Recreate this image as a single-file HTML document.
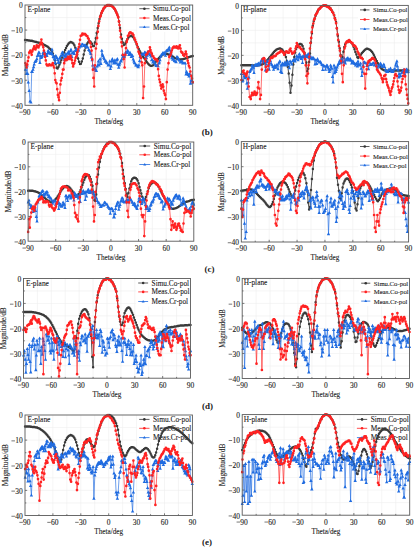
<!DOCTYPE html><html><head><meta charset="utf-8"><style>html,body{margin:0;padding:0;background:#fff;width:417px;height:550px;overflow:hidden}svg{display:block}</style></head><body>
<svg width="417" height="550" viewBox="0 0 417 550" font-family='"Liberation Serif", serif'>
<g><path d="M38.97 5V105.3M52.95 5V105.3M66.92 5V105.3M80.9 5V105.3M94.88 5V105.3M108.85 5V105.3M122.83 5V105.3M136.8 5V105.3M150.77 5V105.3M164.75 5V105.3M178.72 5V105.3M25 92.76H192.7M25 80.22H192.7M25 67.69H192.7M25 55.15H192.7M25 42.61H192.7M25 30.07H192.7M25 17.54H192.7" stroke="#eeeeee" stroke-width="0.6" fill="none"/><rect x="137.3" y="5.5" width="54.9" height="26.6" fill="#fff"/><path d="M139.3 8.7h10.2" stroke="#333" stroke-width="0.8"/><circle cx="144.4" cy="8.7" r="1.3" fill="#333"/><text x="153" y="11.2" font-size="7.3" textLength="37.52" lengthAdjust="spacingAndGlyphs" fill="#1c1c1c" stroke="#1c1c1c" stroke-width="0.1">Simu.Co-pol</text><path d="M139.3 18h10.2" stroke="#f22" stroke-width="0.8"/><circle cx="144.4" cy="18" r="1.3" fill="#f22"/><text x="153" y="20.5" font-size="7.3" textLength="37.91" lengthAdjust="spacingAndGlyphs" fill="#1c1c1c" stroke="#1c1c1c" stroke-width="0.1">Meas.Co-pol</text><path d="M139.3 27.1h10.2" stroke="#1f6be0" stroke-width="0.8"/><path d="M144.4 25.6l1.5 2.5h-3z" fill="#1f6be0"/><text x="153" y="29.6" font-size="7.3" textLength="36.55" lengthAdjust="spacingAndGlyphs" fill="#1c1c1c" stroke="#1c1c1c" stroke-width="0.1">Meas.Cr-pol</text><clipPath id="cbE"><rect x="23.5" y="3.5" width="170.7" height="103.3"/></clipPath><g clip-path="url(#cbE)"><path d="M25 40 25.9 40.1 26.9 40.2 27.8 40.3 28.7 40.4 29.7 40.5 30.6 40.7 31.5 40.8 32.5 41 33.4 41.3 34.3 41.5 35.2 41.7 36.2 42 37.1 42.2 38 42.5 39 42.8 39.9 43 40.8 43.3 41.8 43.7 42.7 44.1 43.6 44.5 44.6 44.9 45.5 45.4 46.4 46 47.4 46.6 48.3 47.3 49.2 48.2 50.2 49.1 51.1 50.2 52 51.6 52.9 53.5 53.9 56.4 54.8 60.1 55.7 63.8 56.7 67.9 57.6 68.4 58.5 66.7 59.5 64.6 60.4 62.4 61.3 59.9 62.3 57.5 63.2 54.9 64.1 52.4 65.1 50 66 47.9 66.9 46 67.9 44.4 68.8 43.2 69.7 42.4 70.7 42.1 71.6 42.2 72.5 42.7 73.4 43.6 74.4 45.2 75.3 47.8 76.2 50.9 77.2 54.4 78.1 58.4 79 61.8 80 64.1 80.9 63.7 81.8 61.6 82.8 58.6 83.7 54.5 84.6 50.5 85.6 47.5 86.5 45.1 87.4 43.2 88.4 41.7 89.3 41.1 90.2 41.5 91.1 42.6 92.1 43.8 93 46 93.9 45.9 94.9 42.6 95.8 38.2 96.7 33.1 97.7 27.9 98.6 23.2 99.5 19 100.5 15.7 101.4 13.2 102.3 11 103.3 9.3 104.2 7.9 105.1 6.8 106.1 6 107 5.5 107.9 5.1 108.9 5 109.8 5.1 110.7 5.4 111.6 5.9 112.6 6.6 113.5 7.6 114.4 8.8 115.4 10.4 116.3 12.2 117.2 14.4 118.2 17.1 119.1 21.6 120 28 121 34.6 121.9 38.8 122.8 42.4 123.8 45.1 124.7 44.6 125.6 42.8 126.6 40.9 127.5 39 128.4 37.6 129.3 36.6 130.3 36 131.2 35.8 132.1 36.2 133.1 37 134 38.4 134.9 40.3 135.9 42.3 136.8 44.5 137.7 46.7 138.7 48.8 139.6 50.7 140.5 52.4 141.5 54.1 142.4 55.6 143.3 57 144.3 58.3 145.2 59.6 146.1 61 147 62.2 148 63.4 148.9 64.4 149.8 65.2 150.8 65.7 151.7 65.8 152.6 65.5 153.6 64.8 154.5 63.7 155.4 62.4 156.4 61.1 157.3 59.9 158.2 58.8 159.2 57.8 160.1 56.8 161 56 162 55.2 162.9 54.6 163.8 54.2 164.8 53.9 165.7 53.7 166.6 53.8 167.5 54.1 168.5 54.4 169.4 54.8 170.3 55.3 171.3 55.8 172.2 56.3 173.1 56.8 174.1 57.4 175 57.9 175.9 58.3 176.9 58.7 177.8 59.1 178.7 59.4 179.7 59.6 180.6 59.6 181.5 59.5 182.5 59.3 183.4 59.1 184.3 58.8 185.2 58.5 186.2 58.2 187.1 57.8 188 57.4 189 57 189.9 56.7 190.8 56.5 191.8 56.3 192.7 56.1" fill="none" stroke="#3a3a3a" stroke-width="0.9"/><path d="M25 40h0M25.9 40.1h0M26.9 40.2h0M27.8 40.3h0M28.7 40.4h0M29.7 40.5h0M30.6 40.7h0M31.5 40.8h0M32.5 41h0M33.4 41.3h0M34.3 41.5h0M35.2 41.7h0M36.2 42h0M37.1 42.2h0M38 42.5h0M39 42.8h0M39.9 43h0M40.8 43.3h0M41.8 43.7h0M42.7 44.1h0M43.6 44.5h0M44.6 44.9h0M45.5 45.4h0M46.4 46h0M47.4 46.6h0M48.3 47.3h0M49.2 48.2h0M50.2 49.1h0M51.1 50.2h0M52 51.6h0M52.9 53.5h0M53.9 56.4h0M54.8 60.1h0M55.7 63.8h0M56.7 67.9h0M57.6 68.4h0M58.5 66.7h0M59.5 64.6h0M60.4 62.4h0M61.3 59.9h0M62.3 57.5h0M63.2 54.9h0M64.1 52.4h0M65.1 50h0M66 47.9h0M66.9 46h0M67.9 44.4h0M68.8 43.2h0M69.7 42.4h0M70.7 42.1h0M71.6 42.2h0M72.5 42.7h0M73.4 43.6h0M74.4 45.2h0M75.3 47.8h0M76.2 50.9h0M77.2 54.4h0M78.1 58.4h0M79 61.8h0M80 64.1h0M80.9 63.7h0M81.8 61.6h0M82.8 58.6h0M83.7 54.5h0M84.6 50.5h0M85.6 47.5h0M86.5 45.1h0M87.4 43.2h0M88.4 41.7h0M89.3 41.1h0M90.2 41.5h0M91.1 42.6h0M92.1 43.8h0M93 46h0M93.9 45.9h0M94.9 42.6h0M95.8 38.2h0M96.7 33.1h0M97.7 27.9h0M98.6 23.2h0M99.5 19h0M100.5 15.7h0M101.4 13.2h0M102.3 11h0M103.3 9.3h0M104.2 7.9h0M105.1 6.8h0M106.1 6h0M107 5.5h0M107.9 5.1h0M108.9 5h0M109.8 5.1h0M110.7 5.4h0M111.6 5.9h0M112.6 6.6h0M113.5 7.6h0M114.4 8.8h0M115.4 10.4h0M116.3 12.2h0M117.2 14.4h0M118.2 17.1h0M119.1 21.6h0M120 28h0M121 34.6h0M121.9 38.8h0M122.8 42.4h0M123.8 45.1h0M124.7 44.6h0M125.6 42.8h0M126.6 40.9h0M127.5 39h0M128.4 37.6h0M129.3 36.6h0M130.3 36h0M131.2 35.8h0M132.1 36.2h0M133.1 37h0M134 38.4h0M134.9 40.3h0M135.9 42.3h0M136.8 44.5h0M137.7 46.7h0M138.7 48.8h0M139.6 50.7h0M140.5 52.4h0M141.5 54.1h0M142.4 55.6h0M143.3 57h0M144.3 58.3h0M145.2 59.6h0M146.1 61h0M147 62.2h0M148 63.4h0M148.9 64.4h0M149.8 65.2h0M150.8 65.7h0M151.7 65.8h0M152.6 65.5h0M153.6 64.8h0M154.5 63.7h0M155.4 62.4h0M156.4 61.1h0M157.3 59.9h0M158.2 58.8h0M159.2 57.8h0M160.1 56.8h0M161 56h0M162 55.2h0M162.9 54.6h0M163.8 54.2h0M164.8 53.9h0M165.7 53.7h0M166.6 53.8h0M167.5 54.1h0M168.5 54.4h0M169.4 54.8h0M170.3 55.3h0M171.3 55.8h0M172.2 56.3h0M173.1 56.8h0M174.1 57.4h0M175 57.9h0M175.9 58.3h0M176.9 58.7h0M177.8 59.1h0M178.7 59.4h0M179.7 59.6h0M180.6 59.6h0M181.5 59.5h0M182.5 59.3h0M183.4 59.1h0M184.3 58.8h0M185.2 58.5h0M186.2 58.2h0M187.1 57.8h0M188 57.4h0M189 57h0M189.9 56.7h0M190.8 56.5h0M191.8 56.3h0M192.7 56.1h0" fill="none" stroke="#3a3a3a" stroke-width="2.5" stroke-linecap="round"/><path d="M25.4 69.6 26.2 73.8 27.1 65.3 27.7 73.6 28.3 82.2 29.2 90.7 30 101.2 30.9 102.3 31.7 71.7 32.3 71.9 33 69.6 33.6 67 34.2 64.3 34.9 61.8 35.5 61.1 36.1 60.5 36.8 59 37.4 55.7 38 54.8 38.7 52.5 39.3 52.7 39.9 62.7 40.6 55.8 41.2 57.8 41.8 56.9 42.5 55.3 43.1 52.7 43.7 53.8 44.4 51.6 45 55.6 45.6 53.7 46.3 54.6 46.9 55.8 47.5 53.3 48.2 50.6 48.8 51.6 49.4 52.7 50.1 53.1 50.7 53.7 51.3 53.1 52 49.5 52.6 54.2 53.2 56.9 53.9 57.4 54.5 59 55.1 62.9 55.8 55.8 56.4 56.6 57 58 57.7 59.7 58.3 62.2 58.9 62.8 59.6 58 60.2 58.1 60.8 55.8 61.5 55.7 62.1 52.7 62.7 52.5 63.4 54.8 64 58.3 64.6 60.1 65.3 55.7 65.9 53.7 66.5 56.7 67.2 56.9 67.8 53.1 68.4 51.6 69.1 57.9 69.7 53.7 70.3 50.7 71 49.5 71.8 56.8 72.6 52.7 73.5 52.1 74.3 53.7 75.2 50.5 76 49.5 76.9 49.2 77.7 50.6 78.6 50.4 79.4 47.4 80.2 46.3 81.1 46.3 81.9 44.4 82.8 44.2 83.6 45.8 84.5 45.3 85.3 45.1 86.2 47.4 87 46.5 87.8 47.4 88.7 49.8 89.5 50.6 90.2 52.3 90.8 53.7 91.4 57.1 92.1 60.1 92.7 65.1 93.3 69.6 94 68.4 94.6 67.5 95.2 69 95.9 70.6 96.5 70.8 97.1 66.4 97.8 65 98.4 61.1 99.2 65.2 100.1 59 100.9 63.7 101.8 50.6 102.4 54.4 103 55.8 103.7 57.5 104.3 59 105.1 61.5 106 61.1 106.6 62.8 107.3 63.2 108.1 65.3 109 65.3 109.8 61.1 110.4 68.9 111.1 66.4 111.7 61.4 112.3 59 113 61.3 113.6 63.2 114.2 62 114.9 60.1 115.5 62.9 116.1 63.2 116.8 59.7 117.4 59 118 64.5 118.7 67.5 119.3 65 119.9 63.2 120.6 61.1 121.2 61.1 121.8 59.1 122.5 54.8 123.1 56.3 123.7 56.9 124.4 56.4 125 54.8 125.6 52.3 126.3 52.7 126.9 52.2 127.5 50.6 128.2 51.2 128.8 54.8 129.4 53.7 130.1 52.7 130.7 54.2 131.3 56.9 132 55.1 132.6 55.8 133.2 59.2 133.9 61.1 134.5 62.9 135.1 63.2 135.8 65.2 136.4 65.3 137 65.4 137.7 66.4 138.3 67.1 138.9 65.3 139.6 60.9 140.2 56.9 140.8 56.9 141.5 54.8 142.1 54.6 142.7 53.7 143.4 54.5 144 54.8 144.6 52.5 145.3 52.7 145.9 56.8 146.5 58 147.2 55.5 147.8 51.6 148.4 53.4 149.1 53.7 149.7 54.1 150.3 54.8 150.9 56.2 151.6 60.1 152.2 59.7 152.8 62.2 153.5 61.6 154.1 61.1 155 63.8 155.8 65.3 156.6 65.7 157.5 65.3 158.1 66 158.8 63.2 159.4 62.2 160 60.1 160.7 56.4 161.3 54.8 162.1 54.2 163 52.7 163.8 53.9 164.7 52.7 165.5 55.6 166.4 50.6 167.2 51 168 49.5 168.7 49.6 169.3 47.4 169.9 50.3 170.6 52.7 171.2 54.2 171.8 58 172.7 59.5 173.5 59 174.4 60.7 175.2 61.1 176.1 61.9 176.9 56.9 177.8 57.3 178.6 59 179.4 60.3 180.3 62.2 181.1 61.6 182 61.1 182.8 63.2 183.7 63.2 184.5 63.3 185.3 63.2 186 74.2 186.6 71.7 187.5 73.5 188.3 74.8 188.9 76.3 189.6 73.8 190.4 83.5 191.3 80.1 192 80.8 192.7 82.2" fill="none" stroke="#1f6be0" stroke-width="0.65"/><path d="M25.4 67.7l1.7 3.1h-3.4zM26.2 71.9l1.7 3.1h-3.4zM27.1 63.5l1.7 3.1h-3.4zM27.7 71.8l1.7 3.1h-3.4zM28.3 80.4l1.7 3.1h-3.4zM29.2 88.8l1.7 3.1h-3.4zM30 99.4l1.7 3.1h-3.4zM30.9 100.4l1.7 3.1h-3.4zM31.7 69.8l1.7 3.1h-3.4zM32.3 70l1.7 3.1h-3.4zM33 67.7l1.7 3.1h-3.4zM33.6 65.1l1.7 3.1h-3.4zM34.2 62.4l1.7 3.1h-3.4zM34.9 59.9l1.7 3.1h-3.4zM35.5 59.3l1.7 3.1h-3.4zM36.1 58.6l1.7 3.1h-3.4zM36.8 57.1l1.7 3.1h-3.4zM37.4 53.8l1.7 3.1h-3.4zM38 52.9l1.7 3.1h-3.4zM38.7 50.6l1.7 3.1h-3.4zM39.3 50.8l1.7 3.1h-3.4zM39.9 60.8l1.7 3.1h-3.4zM40.6 54l1.7 3.1h-3.4zM41.2 55.9l1.7 3.1h-3.4zM41.8 55l1.7 3.1h-3.4zM42.5 53.4l1.7 3.1h-3.4zM43.1 50.8l1.7 3.1h-3.4zM43.7 51.9l1.7 3.1h-3.4zM44.4 49.8l1.7 3.1h-3.4zM45 53.7l1.7 3.1h-3.4zM45.6 51.9l1.7 3.1h-3.4zM46.3 52.7l1.7 3.1h-3.4zM46.9 54l1.7 3.1h-3.4zM47.5 51.4l1.7 3.1h-3.4zM48.2 48.7l1.7 3.1h-3.4zM48.8 49.8l1.7 3.1h-3.4zM49.4 50.8l1.7 3.1h-3.4zM50.1 51.2l1.7 3.1h-3.4zM50.7 51.9l1.7 3.1h-3.4zM51.3 51.2l1.7 3.1h-3.4zM52 47.6l1.7 3.1h-3.4zM52.6 52.4l1.7 3.1h-3.4zM53.2 55l1.7 3.1h-3.4zM53.9 55.5l1.7 3.1h-3.4zM54.5 57.1l1.7 3.1h-3.4zM55.1 61.1l1.7 3.1h-3.4zM55.8 54l1.7 3.1h-3.4zM56.4 54.7l1.7 3.1h-3.4zM57 56.1l1.7 3.1h-3.4zM57.7 57.9l1.7 3.1h-3.4zM58.3 60.3l1.7 3.1h-3.4zM58.9 60.9l1.7 3.1h-3.4zM59.6 56.1l1.7 3.1h-3.4zM60.2 56.3l1.7 3.1h-3.4zM60.8 54l1.7 3.1h-3.4zM61.5 53.8l1.7 3.1h-3.4zM62.1 50.8l1.7 3.1h-3.4zM62.7 50.6l1.7 3.1h-3.4zM63.4 52.9l1.7 3.1h-3.4zM64 56.4l1.7 3.1h-3.4zM64.6 58.2l1.7 3.1h-3.4zM65.3 53.8l1.7 3.1h-3.4zM65.9 51.9l1.7 3.1h-3.4zM66.5 54.8l1.7 3.1h-3.4zM67.2 55l1.7 3.1h-3.4zM67.8 51.2l1.7 3.1h-3.4zM68.4 49.8l1.7 3.1h-3.4zM69.1 56l1.7 3.1h-3.4zM69.7 51.9l1.7 3.1h-3.4zM70.3 48.8l1.7 3.1h-3.4zM71 47.6l1.7 3.1h-3.4zM71.8 54.9l1.7 3.1h-3.4zM72.6 50.8l1.7 3.1h-3.4zM73.5 50.2l1.7 3.1h-3.4zM74.3 51.9l1.7 3.1h-3.4zM75.2 48.6l1.7 3.1h-3.4zM76 47.6l1.7 3.1h-3.4zM76.9 47.3l1.7 3.1h-3.4zM77.7 48.7l1.7 3.1h-3.4zM78.6 48.5l1.7 3.1h-3.4zM79.4 45.5l1.7 3.1h-3.4zM80.2 44.4l1.7 3.1h-3.4zM81.1 44.5l1.7 3.1h-3.4zM81.9 42.5l1.7 3.1h-3.4zM82.8 42.4l1.7 3.1h-3.4zM83.6 44l1.7 3.1h-3.4zM84.5 43.4l1.7 3.1h-3.4zM85.3 43.3l1.7 3.1h-3.4zM86.2 45.5l1.7 3.1h-3.4zM87 44.7l1.7 3.1h-3.4zM87.8 45.5l1.7 3.1h-3.4zM88.7 47.9l1.7 3.1h-3.4zM89.5 48.7l1.7 3.1h-3.4zM90.2 50.4l1.7 3.1h-3.4zM90.8 51.9l1.7 3.1h-3.4zM91.4 55.3l1.7 3.1h-3.4zM92.1 58.2l1.7 3.1h-3.4zM92.7 63.3l1.7 3.1h-3.4zM93.3 67.7l1.7 3.1h-3.4zM94 66.5l1.7 3.1h-3.4zM94.6 65.6l1.7 3.1h-3.4zM95.2 67.1l1.7 3.1h-3.4zM95.9 68.8l1.7 3.1h-3.4zM96.5 69l1.7 3.1h-3.4zM97.1 64.5l1.7 3.1h-3.4zM97.8 63.1l1.7 3.1h-3.4zM98.4 59.3l1.7 3.1h-3.4zM99.2 63.4l1.7 3.1h-3.4zM100.1 57.1l1.7 3.1h-3.4zM100.9 61.8l1.7 3.1h-3.4zM101.8 48.7l1.7 3.1h-3.4zM102.4 52.5l1.7 3.1h-3.4zM103 54l1.7 3.1h-3.4zM103.7 55.6l1.7 3.1h-3.4zM104.3 57.1l1.7 3.1h-3.4zM105.1 59.6l1.7 3.1h-3.4zM106 59.3l1.7 3.1h-3.4zM106.6 60.9l1.7 3.1h-3.4zM107.3 61.4l1.7 3.1h-3.4zM108.1 63.4l1.7 3.1h-3.4zM109 63.5l1.7 3.1h-3.4zM109.8 59.3l1.7 3.1h-3.4zM110.4 67l1.7 3.1h-3.4zM111.1 64.5l1.7 3.1h-3.4zM111.7 59.5l1.7 3.1h-3.4zM112.3 57.1l1.7 3.1h-3.4zM113 59.4l1.7 3.1h-3.4zM113.6 61.4l1.7 3.1h-3.4zM114.2 60.1l1.7 3.1h-3.4zM114.9 58.2l1.7 3.1h-3.4zM115.5 61l1.7 3.1h-3.4zM116.1 61.4l1.7 3.1h-3.4zM116.8 57.8l1.7 3.1h-3.4zM117.4 57.1l1.7 3.1h-3.4zM118 62.6l1.7 3.1h-3.4zM118.7 65.6l1.7 3.1h-3.4zM119.3 63.1l1.7 3.1h-3.4zM119.9 61.4l1.7 3.1h-3.4zM120.6 59.2l1.7 3.1h-3.4zM121.2 59.3l1.7 3.1h-3.4zM121.8 57.3l1.7 3.1h-3.4zM122.5 52.9l1.7 3.1h-3.4zM123.1 54.4l1.7 3.1h-3.4zM123.7 55l1.7 3.1h-3.4zM124.4 54.5l1.7 3.1h-3.4zM125 52.9l1.7 3.1h-3.4zM125.6 50.4l1.7 3.1h-3.4zM126.3 50.8l1.7 3.1h-3.4zM126.9 50.4l1.7 3.1h-3.4zM127.5 48.7l1.7 3.1h-3.4zM128.2 49.4l1.7 3.1h-3.4zM128.8 52.9l1.7 3.1h-3.4zM129.4 51.8l1.7 3.1h-3.4zM130.1 50.8l1.7 3.1h-3.4zM130.7 52.4l1.7 3.1h-3.4zM131.3 55l1.7 3.1h-3.4zM132 53.2l1.7 3.1h-3.4zM132.6 54l1.7 3.1h-3.4zM133.2 57.3l1.7 3.1h-3.4zM133.9 59.3l1.7 3.1h-3.4zM134.5 61l1.7 3.1h-3.4zM135.1 61.4l1.7 3.1h-3.4zM135.8 63.3l1.7 3.1h-3.4zM136.4 63.5l1.7 3.1h-3.4zM137 63.6l1.7 3.1h-3.4zM137.7 64.5l1.7 3.1h-3.4zM138.3 65.2l1.7 3.1h-3.4zM138.9 63.5l1.7 3.1h-3.4zM139.6 59l1.7 3.1h-3.4zM140.2 55l1.7 3.1h-3.4zM140.8 55.1l1.7 3.1h-3.4zM141.5 52.9l1.7 3.1h-3.4zM142.1 52.8l1.7 3.1h-3.4zM142.7 51.9l1.7 3.1h-3.4zM143.4 52.6l1.7 3.1h-3.4zM144 52.9l1.7 3.1h-3.4zM144.6 50.6l1.7 3.1h-3.4zM145.3 50.8l1.7 3.1h-3.4zM145.9 54.9l1.7 3.1h-3.4zM146.5 56.1l1.7 3.1h-3.4zM147.2 53.6l1.7 3.1h-3.4zM147.8 49.8l1.7 3.1h-3.4zM148.4 51.5l1.7 3.1h-3.4zM149.1 51.9l1.7 3.1h-3.4zM149.7 52.2l1.7 3.1h-3.4zM150.3 52.9l1.7 3.1h-3.4zM150.9 54.3l1.7 3.1h-3.4zM151.6 58.2l1.7 3.1h-3.4zM152.2 57.8l1.7 3.1h-3.4zM152.8 60.3l1.7 3.1h-3.4zM153.5 59.7l1.7 3.1h-3.4zM154.1 59.3l1.7 3.1h-3.4zM155 62l1.7 3.1h-3.4zM155.8 63.5l1.7 3.1h-3.4zM156.6 63.8l1.7 3.1h-3.4zM157.5 63.5l1.7 3.1h-3.4zM158.1 64.1l1.7 3.1h-3.4zM158.8 61.4l1.7 3.1h-3.4zM159.4 60.3l1.7 3.1h-3.4zM160 58.2l1.7 3.1h-3.4zM160.7 54.6l1.7 3.1h-3.4zM161.3 52.9l1.7 3.1h-3.4zM162.1 52.3l1.7 3.1h-3.4zM163 50.8l1.7 3.1h-3.4zM163.8 52l1.7 3.1h-3.4zM164.7 50.8l1.7 3.1h-3.4zM165.5 53.7l1.7 3.1h-3.4zM166.4 48.7l1.7 3.1h-3.4zM167.2 49.1l1.7 3.1h-3.4zM168 47.6l1.7 3.1h-3.4zM168.7 47.7l1.7 3.1h-3.4zM169.3 45.5l1.7 3.1h-3.4zM169.9 48.4l1.7 3.1h-3.4zM170.6 50.8l1.7 3.1h-3.4zM171.2 52.4l1.7 3.1h-3.4zM171.8 56.1l1.7 3.1h-3.4zM172.7 57.6l1.7 3.1h-3.4zM173.5 57.1l1.7 3.1h-3.4zM174.4 58.8l1.7 3.1h-3.4zM175.2 59.3l1.7 3.1h-3.4zM176.1 60.1l1.7 3.1h-3.4zM176.9 55l1.7 3.1h-3.4zM177.8 55.4l1.7 3.1h-3.4zM178.6 57.1l1.7 3.1h-3.4zM179.4 58.5l1.7 3.1h-3.4zM180.3 60.3l1.7 3.1h-3.4zM181.1 59.8l1.7 3.1h-3.4zM182 59.3l1.7 3.1h-3.4zM182.8 61.3l1.7 3.1h-3.4zM183.7 61.4l1.7 3.1h-3.4zM184.5 61.5l1.7 3.1h-3.4zM185.3 61.4l1.7 3.1h-3.4zM186 72.4l1.7 3.1h-3.4zM186.6 69.8l1.7 3.1h-3.4zM187.5 71.6l1.7 3.1h-3.4zM188.3 73l1.7 3.1h-3.4zM188.9 74.4l1.7 3.1h-3.4zM189.6 71.9l1.7 3.1h-3.4zM190.4 81.6l1.7 3.1h-3.4zM191.3 78.3l1.7 3.1h-3.4zM192 78.9l1.7 3.1h-3.4zM192.7 80.4l1.7 3.1h-3.4z" fill="#1f6be0"/><path d="M25.4 63.2 26 65.6 26.6 67.5 27.3 64.5 27.9 61.1 28.5 57.4 29.2 52.7 29.8 51.9 30.4 50.6 31.1 52.6 31.7 54.8 32.3 51.4 33 49.5 33.6 48.3 34.2 46.3 34.9 47.6 35.5 49.5 36.1 47.7 36.8 45.3 37.6 46.5 38.5 47.4 39.3 45.6 40.1 44.2 40.8 42.6 41.4 39.6 42 43.1 42.7 45.3 43.3 47.3 43.9 50.6 44.6 53.9 45.2 56.9 45.8 60.4 46.5 64.3 47.1 65.4 47.7 65.3 48.6 65.5 49.4 64.3 50.3 65.1 51.1 65.3 52 64.6 52.8 63.2 53.4 65.6 54.1 67.5 54.7 73.3 55.3 80.1 56 82.5 56.6 83.3 57.2 89.2 57.9 94.9 58.5 97.3 59.1 100.2 59.8 92.8 60.4 84.4 61 80.5 61.7 78 62.3 73.9 62.9 69.6 63.6 69.6 64.2 63.2 64.8 60.4 65.5 59 66.1 59 66.7 60.1 67.4 58.9 68 56.9 68.6 57.4 69.3 59 69.9 57.8 70.5 55.8 71.2 58.3 71.8 60.1 72.4 63.2 73.1 66.4 73.7 64.2 74.3 63.2 75 60.6 75.6 58 76.2 56.7 76.9 54.8 77.5 52.2 78.1 49.5 78.8 47 79.4 44.2 80 39.8 80.7 35.8 81.5 35.4 82.4 33.7 83.1 34.4 83.8 34 84.5 34.1 85.2 34.2 85.9 35.2 86.6 35.8 87.3 36.1 88 37.9 88.7 39 89.5 41.5 90.4 43.2 91 46.9 91.6 50.6 92.3 59.4 92.9 69.6 93.5 77.9 94.2 86.5 95 65.3 95.9 48.5 96.5 43.9 97.1 37.9 97.8 31.8 98.4 25.9 99.2 21.3 100.1 17 100.8 15.7 101.5 12.9 102.2 11.3 102.9 10.3 103.6 8.4 104.3 7.8 105 6.4 105.7 6 106.4 5.8 107.3 5.2 108.1 5.5 109 5 109.7 5.6 110.5 5.5 111.3 5.7 112 5.8 112.7 6.8 113.4 7.5 114.1 8.4 114.8 9 115.5 10.6 116.2 12.4 117 13.8 117.6 15.6 118.2 17.4 118.9 21.4 119.5 25.1 120.1 30.7 120.8 37.2 121.4 42.3 122 46.3 122.9 54.8 123.7 59 124.6 67.5 125.4 54.8 126 48.2 126.7 42.1 127.3 39.6 127.9 35.8 128.6 35.3 129.2 33.3 130.1 32.3 130.9 32.6 131.7 33.5 132.6 33.7 133.4 35.1 134.3 37.9 135.1 39.9 136 42.1 136.8 44.2 137.7 47.4 138.5 51.7 139.3 53.7 140.2 56.1 141 58 141.7 62.4 142.3 65.3 143.1 98.1 144 86.5 144.8 63.2 145.5 59 146.1 54.8 146.7 54.3 147.4 53.7 148 52.2 148.6 51.6 149.3 51.1 149.9 47.4 150.5 50.1 151.2 52.7 151.8 53.7 152.4 55.8 153.3 56.4 154.1 58 155 59.3 155.8 59 156.6 59.4 157.5 61.1 158.1 69.2 158.8 75.9 159.4 79.5 160 82.2 160.7 85.4 161.3 88.6 161.9 86.4 162.6 84.4 163.2 86.7 163.8 90.7 164.5 93.3 165.1 94.9 165.9 99.1 166.8 82.2 167.6 69.6 168.5 63.2 169.3 56.9 169.9 55.8 170.6 54.8 171.2 52.5 171.8 50.6 172.5 48.4 173.1 47.4 174 46.6 174.8 47.4 175.6 47.4 176.5 46.3 177.3 48 178.2 48.5 179 46.7 179.9 45.3 180.5 48.5 181.1 51.6 181.8 52.6 182.4 52.7 183.2 54.9 184.1 55.8 184.9 54.2 185.8 51.6 186.4 54.1 187 56.9 187.7 60.7 188.3 63.2 188.9 65.8 189.6 67.5 190.4 71.5 191.3 75.9 192 78.4 192.7 82.2" fill="none" stroke="#ff2222" stroke-width="0.65"/><path d="M25.4 63.2h0M26 65.6h0M26.6 67.5h0M27.3 64.5h0M27.9 61.1h0M28.5 57.4h0M29.2 52.7h0M29.8 51.9h0M30.4 50.6h0M31.1 52.6h0M31.7 54.8h0M32.3 51.4h0M33 49.5h0M33.6 48.3h0M34.2 46.3h0M34.9 47.6h0M35.5 49.5h0M36.1 47.7h0M36.8 45.3h0M37.6 46.5h0M38.5 47.4h0M39.3 45.6h0M40.1 44.2h0M40.8 42.6h0M41.4 39.6h0M42 43.1h0M42.7 45.3h0M43.3 47.3h0M43.9 50.6h0M44.6 53.9h0M45.2 56.9h0M45.8 60.4h0M46.5 64.3h0M47.1 65.4h0M47.7 65.3h0M48.6 65.5h0M49.4 64.3h0M50.3 65.1h0M51.1 65.3h0M52 64.6h0M52.8 63.2h0M53.4 65.6h0M54.1 67.5h0M54.7 73.3h0M55.3 80.1h0M56 82.5h0M56.6 83.3h0M57.2 89.2h0M57.9 94.9h0M58.5 97.3h0M59.1 100.2h0M59.8 92.8h0M60.4 84.4h0M61 80.5h0M61.7 78h0M62.3 73.9h0M62.9 69.6h0M63.6 69.6h0M64.2 63.2h0M64.8 60.4h0M65.5 59h0M66.1 59h0M66.7 60.1h0M67.4 58.9h0M68 56.9h0M68.6 57.4h0M69.3 59h0M69.9 57.8h0M70.5 55.8h0M71.2 58.3h0M71.8 60.1h0M72.4 63.2h0M73.1 66.4h0M73.7 64.2h0M74.3 63.2h0M75 60.6h0M75.6 58h0M76.2 56.7h0M76.9 54.8h0M77.5 52.2h0M78.1 49.5h0M78.8 47h0M79.4 44.2h0M80 39.8h0M80.7 35.8h0M81.5 35.4h0M82.4 33.7h0M83.1 34.4h0M83.8 34h0M84.5 34.1h0M85.2 34.2h0M85.9 35.2h0M86.6 35.8h0M87.3 36.1h0M88 37.9h0M88.7 39h0M89.5 41.5h0M90.4 43.2h0M91 46.9h0M91.6 50.6h0M92.3 59.4h0M92.9 69.6h0M93.5 77.9h0M94.2 86.5h0M95 65.3h0M95.9 48.5h0M96.5 43.9h0M97.1 37.9h0M97.8 31.8h0M98.4 25.9h0M99.2 21.3h0M100.1 17h0M100.8 15.7h0M101.5 12.9h0M102.2 11.3h0M102.9 10.3h0M103.6 8.4h0M104.3 7.8h0M105 6.4h0M105.7 6h0M106.4 5.8h0M107.3 5.2h0M108.1 5.5h0M109 5h0M109.7 5.6h0M110.5 5.5h0M111.3 5.7h0M112 5.8h0M112.7 6.8h0M113.4 7.5h0M114.1 8.4h0M114.8 9h0M115.5 10.6h0M116.2 12.4h0M117 13.8h0M117.6 15.6h0M118.2 17.4h0M118.9 21.4h0M119.5 25.1h0M120.1 30.7h0M120.8 37.2h0M121.4 42.3h0M122 46.3h0M122.9 54.8h0M123.7 59h0M124.6 67.5h0M125.4 54.8h0M126 48.2h0M126.7 42.1h0M127.3 39.6h0M127.9 35.8h0M128.6 35.3h0M129.2 33.3h0M130.1 32.3h0M130.9 32.6h0M131.7 33.5h0M132.6 33.7h0M133.4 35.1h0M134.3 37.9h0M135.1 39.9h0M136 42.1h0M136.8 44.2h0M137.7 47.4h0M138.5 51.7h0M139.3 53.7h0M140.2 56.1h0M141 58h0M141.7 62.4h0M142.3 65.3h0M143.1 98.1h0M144 86.5h0M144.8 63.2h0M145.5 59h0M146.1 54.8h0M146.7 54.3h0M147.4 53.7h0M148 52.2h0M148.6 51.6h0M149.3 51.1h0M149.9 47.4h0M150.5 50.1h0M151.2 52.7h0M151.8 53.7h0M152.4 55.8h0M153.3 56.4h0M154.1 58h0M155 59.3h0M155.8 59h0M156.6 59.4h0M157.5 61.1h0M158.1 69.2h0M158.8 75.9h0M159.4 79.5h0M160 82.2h0M160.7 85.4h0M161.3 88.6h0M161.9 86.4h0M162.6 84.4h0M163.2 86.7h0M163.8 90.7h0M164.5 93.3h0M165.1 94.9h0M165.9 99.1h0M166.8 82.2h0M167.6 69.6h0M168.5 63.2h0M169.3 56.9h0M169.9 55.8h0M170.6 54.8h0M171.2 52.5h0M171.8 50.6h0M172.5 48.4h0M173.1 47.4h0M174 46.6h0M174.8 47.4h0M175.6 47.4h0M176.5 46.3h0M177.3 48h0M178.2 48.5h0M179 46.7h0M179.9 45.3h0M180.5 48.5h0M181.1 51.6h0M181.8 52.6h0M182.4 52.7h0M183.2 54.9h0M184.1 55.8h0M184.9 54.2h0M185.8 51.6h0M186.4 54.1h0M187 56.9h0M187.7 60.7h0M188.3 63.2h0M188.9 65.8h0M189.6 67.5h0M190.4 71.5h0M191.3 75.9h0M192 78.4h0M192.7 82.2h0" fill="none" stroke="#ff2222" stroke-width="2.7" stroke-linecap="round"/></g><rect x="25" y="5" width="167.7" height="100.3" fill="none" stroke="#5a5a5a" stroke-width="0.9"/><path d="M38.97 105.3v-1.3M52.95 105.3v-2.2M66.92 105.3v-1.3M80.9 105.3v-2.2M94.88 105.3v-1.3M108.85 105.3v-2.2M122.83 105.3v-1.3M136.8 105.3v-2.2M150.77 105.3v-1.3M164.75 105.3v-2.2M178.72 105.3v-1.3M25 92.76h1.3M25 80.22h2.2M25 67.69h1.3M25 55.15h2.2M25 42.61h1.3M25 30.07h2.2M25 17.54h1.3" stroke="#5a5a5a" stroke-width="0.8" fill="none"/><text x="23.12" y="114.7" font-size="7.5" fill="#1c1c1c" stroke="#1c1c1c" stroke-width="0.1">90</text><text x="51.07" y="114.7" font-size="7.5" fill="#1c1c1c" stroke="#1c1c1c" stroke-width="0.1">60</text><text x="79.02" y="114.7" font-size="7.5" fill="#1c1c1c" stroke="#1c1c1c" stroke-width="0.1">30</text><text x="106.97" y="114.7" font-size="7.5" fill="#1c1c1c" stroke="#1c1c1c" stroke-width="0.1">0</text><text x="133.05" y="114.7" font-size="7.5" fill="#1c1c1c" stroke="#1c1c1c" stroke-width="0.1">30</text><text x="161" y="114.7" font-size="7.5" fill="#1c1c1c" stroke="#1c1c1c" stroke-width="0.1">60</text><text x="188.95" y="114.7" font-size="7.5" fill="#1c1c1c" stroke="#1c1c1c" stroke-width="0.1">90</text><text x="22.7" y="8.3" font-size="7.5" text-anchor="end" fill="#1c1c1c" stroke="#1c1c1c" stroke-width="0.1">0</text><text x="22.7" y="33.38" font-size="7.5" text-anchor="end" fill="#1c1c1c" stroke="#1c1c1c" stroke-width="0.1">10</text><text x="22.7" y="58.45" font-size="7.5" text-anchor="end" fill="#1c1c1c" stroke="#1c1c1c" stroke-width="0.1">20</text><text x="22.7" y="83.52" font-size="7.5" text-anchor="end" fill="#1c1c1c" stroke="#1c1c1c" stroke-width="0.1">30</text><text x="22.7" y="108.6" font-size="7.5" text-anchor="end" fill="#1c1c1c" stroke="#1c1c1c" stroke-width="0.1">40</text><path d="M19.38 112.15h3.5M47.32 112.15h3.5M75.27 112.15h3.5M11.45 30.82h3.5M11.45 55.9h3.5M11.45 80.97h3.5M11.45 106.05h3.5" stroke="#1c1c1c" stroke-width="0.6"/><text x="94.45" y="123.6" font-size="7.6" textLength="28.8" lengthAdjust="spacingAndGlyphs" fill="#1c1c1c" stroke="#1c1c1c" stroke-width="0.1">Theta/deg</text><text x="-15.5" y="57.65" font-size="7.5" textLength="42.0" lengthAdjust="spacingAndGlyphs" fill="#1c1c1c" stroke="#1c1c1c" stroke-width="0.1" transform="rotate(-90 5.5 55.15)">Magnitude/dB</text><text x="27.4" y="12" font-size="7.4" fill="#1c1c1c" stroke="#1c1c1c" stroke-width="0.1">E-plane</text></g>
<g><path d="M255.31 5.4V105.3M269.22 5.4V105.3M283.12 5.4V105.3M297.03 5.4V105.3M310.94 5.4V105.3M324.85 5.4V105.3M338.76 5.4V105.3M352.67 5.4V105.3M366.58 5.4V105.3M380.48 5.4V105.3M394.39 5.4V105.3M241.4 92.81H408.3M241.4 80.33H408.3M241.4 67.84H408.3M241.4 55.35H408.3M241.4 42.86H408.3M241.4 30.38H408.3M241.4 17.89H408.3" stroke="#eeeeee" stroke-width="0.6" fill="none"/><rect x="358" y="5.9" width="49.8" height="28" fill="#fff"/><path d="M360 9.9h9.5" stroke="#333" stroke-width="0.8"/><circle cx="364.75" cy="9.9" r="1.3" fill="#333"/><text x="373" y="12.4" font-size="6.7" textLength="34.44" lengthAdjust="spacingAndGlyphs" fill="#1c1c1c" stroke="#1c1c1c" stroke-width="0.1">Simu.Co-pol</text><path d="M360 19.5h9.5" stroke="#f22" stroke-width="0.8"/><circle cx="364.75" cy="19.5" r="1.3" fill="#f22"/><text x="373" y="22" font-size="6.7" textLength="34.8" lengthAdjust="spacingAndGlyphs" fill="#1c1c1c" stroke="#1c1c1c" stroke-width="0.1">Meas.Co-pol</text><path d="M360 28.9h9.5" stroke="#1f6be0" stroke-width="0.8"/><path d="M364.75 27.4l1.5 2.5h-3z" fill="#1f6be0"/><text x="373" y="31.4" font-size="6.7" textLength="33.55" lengthAdjust="spacingAndGlyphs" fill="#1c1c1c" stroke="#1c1c1c" stroke-width="0.1">Meas.Cr-pol</text><clipPath id="cbH"><rect x="239.9" y="3.9" width="169.9" height="102.9"/></clipPath><g clip-path="url(#cbH)"><path d="M241.4 65.3 242.3 65.3 243.3 65.3 244.2 65.3 245.1 65.3 246 65.3 247 65.3 247.9 65.3 248.8 65.3 249.7 65.3 250.7 65.3 251.6 65.3 252.5 65.4 253.5 65.4 254.4 65.4 255.3 65.4 256.2 65.4 257.2 65.4 258.1 65.3 259 65.2 259.9 65 260.9 64.8 261.8 64.5 262.7 64.1 263.7 63.5 264.6 62.9 265.5 62.1 266.4 61.1 267.4 60 268.3 58.9 269.2 57.8 270.1 56.7 271.1 55.6 272 54.4 272.9 53.3 273.9 52.1 274.8 51.1 275.7 50.3 276.6 49.6 277.6 49.1 278.5 48.7 279.4 48.6 280.3 48.6 281.3 48.9 282.2 49.6 283.1 50.7 284.1 52.2 285 54.2 285.9 57.1 286.8 61.3 287.8 66.8 288.7 73.4 289.6 82.8 290.5 92.8 291.5 85.4 292.4 74.8 293.3 64.5 294.3 57.1 295.2 52.4 296.1 49.1 297 46.9 298 45.5 298.9 44.5 299.8 43.9 300.7 43.9 301.7 44.5 302.6 46 303.5 48.8 304.5 52.8 305.4 57.1 306.3 62.6 307.2 71.2 308.2 68.8 309.1 62.1 310 53.6 310.9 42.5 311.9 33.2 312.8 25.7 313.7 21.2 314.7 18.4 315.6 15.7 316.5 13.4 317.4 11.6 318.4 10 319.3 8.7 320.2 7.7 321.1 6.8 322.1 6.2 323 5.8 323.9 5.5 324.8 5.4 325.8 5.5 326.7 5.7 327.6 6.2 328.6 6.8 329.5 7.6 330.4 8.6 331.3 9.9 332.3 11.4 333.2 13.2 334.1 15.3 335 17.9 336 22.1 336.9 28.3 337.8 35.7 338.8 41.7 339.7 48.2 340.6 55.1 341.5 61.1 342.5 57 343.4 51.7 344.3 47.1 345.2 44.3 346.2 42.7 347.1 41.7 348 41.1 349 41 349.9 41.3 350.8 41.9 351.7 43 352.7 44.5 353.6 46.7 354.5 49.3 355.4 52 356.4 54.6 357.3 57.2 358.2 58 359.2 57 360.1 55.6 361 54.4 361.9 53.1 362.9 51.9 363.8 50.9 364.7 49.9 365.6 49.2 366.6 48.8 367.5 48.8 368.4 49 369.4 49.5 370.3 50.1 371.2 50.9 372.1 52 373.1 53.5 374 55.3 374.9 57.3 375.8 59.2 376.8 61.1 377.7 63.1 378.6 64.8 379.6 66.3 380.5 67.6 381.4 68.6 382.3 69.3 383.3 69.8 384.2 70.2 385.1 70.4 386 70.6 387 70.7 387.9 70.7 388.8 70.7 389.8 70.7 390.7 70.7 391.6 70.6 392.5 70.6 393.5 70.6 394.4 70.6 395.3 70.6 396.2 70.6 397.2 70.6 398.1 70.6 399 70.6 400 70.6 400.9 70.6 401.8 70.6 402.7 70.6 403.7 70.6 404.6 70.6 405.5 70.6 406.4 70.6 407.4 70.6 408.3 70.6" fill="none" stroke="#3a3a3a" stroke-width="0.9"/><path d="M241.4 65.3h0M242.3 65.3h0M243.3 65.3h0M244.2 65.3h0M245.1 65.3h0M246 65.3h0M247 65.3h0M247.9 65.3h0M248.8 65.3h0M249.7 65.3h0M250.7 65.3h0M251.6 65.3h0M252.5 65.4h0M253.5 65.4h0M254.4 65.4h0M255.3 65.4h0M256.2 65.4h0M257.2 65.4h0M258.1 65.3h0M259 65.2h0M259.9 65h0M260.9 64.8h0M261.8 64.5h0M262.7 64.1h0M263.7 63.5h0M264.6 62.9h0M265.5 62.1h0M266.4 61.1h0M267.4 60h0M268.3 58.9h0M269.2 57.8h0M270.1 56.7h0M271.1 55.6h0M272 54.4h0M272.9 53.3h0M273.9 52.1h0M274.8 51.1h0M275.7 50.3h0M276.6 49.6h0M277.6 49.1h0M278.5 48.7h0M279.4 48.6h0M280.3 48.6h0M281.3 48.9h0M282.2 49.6h0M283.1 50.7h0M284.1 52.2h0M285 54.2h0M285.9 57.1h0M286.8 61.3h0M287.8 66.8h0M288.7 73.4h0M289.6 82.8h0M290.5 92.8h0M291.5 85.4h0M292.4 74.8h0M293.3 64.5h0M294.3 57.1h0M295.2 52.4h0M296.1 49.1h0M297 46.9h0M298 45.5h0M298.9 44.5h0M299.8 43.9h0M300.7 43.9h0M301.7 44.5h0M302.6 46h0M303.5 48.8h0M304.5 52.8h0M305.4 57.1h0M306.3 62.6h0M307.2 71.2h0M308.2 68.8h0M309.1 62.1h0M310 53.6h0M310.9 42.5h0M311.9 33.2h0M312.8 25.7h0M313.7 21.2h0M314.7 18.4h0M315.6 15.7h0M316.5 13.4h0M317.4 11.6h0M318.4 10h0M319.3 8.7h0M320.2 7.7h0M321.1 6.8h0M322.1 6.2h0M323 5.8h0M323.9 5.5h0M324.8 5.4h0M325.8 5.5h0M326.7 5.7h0M327.6 6.2h0M328.6 6.8h0M329.5 7.6h0M330.4 8.6h0M331.3 9.9h0M332.3 11.4h0M333.2 13.2h0M334.1 15.3h0M335 17.9h0M336 22.1h0M336.9 28.3h0M337.8 35.7h0M338.8 41.7h0M339.7 48.2h0M340.6 55.1h0M341.5 61.1h0M342.5 57h0M343.4 51.7h0M344.3 47.1h0M345.2 44.3h0M346.2 42.7h0M347.1 41.7h0M348 41.1h0M349 41h0M349.9 41.3h0M350.8 41.9h0M351.7 43h0M352.7 44.5h0M353.6 46.7h0M354.5 49.3h0M355.4 52h0M356.4 54.6h0M357.3 57.2h0M358.2 58h0M359.2 57h0M360.1 55.6h0M361 54.4h0M361.9 53.1h0M362.9 51.9h0M363.8 50.9h0M364.7 49.9h0M365.6 49.2h0M366.6 48.8h0M367.5 48.8h0M368.4 49h0M369.4 49.5h0M370.3 50.1h0M371.2 50.9h0M372.1 52h0M373.1 53.5h0M374 55.3h0M374.9 57.3h0M375.8 59.2h0M376.8 61.1h0M377.7 63.1h0M378.6 64.8h0M379.6 66.3h0M380.5 67.6h0M381.4 68.6h0M382.3 69.3h0M383.3 69.8h0M384.2 70.2h0M385.1 70.4h0M386 70.6h0M387 70.7h0M387.9 70.7h0M388.8 70.7h0M389.8 70.7h0M390.7 70.7h0M391.6 70.6h0M392.5 70.6h0M393.5 70.6h0M394.4 70.6h0M395.3 70.6h0M396.2 70.6h0M397.2 70.6h0M398.1 70.6h0M399 70.6h0M400 70.6h0M400.9 70.6h0M401.8 70.6h0M402.7 70.6h0M403.7 70.6h0M404.6 70.6h0M405.5 70.6h0M406.4 70.6h0M407.4 70.6h0M408.3 70.6h0" fill="none" stroke="#3a3a3a" stroke-width="2.5" stroke-linecap="round"/><path d="M241.4 73.8 242.4 81.2 243 80.2 243.6 73.8 244.3 76.3 244.9 78 245.5 76.7 246.2 77 246.8 83.3 247.4 88.6 248.3 82.2 248.9 77.4 249.6 71.7 250.2 70.7 250.8 69.6 251.5 69 252.1 65.3 252.7 67 253.4 67.5 254 72.8 254.6 65.3 255.2 65.5 255.9 64.3 256.5 65.6 257.1 64.3 257.8 65.4 258.4 63.2 259 65 259.7 64.3 260.3 62.7 260.9 61.1 261.6 60.3 262.2 59 262.8 61 263.5 62.2 264.1 59.9 264.7 60.1 265.4 70.4 266 64.3 266.6 61.7 267.3 61.1 267.9 61.7 268.5 64.3 269.2 69.5 269.8 59 270.4 60.9 271.1 63.2 271.7 64.6 272.3 65.3 273 66.8 273.6 69.6 274.2 67.6 274.9 65.3 275.5 67.1 276.1 67.5 276.8 64.9 277.4 65.3 278 69 278.7 63.2 279.3 61.8 279.9 61.1 280.6 71.9 281.2 65.3 281.8 72.9 282.5 63.2 283.1 64.1 283.7 65.3 284.4 65.2 285 62.2 285.6 63.8 286.3 65.3 286.9 63.9 287.5 61.1 288.2 64.1 288.8 64.3 289.4 68 290.1 61.1 290.9 62.6 291.8 64.3 292.6 60.8 293.4 60.1 294.3 59.5 295.1 61.1 296 59 296.8 55.8 297.5 57.2 298.1 60.1 298.7 56.7 299.4 53.7 300 55.9 300.6 58 301.3 58.8 301.9 56.9 302.5 62.7 303.2 55.8 303.8 57.2 304.4 56.9 305.1 55.4 305.7 54.8 306.3 56.4 307 56.9 307.6 55.6 308.2 53.7 308.9 57.5 309.5 55.8 310.1 57.8 310.8 56.9 311.6 59.1 312.4 58 313.3 57.8 314.1 59 315 64.2 315.8 60.1 316.7 63.7 317.5 59 318.3 60.7 319.2 62.2 319.9 62.2 320.6 62 321.3 63.2 322 64.7 322.7 69.8 323.4 65.3 324.2 66.2 324.9 66.4 325.5 69.6 326.2 66.6 326.8 65.3 327.4 65.7 328.1 67.5 328.7 69.2 329.3 71.7 330 70 330.6 65.3 331.2 67.1 331.9 68.5 332.5 76.6 333.1 82.2 334 65.3 334.6 73 335.2 67.5 335.9 71.8 336.5 69.6 337.1 67.4 337.8 65.3 338.4 63.7 339 63.2 339.7 60.9 340.3 61.1 340.9 63 341.6 59 342.2 61.3 342.8 62.2 343.5 62.3 344.1 58 344.7 61.3 345.4 63.2 346 60 346.6 59 347.3 58.7 347.9 58 348.5 60.3 349.2 60.1 349.8 59.4 350.4 59 351.1 60.5 351.7 63.2 352.3 61.9 353 61.1 353.6 63.4 354.2 63.2 354.9 63.9 355.5 65.3 356.1 63.9 356.8 63.2 357.4 66.4 358 61.1 358.7 64.1 359.3 65.3 359.9 65.3 360.6 63.2 361.2 68.6 361.8 75.9 362.5 71.8 363.1 65.3 363.7 62.3 364.4 62.2 365.2 62.8 366.1 63.2 366.9 65.7 367.7 65.3 368.6 69.1 369.4 62.2 370.3 64.8 371.1 64.3 372 64.5 372.8 63.2 373.6 63 374.5 65.3 375.1 63.2 375.8 63.2 376.6 65.8 377.4 67.5 378.3 66.1 379.1 66.4 379.8 64.9 380.4 63.2 381.2 64.5 382.1 66.4 382.9 66.8 383.8 64.3 384.6 66.9 385.5 69.6 386.3 71.3 387.2 71.7 388 71.9 388.8 69.6 389.7 70 390.5 68.5 391.4 71.2 392.2 71.7 393.1 71.6 393.9 69.6 394.8 68.8 395.6 65.3 396.2 63.3 396.9 61.1 397.5 66.3 398.1 69.6 398.8 77.4 399.4 73.8 400 76.3 400.7 75.9 401.5 72.8 402.3 71.7 403.2 70.4 404 69.6 404.9 74.5 405.7 71.7 406.4 69.5 407 69.6 407.6 72 408.3 71.7" fill="none" stroke="#1f6be0" stroke-width="0.65"/><path d="M241.4 71.9l1.7 3.1h-3.4zM242.4 79.3l1.7 3.1h-3.4zM243 78.4l1.7 3.1h-3.4zM243.6 71.9l1.7 3.1h-3.4zM244.3 74.5l1.7 3.1h-3.4zM244.9 76.1l1.7 3.1h-3.4zM245.5 74.8l1.7 3.1h-3.4zM246.2 75.1l1.7 3.1h-3.4zM246.8 81.4l1.7 3.1h-3.4zM247.4 86.7l1.7 3.1h-3.4zM248.3 80.4l1.7 3.1h-3.4zM248.9 75.6l1.7 3.1h-3.4zM249.6 69.8l1.7 3.1h-3.4zM250.2 68.9l1.7 3.1h-3.4zM250.8 67.7l1.7 3.1h-3.4zM251.5 67.1l1.7 3.1h-3.4zM252.1 63.5l1.7 3.1h-3.4zM252.7 65.1l1.7 3.1h-3.4zM253.4 65.6l1.7 3.1h-3.4zM254 70.9l1.7 3.1h-3.4zM254.6 63.5l1.7 3.1h-3.4zM255.2 63.7l1.7 3.1h-3.4zM255.9 62.4l1.7 3.1h-3.4zM256.5 63.7l1.7 3.1h-3.4zM257.1 62.4l1.7 3.1h-3.4zM257.8 63.5l1.7 3.1h-3.4zM258.4 61.4l1.7 3.1h-3.4zM259 63.1l1.7 3.1h-3.4zM259.7 62.4l1.7 3.1h-3.4zM260.3 60.9l1.7 3.1h-3.4zM260.9 59.3l1.7 3.1h-3.4zM261.6 58.4l1.7 3.1h-3.4zM262.2 57.1l1.7 3.1h-3.4zM262.8 59.1l1.7 3.1h-3.4zM263.5 60.3l1.7 3.1h-3.4zM264.1 58l1.7 3.1h-3.4zM264.7 58.2l1.7 3.1h-3.4zM265.4 68.5l1.7 3.1h-3.4zM266 62.4l1.7 3.1h-3.4zM266.6 59.8l1.7 3.1h-3.4zM267.3 59.3l1.7 3.1h-3.4zM267.9 59.8l1.7 3.1h-3.4zM268.5 62.4l1.7 3.1h-3.4zM269.2 67.7l1.7 3.1h-3.4zM269.8 57.1l1.7 3.1h-3.4zM270.4 59l1.7 3.1h-3.4zM271.1 61.4l1.7 3.1h-3.4zM271.7 62.7l1.7 3.1h-3.4zM272.3 63.5l1.7 3.1h-3.4zM273 64.9l1.7 3.1h-3.4zM273.6 67.7l1.7 3.1h-3.4zM274.2 65.8l1.7 3.1h-3.4zM274.9 63.5l1.7 3.1h-3.4zM275.5 65.2l1.7 3.1h-3.4zM276.1 65.6l1.7 3.1h-3.4zM276.8 63.1l1.7 3.1h-3.4zM277.4 63.5l1.7 3.1h-3.4zM278 67.1l1.7 3.1h-3.4zM278.7 61.4l1.7 3.1h-3.4zM279.3 60l1.7 3.1h-3.4zM279.9 59.3l1.7 3.1h-3.4zM280.6 70l1.7 3.1h-3.4zM281.2 63.5l1.7 3.1h-3.4zM281.8 71l1.7 3.1h-3.4zM282.5 61.4l1.7 3.1h-3.4zM283.1 62.2l1.7 3.1h-3.4zM283.7 63.5l1.7 3.1h-3.4zM284.4 63.3l1.7 3.1h-3.4zM285 60.3l1.7 3.1h-3.4zM285.6 62l1.7 3.1h-3.4zM286.3 63.5l1.7 3.1h-3.4zM286.9 62l1.7 3.1h-3.4zM287.5 59.3l1.7 3.1h-3.4zM288.2 62.3l1.7 3.1h-3.4zM288.8 62.4l1.7 3.1h-3.4zM289.4 66.1l1.7 3.1h-3.4zM290.1 59.3l1.7 3.1h-3.4zM290.9 60.7l1.7 3.1h-3.4zM291.8 62.4l1.7 3.1h-3.4zM292.6 59l1.7 3.1h-3.4zM293.4 58.2l1.7 3.1h-3.4zM294.3 57.6l1.7 3.1h-3.4zM295.1 59.3l1.7 3.1h-3.4zM296 57.1l1.7 3.1h-3.4zM296.8 54l1.7 3.1h-3.4zM297.5 55.4l1.7 3.1h-3.4zM298.1 58.2l1.7 3.1h-3.4zM298.7 54.8l1.7 3.1h-3.4zM299.4 51.9l1.7 3.1h-3.4zM300 54.1l1.7 3.1h-3.4zM300.6 56.1l1.7 3.1h-3.4zM301.3 56.9l1.7 3.1h-3.4zM301.9 55l1.7 3.1h-3.4zM302.5 60.9l1.7 3.1h-3.4zM303.2 54l1.7 3.1h-3.4zM303.8 55.4l1.7 3.1h-3.4zM304.4 55l1.7 3.1h-3.4zM305.1 53.6l1.7 3.1h-3.4zM305.7 52.9l1.7 3.1h-3.4zM306.3 54.5l1.7 3.1h-3.4zM307 55l1.7 3.1h-3.4zM307.6 53.7l1.7 3.1h-3.4zM308.2 51.9l1.7 3.1h-3.4zM308.9 55.7l1.7 3.1h-3.4zM309.5 54l1.7 3.1h-3.4zM310.1 55.9l1.7 3.1h-3.4zM310.8 55l1.7 3.1h-3.4zM311.6 57.2l1.7 3.1h-3.4zM312.4 56.1l1.7 3.1h-3.4zM313.3 55.9l1.7 3.1h-3.4zM314.1 57.1l1.7 3.1h-3.4zM315 62.4l1.7 3.1h-3.4zM315.8 58.2l1.7 3.1h-3.4zM316.7 61.8l1.7 3.1h-3.4zM317.5 57.1l1.7 3.1h-3.4zM318.3 58.9l1.7 3.1h-3.4zM319.2 60.3l1.7 3.1h-3.4zM319.9 60.3l1.7 3.1h-3.4zM320.6 60.1l1.7 3.1h-3.4zM321.3 61.4l1.7 3.1h-3.4zM322 62.8l1.7 3.1h-3.4zM322.7 68l1.7 3.1h-3.4zM323.4 63.5l1.7 3.1h-3.4zM324.2 64.4l1.7 3.1h-3.4zM324.9 64.5l1.7 3.1h-3.4zM325.5 67.7l1.7 3.1h-3.4zM326.2 64.7l1.7 3.1h-3.4zM326.8 63.5l1.7 3.1h-3.4zM327.4 63.8l1.7 3.1h-3.4zM328.1 65.6l1.7 3.1h-3.4zM328.7 67.3l1.7 3.1h-3.4zM329.3 69.8l1.7 3.1h-3.4zM330 68.1l1.7 3.1h-3.4zM330.6 63.5l1.7 3.1h-3.4zM331.2 65.2l1.7 3.1h-3.4zM331.9 66.6l1.7 3.1h-3.4zM332.5 74.8l1.7 3.1h-3.4zM333.1 80.4l1.7 3.1h-3.4zM334 63.5l1.7 3.1h-3.4zM334.6 71.1l1.7 3.1h-3.4zM335.2 65.6l1.7 3.1h-3.4zM335.9 69.9l1.7 3.1h-3.4zM336.5 67.7l1.7 3.1h-3.4zM337.1 65.5l1.7 3.1h-3.4zM337.8 63.5l1.7 3.1h-3.4zM338.4 61.8l1.7 3.1h-3.4zM339 61.4l1.7 3.1h-3.4zM339.7 59l1.7 3.1h-3.4zM340.3 59.3l1.7 3.1h-3.4zM340.9 61.1l1.7 3.1h-3.4zM341.6 57.1l1.7 3.1h-3.4zM342.2 59.4l1.7 3.1h-3.4zM342.8 60.3l1.7 3.1h-3.4zM343.5 60.4l1.7 3.1h-3.4zM344.1 56.1l1.7 3.1h-3.4zM344.7 59.4l1.7 3.1h-3.4zM345.4 61.4l1.7 3.1h-3.4zM346 58.1l1.7 3.1h-3.4zM346.6 57.1l1.7 3.1h-3.4zM347.3 56.8l1.7 3.1h-3.4zM347.9 56.1l1.7 3.1h-3.4zM348.5 58.5l1.7 3.1h-3.4zM349.2 58.2l1.7 3.1h-3.4zM349.8 57.5l1.7 3.1h-3.4zM350.4 57.1l1.7 3.1h-3.4zM351.1 58.7l1.7 3.1h-3.4zM351.7 61.4l1.7 3.1h-3.4zM352.3 60l1.7 3.1h-3.4zM353 59.3l1.7 3.1h-3.4zM353.6 61.5l1.7 3.1h-3.4zM354.2 61.4l1.7 3.1h-3.4zM354.9 62l1.7 3.1h-3.4zM355.5 63.5l1.7 3.1h-3.4zM356.1 62l1.7 3.1h-3.4zM356.8 61.4l1.7 3.1h-3.4zM357.4 64.5l1.7 3.1h-3.4zM358 59.3l1.7 3.1h-3.4zM358.7 62.3l1.7 3.1h-3.4zM359.3 63.5l1.7 3.1h-3.4zM359.9 63.4l1.7 3.1h-3.4zM360.6 61.4l1.7 3.1h-3.4zM361.2 66.7l1.7 3.1h-3.4zM361.8 74l1.7 3.1h-3.4zM362.5 69.9l1.7 3.1h-3.4zM363.1 63.5l1.7 3.1h-3.4zM363.7 60.5l1.7 3.1h-3.4zM364.4 60.3l1.7 3.1h-3.4zM365.2 61l1.7 3.1h-3.4zM366.1 61.4l1.7 3.1h-3.4zM366.9 63.8l1.7 3.1h-3.4zM367.7 63.5l1.7 3.1h-3.4zM368.6 67.2l1.7 3.1h-3.4zM369.4 60.3l1.7 3.1h-3.4zM370.3 62.9l1.7 3.1h-3.4zM371.1 62.4l1.7 3.1h-3.4zM372 62.6l1.7 3.1h-3.4zM372.8 61.4l1.7 3.1h-3.4zM373.6 61.2l1.7 3.1h-3.4zM374.5 63.5l1.7 3.1h-3.4zM375.1 61.4l1.7 3.1h-3.4zM375.8 61.4l1.7 3.1h-3.4zM376.6 63.9l1.7 3.1h-3.4zM377.4 65.6l1.7 3.1h-3.4zM378.3 64.2l1.7 3.1h-3.4zM379.1 64.5l1.7 3.1h-3.4zM379.8 63l1.7 3.1h-3.4zM380.4 61.4l1.7 3.1h-3.4zM381.2 62.6l1.7 3.1h-3.4zM382.1 64.5l1.7 3.1h-3.4zM382.9 64.9l1.7 3.1h-3.4zM383.8 62.4l1.7 3.1h-3.4zM384.6 65l1.7 3.1h-3.4zM385.5 67.7l1.7 3.1h-3.4zM386.3 69.4l1.7 3.1h-3.4zM387.2 69.8l1.7 3.1h-3.4zM388 70l1.7 3.1h-3.4zM388.8 67.7l1.7 3.1h-3.4zM389.7 68.2l1.7 3.1h-3.4zM390.5 66.6l1.7 3.1h-3.4zM391.4 69.3l1.7 3.1h-3.4zM392.2 69.8l1.7 3.1h-3.4zM393.1 69.8l1.7 3.1h-3.4zM393.9 67.7l1.7 3.1h-3.4zM394.8 67l1.7 3.1h-3.4zM395.6 63.5l1.7 3.1h-3.4zM396.2 61.4l1.7 3.1h-3.4zM396.9 59.3l1.7 3.1h-3.4zM397.5 64.4l1.7 3.1h-3.4zM398.1 67.7l1.7 3.1h-3.4zM398.8 75.5l1.7 3.1h-3.4zM399.4 71.9l1.7 3.1h-3.4zM400 74.5l1.7 3.1h-3.4zM400.7 74l1.7 3.1h-3.4zM401.5 70.9l1.7 3.1h-3.4zM402.3 69.8l1.7 3.1h-3.4zM403.2 68.5l1.7 3.1h-3.4zM404 67.7l1.7 3.1h-3.4zM404.9 72.6l1.7 3.1h-3.4zM405.7 69.8l1.7 3.1h-3.4zM406.4 67.6l1.7 3.1h-3.4zM407 67.7l1.7 3.1h-3.4zM407.6 70.1l1.7 3.1h-3.4zM408.3 69.8l1.7 3.1h-3.4z" fill="#1f6be0"/><path d="M241.4 80.1 242.4 71.7 243 71.1 243.6 70.6 244.3 73.3 244.9 73.8 245.5 74.3 246.2 75.9 246.8 73.4 247.4 71.7 248.1 79.2 248.7 86.5 249.6 97 250.2 97.6 250.8 99.1 251.5 95.4 252.1 92.8 252.7 93.6 253.4 94.9 254 93.8 254.6 91.7 255.2 92.9 255.9 94.9 256.5 94.5 257.1 92.8 257.8 87.6 258.4 82.2 259.3 88.6 260.1 99.1 260.9 94.9 261.8 69.6 262.6 59 263.3 58.5 263.9 58 264.5 58.8 265.2 61.1 265.8 66.9 266.4 71.7 267.1 70.7 267.7 69.6 268.3 66 269 63.2 269.8 60.8 270.7 58 271.5 57.2 272.3 58 273.2 56.7 274 55.8 274.9 56.2 275.7 55.8 276.6 54.2 277.4 53.7 278.3 52.9 279.1 52.7 279.9 52.2 280.8 50.6 281.6 51.3 282.5 51.6 283.3 52.8 284.2 54.8 284.8 53.2 285.4 52.7 286.3 51.4 287.1 51.6 288 52.7 288.8 52.7 289.6 49.9 290.5 48.5 291.3 51.4 292.2 53.7 293 53.2 293.9 52.7 294.7 51.3 295.6 48.5 296.2 46.4 296.8 43.2 297.7 45.2 298.5 46.3 299.4 47.5 300.2 47.4 301 49 301.9 49.5 302.5 50.6 303.2 51.6 303.8 52.1 304.4 53.7 305.1 59.2 305.7 65.3 306.5 75.9 307.4 83.3 308 73.6 308.6 65.3 309.3 56.8 309.9 48.5 310.5 43 311.2 37.9 311.8 32 312.4 27.4 313.3 23.5 314.1 19.8 314.8 18.4 315.5 15.2 316.2 14 317 13.1 317.7 11.5 318.5 9.4 319.2 8.8 320 8.6 320.8 7.6 321.6 6.5 322.4 6 323.2 5.5 324.1 5.4 324.9 5.4 325.7 5.4 326.6 6.4 327.4 7 328.3 6.6 329.1 7.8 329.9 8.8 330.6 8.6 331.4 10 332.3 12 333.1 12.8 334 15 334.7 18.2 335.4 19.8 336.1 23.2 336.8 28.3 337.5 34.3 338.2 40 339 46 339.9 50.6 340.5 55.9 341.1 61.1 342 73.8 342.8 82.2 343.7 65.3 344.5 48.5 345.2 46.2 345.8 43.2 346.6 41.9 347.5 41.1 348.3 42 349.2 40 350 41.4 350.9 42.1 351.7 43.1 352.5 43.2 353.4 45.7 354.2 45.3 355.1 46.1 355.9 47.4 356.8 48.9 357.6 51.6 358.5 53.2 359.3 54.8 360.1 56.9 361 58 361.8 57.9 362.7 59 363.5 67 364.4 73.8 365.2 88.6 366.1 73.8 366.7 69.3 367.3 65.3 367.9 62.7 368.6 61.1 369.2 61.4 369.8 60.1 370.7 59.9 371.5 59 372.2 58 372.8 58 373.4 58.7 374.1 59 374.9 60.5 375.8 63.2 376.4 66.5 377 69.6 377.7 70.4 378.3 71.7 379.1 72.5 380 73.8 380.8 75.3 381.7 78 382.3 79.5 382.9 82.2 383.6 79.1 384.2 75.9 384.8 75.5 385.5 74.8 386.1 79.2 386.7 82.2 387.4 84.9 388 86.5 388.6 88 389.3 90.7 389.9 92.5 390.5 94.9 391.2 91.3 391.8 88.6 392.4 87 393.1 84.4 393.7 81.3 394.3 78 395 75.2 395.6 73.8 396.2 75.6 396.9 75.9 397.5 81.4 398.1 86.5 398.8 89.9 399.4 92.8 400 91.6 400.7 90.7 401.3 87.7 401.9 82.2 402.6 79 403.2 75.9 403.8 72.6 404.5 69.6 405.1 76.4 405.7 84.4 406.4 89.3 407 94.9 407.6 98.9 408.3 103.4" fill="none" stroke="#ff2222" stroke-width="0.65"/><path d="M241.4 80.1h0M242.4 71.7h0M243 71.1h0M243.6 70.6h0M244.3 73.3h0M244.9 73.8h0M245.5 74.3h0M246.2 75.9h0M246.8 73.4h0M247.4 71.7h0M248.1 79.2h0M248.7 86.5h0M249.6 97h0M250.2 97.6h0M250.8 99.1h0M251.5 95.4h0M252.1 92.8h0M252.7 93.6h0M253.4 94.9h0M254 93.8h0M254.6 91.7h0M255.2 92.9h0M255.9 94.9h0M256.5 94.5h0M257.1 92.8h0M257.8 87.6h0M258.4 82.2h0M259.3 88.6h0M260.1 99.1h0M260.9 94.9h0M261.8 69.6h0M262.6 59h0M263.3 58.5h0M263.9 58h0M264.5 58.8h0M265.2 61.1h0M265.8 66.9h0M266.4 71.7h0M267.1 70.7h0M267.7 69.6h0M268.3 66h0M269 63.2h0M269.8 60.8h0M270.7 58h0M271.5 57.2h0M272.3 58h0M273.2 56.7h0M274 55.8h0M274.9 56.2h0M275.7 55.8h0M276.6 54.2h0M277.4 53.7h0M278.3 52.9h0M279.1 52.7h0M279.9 52.2h0M280.8 50.6h0M281.6 51.3h0M282.5 51.6h0M283.3 52.8h0M284.2 54.8h0M284.8 53.2h0M285.4 52.7h0M286.3 51.4h0M287.1 51.6h0M288 52.7h0M288.8 52.7h0M289.6 49.9h0M290.5 48.5h0M291.3 51.4h0M292.2 53.7h0M293 53.2h0M293.9 52.7h0M294.7 51.3h0M295.6 48.5h0M296.2 46.4h0M296.8 43.2h0M297.7 45.2h0M298.5 46.3h0M299.4 47.5h0M300.2 47.4h0M301 49h0M301.9 49.5h0M302.5 50.6h0M303.2 51.6h0M303.8 52.1h0M304.4 53.7h0M305.1 59.2h0M305.7 65.3h0M306.5 75.9h0M307.4 83.3h0M308 73.6h0M308.6 65.3h0M309.3 56.8h0M309.9 48.5h0M310.5 43h0M311.2 37.9h0M311.8 32h0M312.4 27.4h0M313.3 23.5h0M314.1 19.8h0M314.8 18.4h0M315.5 15.2h0M316.2 14h0M317 13.1h0M317.7 11.5h0M318.5 9.4h0M319.2 8.8h0M320 8.6h0M320.8 7.6h0M321.6 6.5h0M322.4 6h0M323.2 5.5h0M324.1 5.4h0M324.9 5.4h0M325.7 5.4h0M326.6 6.4h0M327.4 7h0M328.3 6.6h0M329.1 7.8h0M329.9 8.8h0M330.6 8.6h0M331.4 10h0M332.3 12h0M333.1 12.8h0M334 15h0M334.7 18.2h0M335.4 19.8h0M336.1 23.2h0M336.8 28.3h0M337.5 34.3h0M338.2 40h0M339 46h0M339.9 50.6h0M340.5 55.9h0M341.1 61.1h0M342 73.8h0M342.8 82.2h0M343.7 65.3h0M344.5 48.5h0M345.2 46.2h0M345.8 43.2h0M346.6 41.9h0M347.5 41.1h0M348.3 42h0M349.2 40h0M350 41.4h0M350.9 42.1h0M351.7 43.1h0M352.5 43.2h0M353.4 45.7h0M354.2 45.3h0M355.1 46.1h0M355.9 47.4h0M356.8 48.9h0M357.6 51.6h0M358.5 53.2h0M359.3 54.8h0M360.1 56.9h0M361 58h0M361.8 57.9h0M362.7 59h0M363.5 67h0M364.4 73.8h0M365.2 88.6h0M366.1 73.8h0M366.7 69.3h0M367.3 65.3h0M367.9 62.7h0M368.6 61.1h0M369.2 61.4h0M369.8 60.1h0M370.7 59.9h0M371.5 59h0M372.2 58h0M372.8 58h0M373.4 58.7h0M374.1 59h0M374.9 60.5h0M375.8 63.2h0M376.4 66.5h0M377 69.6h0M377.7 70.4h0M378.3 71.7h0M379.1 72.5h0M380 73.8h0M380.8 75.3h0M381.7 78h0M382.3 79.5h0M382.9 82.2h0M383.6 79.1h0M384.2 75.9h0M384.8 75.5h0M385.5 74.8h0M386.1 79.2h0M386.7 82.2h0M387.4 84.9h0M388 86.5h0M388.6 88h0M389.3 90.7h0M389.9 92.5h0M390.5 94.9h0M391.2 91.3h0M391.8 88.6h0M392.4 87h0M393.1 84.4h0M393.7 81.3h0M394.3 78h0M395 75.2h0M395.6 73.8h0M396.2 75.6h0M396.9 75.9h0M397.5 81.4h0M398.1 86.5h0M398.8 89.9h0M399.4 92.8h0M400 91.6h0M400.7 90.7h0M401.3 87.7h0M401.9 82.2h0M402.6 79h0M403.2 75.9h0M403.8 72.6h0M404.5 69.6h0M405.1 76.4h0M405.7 84.4h0M406.4 89.3h0M407 94.9h0M407.6 98.9h0M408.3 103.4h0" fill="none" stroke="#ff2222" stroke-width="2.7" stroke-linecap="round"/></g><rect x="241.4" y="5.4" width="166.9" height="99.9" fill="none" stroke="#5a5a5a" stroke-width="0.9"/><path d="M255.31 105.3v-1.3M269.22 105.3v-2.2M283.12 105.3v-1.3M297.03 105.3v-2.2M310.94 105.3v-1.3M324.85 105.3v-2.2M338.76 105.3v-1.3M352.67 105.3v-2.2M366.58 105.3v-1.3M380.48 105.3v-2.2M394.39 105.3v-1.3M241.4 92.81h1.3M241.4 80.33h2.2M241.4 67.84h1.3M241.4 55.35h2.2M241.4 42.86h1.3M241.4 30.38h2.2M241.4 17.89h1.3" stroke="#5a5a5a" stroke-width="0.8" fill="none"/><text x="239.53" y="114.7" font-size="7.5" fill="#1c1c1c" stroke="#1c1c1c" stroke-width="0.1">90</text><text x="267.34" y="114.7" font-size="7.5" fill="#1c1c1c" stroke="#1c1c1c" stroke-width="0.1">60</text><text x="295.16" y="114.7" font-size="7.5" fill="#1c1c1c" stroke="#1c1c1c" stroke-width="0.1">30</text><text x="322.98" y="114.7" font-size="7.5" fill="#1c1c1c" stroke="#1c1c1c" stroke-width="0.1">0</text><text x="348.92" y="114.7" font-size="7.5" fill="#1c1c1c" stroke="#1c1c1c" stroke-width="0.1">30</text><text x="376.73" y="114.7" font-size="7.5" fill="#1c1c1c" stroke="#1c1c1c" stroke-width="0.1">60</text><text x="404.55" y="114.7" font-size="7.5" fill="#1c1c1c" stroke="#1c1c1c" stroke-width="0.1">90</text><text x="239.1" y="8.7" font-size="7.5" text-anchor="end" fill="#1c1c1c" stroke="#1c1c1c" stroke-width="0.1">0</text><text x="239.1" y="33.67" font-size="7.5" text-anchor="end" fill="#1c1c1c" stroke="#1c1c1c" stroke-width="0.1">10</text><text x="239.1" y="58.65" font-size="7.5" text-anchor="end" fill="#1c1c1c" stroke="#1c1c1c" stroke-width="0.1">20</text><text x="239.1" y="83.62" font-size="7.5" text-anchor="end" fill="#1c1c1c" stroke="#1c1c1c" stroke-width="0.1">30</text><text x="239.1" y="108.6" font-size="7.5" text-anchor="end" fill="#1c1c1c" stroke="#1c1c1c" stroke-width="0.1">40</text><path d="M235.78 112.15h3.5M263.59 112.15h3.5M291.41 112.15h3.5M227.85 31.12h3.5M227.85 56.1h3.5M227.85 81.08h3.5M227.85 106.05h3.5" stroke="#1c1c1c" stroke-width="0.6"/><text x="310.45" y="123.6" font-size="7.6" textLength="28.8" lengthAdjust="spacingAndGlyphs" fill="#1c1c1c" stroke="#1c1c1c" stroke-width="0.1">Theta/deg</text><text x="202.5" y="57.85" font-size="7.5" textLength="38.8" lengthAdjust="spacingAndGlyphs" fill="#1c1c1c" stroke="#1c1c1c" stroke-width="0.1" transform="rotate(-90 221.9 55.35)">Magnitude/dB</text><text x="242.9" y="12.4" font-size="7.35" fill="#1c1c1c" stroke="#1c1c1c" stroke-width="0.1">H-plane</text></g>
<g><path d="M41.91 142V241.2M55.72 142V241.2M69.53 142V241.2M83.33 142V241.2M97.14 142V241.2M110.95 142V241.2M124.76 142V241.2M138.57 142V241.2M152.38 142V241.2M166.18 142V241.2M179.99 142V241.2M28.1 228.8H193.8M28.1 216.4H193.8M28.1 204H193.8M28.1 191.6H193.8M28.1 179.2H193.8M28.1 166.8H193.8M28.1 154.4H193.8" stroke="#eeeeee" stroke-width="0.6" fill="none"/><rect x="137.3" y="142.5" width="56" height="27" fill="#fff"/><path d="M139.3 146h10.9" stroke="#333" stroke-width="0.8"/><circle cx="144.75" cy="146" r="1.3" fill="#333"/><text x="153.7" y="148.5" font-size="7.3" textLength="37.52" lengthAdjust="spacingAndGlyphs" fill="#1c1c1c" stroke="#1c1c1c" stroke-width="0.1">Simu.Co-pol</text><path d="M139.3 154.8h10.9" stroke="#f22" stroke-width="0.8"/><circle cx="144.75" cy="154.8" r="1.3" fill="#f22"/><text x="153.7" y="157.3" font-size="7.3" textLength="37.91" lengthAdjust="spacingAndGlyphs" fill="#1c1c1c" stroke="#1c1c1c" stroke-width="0.1">Meas.Co-pol</text><path d="M139.3 164.5h10.9" stroke="#1f6be0" stroke-width="0.8"/><path d="M144.75 163l1.5 2.5h-3z" fill="#1f6be0"/><text x="153.7" y="167" font-size="7.3" textLength="36.55" lengthAdjust="spacingAndGlyphs" fill="#1c1c1c" stroke="#1c1c1c" stroke-width="0.1">Meas.Cr-pol</text><clipPath id="ccE"><rect x="26.6" y="140.5" width="168.7" height="102.2"/></clipPath><g clip-path="url(#ccE)"><path d="M28.1 190.7 29 190.7 29.9 190.7 30.9 190.7 31.8 190.7 32.7 190.8 33.6 191 34.5 191.2 35.5 191.4 36.4 191.7 37.3 192.1 38.2 192.6 39.1 193.1 40.1 193.7 41 194.4 41.9 195.2 42.8 196 43.7 196.9 44.7 197.8 45.6 198.8 46.5 199.6 47.4 200.3 48.4 200.8 49.3 201.3 50.2 201.7 51.1 202 52 202 53 201.6 53.9 200.9 54.8 200 55.7 199 56.6 197.9 57.6 196.6 58.5 195.3 59.4 193.8 60.3 192.2 61.2 190.6 62.2 189.3 63.1 188.2 64 187.2 64.9 186.6 65.8 186.2 66.8 186.1 67.7 186.3 68.6 186.7 69.5 187.5 70.4 188.5 71.4 189.7 72.3 191 73.2 192.4 74.1 193.8 75 194.9 76 195.8 76.9 196.1 77.8 195.4 78.7 194 79.7 192.1 80.6 190 81.5 187.5 82.4 184.9 83.3 182.4 84.3 179.8 85.2 177.6 86.1 176.2 87 175.3 87.9 174.9 88.9 175.3 89.8 176.7 90.7 178.9 91.6 181.9 92.5 185.8 93.5 192.1 94.4 200.2 95.3 201.1 96.2 194.5 97.1 183.5 98.1 174.4 99 167.5 99.9 161.8 100.8 157.4 101.7 154 102.7 151.3 103.6 149.1 104.5 147.3 105.4 145.8 106.3 144.6 107.3 143.6 108.2 142.9 109.1 142.4 110 142.1 110.9 142 111.9 142.1 112.8 142.4 113.7 142.9 114.6 143.6 115.6 144.5 116.5 145.7 117.4 147.2 118.3 149 119.2 151.2 120.2 153.8 121.1 157.5 122 163 122.9 170 123.8 176.8 124.8 183.2 125.7 189.1 126.6 194.5 127.5 196.9 128.4 193 129.4 188.6 130.3 184.6 131.2 181.3 132.1 179.3 133 178.3 134 177.8 134.9 177.7 135.8 178 136.7 178.9 137.6 180.5 138.6 183.2 139.5 186.9 140.4 190.3 141.3 193.5 142.2 196.7 143.2 199.7 144.1 200.5 145 199.4 145.9 197.1 146.9 194.1 147.8 191.2 148.7 188.3 149.6 186 150.5 184.4 151.5 183.4 152.4 182.7 153.3 182.3 154.2 182.3 155.1 182.7 156.1 183.3 157 184.3 157.9 185.6 158.8 187.1 159.7 188.9 160.7 190.9 161.6 192.8 162.5 194.5 163.4 196.2 164.3 197.8 165.3 199.3 166.2 200.9 167.1 202.4 168 204 168.9 205.6 169.9 206.9 170.8 207.8 171.7 208.4 172.6 208.7 173.5 208.8 174.5 208.6 175.4 208.3 176.3 207.9 177.2 207.5 178.2 206.9 179.1 206.3 180 205.7 180.9 205.1 181.8 204.5 182.8 203.8 183.7 203.2 184.6 202.6 185.5 202.1 186.4 201.8 187.4 201.5 188.3 201.3 189.2 200.9 190.1 200.6 191 200.3 192 200.1 192.9 199.9 193.8 199.8" fill="none" stroke="#3a3a3a" stroke-width="0.9"/><path d="M28.1 190.7h0M29 190.7h0M29.9 190.7h0M30.9 190.7h0M31.8 190.7h0M32.7 190.8h0M33.6 191h0M34.5 191.2h0M35.5 191.4h0M36.4 191.7h0M37.3 192.1h0M38.2 192.6h0M39.1 193.1h0M40.1 193.7h0M41 194.4h0M41.9 195.2h0M42.8 196h0M43.7 196.9h0M44.7 197.8h0M45.6 198.8h0M46.5 199.6h0M47.4 200.3h0M48.4 200.8h0M49.3 201.3h0M50.2 201.7h0M51.1 202h0M52 202h0M53 201.6h0M53.9 200.9h0M54.8 200h0M55.7 199h0M56.6 197.9h0M57.6 196.6h0M58.5 195.3h0M59.4 193.8h0M60.3 192.2h0M61.2 190.6h0M62.2 189.3h0M63.1 188.2h0M64 187.2h0M64.9 186.6h0M65.8 186.2h0M66.8 186.1h0M67.7 186.3h0M68.6 186.7h0M69.5 187.5h0M70.4 188.5h0M71.4 189.7h0M72.3 191h0M73.2 192.4h0M74.1 193.8h0M75 194.9h0M76 195.8h0M76.9 196.1h0M77.8 195.4h0M78.7 194h0M79.7 192.1h0M80.6 190h0M81.5 187.5h0M82.4 184.9h0M83.3 182.4h0M84.3 179.8h0M85.2 177.6h0M86.1 176.2h0M87 175.3h0M87.9 174.9h0M88.9 175.3h0M89.8 176.7h0M90.7 178.9h0M91.6 181.9h0M92.5 185.8h0M93.5 192.1h0M94.4 200.2h0M95.3 201.1h0M96.2 194.5h0M97.1 183.5h0M98.1 174.4h0M99 167.5h0M99.9 161.8h0M100.8 157.4h0M101.7 154h0M102.7 151.3h0M103.6 149.1h0M104.5 147.3h0M105.4 145.8h0M106.3 144.6h0M107.3 143.6h0M108.2 142.9h0M109.1 142.4h0M110 142.1h0M110.9 142h0M111.9 142.1h0M112.8 142.4h0M113.7 142.9h0M114.6 143.6h0M115.6 144.5h0M116.5 145.7h0M117.4 147.2h0M118.3 149h0M119.2 151.2h0M120.2 153.8h0M121.1 157.5h0M122 163h0M122.9 170h0M123.8 176.8h0M124.8 183.2h0M125.7 189.1h0M126.6 194.5h0M127.5 196.9h0M128.4 193h0M129.4 188.6h0M130.3 184.6h0M131.2 181.3h0M132.1 179.3h0M133 178.3h0M134 177.8h0M134.9 177.7h0M135.8 178h0M136.7 178.9h0M137.6 180.5h0M138.6 183.2h0M139.5 186.9h0M140.4 190.3h0M141.3 193.5h0M142.2 196.7h0M143.2 199.7h0M144.1 200.5h0M145 199.4h0M145.9 197.1h0M146.9 194.1h0M147.8 191.2h0M148.7 188.3h0M149.6 186h0M150.5 184.4h0M151.5 183.4h0M152.4 182.7h0M153.3 182.3h0M154.2 182.3h0M155.1 182.7h0M156.1 183.3h0M157 184.3h0M157.9 185.6h0M158.8 187.1h0M159.7 188.9h0M160.7 190.9h0M161.6 192.8h0M162.5 194.5h0M163.4 196.2h0M164.3 197.8h0M165.3 199.3h0M166.2 200.9h0M167.1 202.4h0M168 204h0M168.9 205.6h0M169.9 206.9h0M170.8 207.8h0M171.7 208.4h0M172.6 208.7h0M173.5 208.8h0M174.5 208.6h0M175.4 208.3h0M176.3 207.9h0M177.2 207.5h0M178.2 206.9h0M179.1 206.3h0M180 205.7h0M180.9 205.1h0M181.8 204.5h0M182.8 203.8h0M183.7 203.2h0M184.6 202.6h0M185.5 202.1h0M186.4 201.8h0M187.4 201.5h0M188.3 201.3h0M189.2 200.9h0M190.1 200.6h0M191 200.3h0M192 200.1h0M192.9 199.9h0M193.8 199.8h0" fill="none" stroke="#3a3a3a" stroke-width="2.5" stroke-linecap="round"/><path d="M28.1 202.3 29 200.2 29.8 204.5 30.6 207.6 31.3 205.7 31.9 206.6 32.5 208.1 33.2 211.8 33.8 209.5 34.4 206.6 35.1 208.4 35.7 210.8 36.3 216.6 37 221.4 37.8 202.3 38.5 199.9 39.1 196 39.7 196.4 40.4 193.9 41 193.9 41.6 191.8 42.2 191.1 42.9 190.7 43.5 194.6 44.1 196 44.8 194.5 45.4 192.8 46 193.5 46.7 191.8 47.3 192 47.9 195 48.6 196.7 49.2 196 49.8 197.4 50.5 198.1 51.1 198.6 51.7 200.2 52.4 203.6 53 202.3 53.6 201.3 54.3 200.2 54.9 201 55.5 204.5 56.2 203.5 56.8 202.3 57.4 201.2 58.1 201.3 58.7 208.8 59.3 203.4 60 205.3 60.6 204.5 61.2 206.6 61.9 206.6 62.5 205.4 63.1 202.3 63.8 204.1 64.4 204.5 65 207.8 65.7 196 66.3 195.9 66.9 198.1 67.6 200.9 68.2 197.1 68.8 195.9 69.5 196 70.1 195.8 70.7 198.1 71.4 197 72 193.9 72.6 194.5 73.3 196 73.9 200.3 74.5 192.8 75.2 193.9 75.8 196 76.4 196.8 77.1 195 77.7 196.5 78.3 198.1 79 195.9 79.6 195 80.2 201.8 80.9 192.8 81.5 192.9 82.1 193.9 82.8 191.3 83.4 190.7 84 193.3 84.7 192.8 85.3 199.8 85.9 191.8 86.6 196.2 87.2 191.8 87.8 190.2 88.5 189.7 89.1 192.4 89.7 192.8 90.4 191.2 91 191.8 91.6 192.6 92.3 190.7 92.9 191.1 93.5 193.9 94.2 194.4 94.8 196 95.6 198 96.5 198.1 97.3 200.7 98.2 202.3 99 203 99.9 204.5 100.5 206.7 101.1 206.6 102 205.2 102.8 205.5 103.7 205.2 104.5 202.3 105.3 202.7 106.2 204.5 107 204.3 107.9 206.6 108.7 207.4 109.6 208.7 110.3 213.6 111 208.7 111.8 208.7 112.4 209.1 113.1 210.8 113.7 217.2 114.3 217.1 115 213.7 115.6 208.7 116.2 205.9 116.9 204.5 117.5 202.5 118.1 202.3 118.8 209.6 119.4 206.6 120 204.7 120.7 201.3 121.3 201 121.9 198.1 122.6 198.2 123.2 200.2 123.8 201.7 124.5 202.3 125.1 202.3 125.7 201.3 126.4 200.3 127 199.2 127.6 201.8 128.3 202.3 128.9 200.3 129.5 198.1 130.2 198.2 130.8 200.2 131.4 200.3 132.1 202.3 132.7 202.6 133.3 204.5 134 204.7 134.6 203.4 135.2 205.9 135.9 206.6 136.5 207.6 137.1 208.7 137.8 205.2 138.4 201.3 139 198.3 139.7 198.1 140.3 199.8 140.9 200.2 141.6 203.6 142.2 202.3 142.8 198.8 143.5 198.1 144.1 200 144.7 202.3 145.4 204.8 146 208.7 146.6 206.3 147.3 206.6 147.9 208.9 148.5 210.8 149.2 210.6 149.8 208.7 150.4 205.5 151.1 204.5 151.7 202 152.3 202.3 152.9 201.1 153.6 199.2 154.2 196.9 154.8 196 155.5 193.7 156.1 193.9 156.7 194 157.4 196 158 194.5 158.6 195 159.3 197.5 159.9 198.1 160.5 198.9 161.2 202.3 161.8 201.4 162.4 201.3 163.1 209.3 163.7 206.6 164.3 206.3 165 204.5 165.6 202.3 166.2 202.3 166.9 202.9 167.5 198.1 168.1 203 168.8 199.2 169.4 199.1 170 200.2 170.7 208 171.3 202.3 171.9 204.2 172.6 204.5 173.2 200.5 173.8 198.1 174.5 197.2 175.1 196 175.7 195.4 176.4 195 177 196.1 177.6 198.1 178.3 198.5 178.9 196 179.5 196.2 180.2 199.2 181 205 181.9 204.5 182.5 201.9 183.1 198.1 183.8 200.5 184.4 202.3 185.2 204.3 186.1 206.6 186.9 209.7 187.8 210.8 188.6 210.6 189.5 208.7 190.3 211.6 191.1 206.6 191.8 203.4 192.4 202.3 193.1 202.5 193.8 204.5" fill="none" stroke="#1f6be0" stroke-width="0.65"/><path d="M28.1 200.5l1.7 3.1h-3.4zM29 198.4l1.7 3.1h-3.4zM29.8 202.6l1.7 3.1h-3.4zM30.6 205.8l1.7 3.1h-3.4zM31.3 203.8l1.7 3.1h-3.4zM31.9 204.7l1.7 3.1h-3.4zM32.5 206.3l1.7 3.1h-3.4zM33.2 210l1.7 3.1h-3.4zM33.8 207.6l1.7 3.1h-3.4zM34.4 204.7l1.7 3.1h-3.4zM35.1 206.5l1.7 3.1h-3.4zM35.7 208.9l1.7 3.1h-3.4zM36.3 214.8l1.7 3.1h-3.4zM37 219.5l1.7 3.1h-3.4zM37.8 200.5l1.7 3.1h-3.4zM38.5 198.1l1.7 3.1h-3.4zM39.1 194.1l1.7 3.1h-3.4zM39.7 194.6l1.7 3.1h-3.4zM40.4 192l1.7 3.1h-3.4zM41 192l1.7 3.1h-3.4zM41.6 189.9l1.7 3.1h-3.4zM42.2 189.2l1.7 3.1h-3.4zM42.9 188.9l1.7 3.1h-3.4zM43.5 192.7l1.7 3.1h-3.4zM44.1 194.1l1.7 3.1h-3.4zM44.8 192.6l1.7 3.1h-3.4zM45.4 191l1.7 3.1h-3.4zM46 191.7l1.7 3.1h-3.4zM46.7 189.9l1.7 3.1h-3.4zM47.3 190.2l1.7 3.1h-3.4zM47.9 193.1l1.7 3.1h-3.4zM48.6 194.8l1.7 3.1h-3.4zM49.2 194.1l1.7 3.1h-3.4zM49.8 195.5l1.7 3.1h-3.4zM50.5 196.3l1.7 3.1h-3.4zM51.1 196.7l1.7 3.1h-3.4zM51.7 198.4l1.7 3.1h-3.4zM52.4 201.7l1.7 3.1h-3.4zM53 200.5l1.7 3.1h-3.4zM53.6 199.4l1.7 3.1h-3.4zM54.3 198.4l1.7 3.1h-3.4zM54.9 199.1l1.7 3.1h-3.4zM55.5 202.6l1.7 3.1h-3.4zM56.2 201.6l1.7 3.1h-3.4zM56.8 200.5l1.7 3.1h-3.4zM57.4 199.4l1.7 3.1h-3.4zM58.1 199.4l1.7 3.1h-3.4zM58.7 207l1.7 3.1h-3.4zM59.3 201.5l1.7 3.1h-3.4zM60 203.5l1.7 3.1h-3.4zM60.6 202.6l1.7 3.1h-3.4zM61.2 204.7l1.7 3.1h-3.4zM61.9 204.7l1.7 3.1h-3.4zM62.5 203.5l1.7 3.1h-3.4zM63.1 200.5l1.7 3.1h-3.4zM63.8 202.3l1.7 3.1h-3.4zM64.4 202.6l1.7 3.1h-3.4zM65 205.9l1.7 3.1h-3.4zM65.7 194.1l1.7 3.1h-3.4zM66.3 194.1l1.7 3.1h-3.4zM66.9 196.3l1.7 3.1h-3.4zM67.6 199l1.7 3.1h-3.4zM68.2 195.2l1.7 3.1h-3.4zM68.8 194.1l1.7 3.1h-3.4zM69.5 194.1l1.7 3.1h-3.4zM70.1 193.9l1.7 3.1h-3.4zM70.7 196.3l1.7 3.1h-3.4zM71.4 195.1l1.7 3.1h-3.4zM72 192l1.7 3.1h-3.4zM72.6 192.7l1.7 3.1h-3.4zM73.3 194.1l1.7 3.1h-3.4zM73.9 198.4l1.7 3.1h-3.4zM74.5 191l1.7 3.1h-3.4zM75.2 192l1.7 3.1h-3.4zM75.8 194.1l1.7 3.1h-3.4zM76.4 194.9l1.7 3.1h-3.4zM77.1 193.1l1.7 3.1h-3.4zM77.7 194.6l1.7 3.1h-3.4zM78.3 196.3l1.7 3.1h-3.4zM79 194.1l1.7 3.1h-3.4zM79.6 193.1l1.7 3.1h-3.4zM80.2 199.9l1.7 3.1h-3.4zM80.9 191l1.7 3.1h-3.4zM81.5 191.1l1.7 3.1h-3.4zM82.1 192l1.7 3.1h-3.4zM82.8 189.5l1.7 3.1h-3.4zM83.4 188.9l1.7 3.1h-3.4zM84 191.4l1.7 3.1h-3.4zM84.7 191l1.7 3.1h-3.4zM85.3 197.9l1.7 3.1h-3.4zM85.9 189.9l1.7 3.1h-3.4zM86.6 194.4l1.7 3.1h-3.4zM87.2 189.9l1.7 3.1h-3.4zM87.8 188.3l1.7 3.1h-3.4zM88.5 187.8l1.7 3.1h-3.4zM89.1 190.5l1.7 3.1h-3.4zM89.7 191l1.7 3.1h-3.4zM90.4 189.4l1.7 3.1h-3.4zM91 189.9l1.7 3.1h-3.4zM91.6 190.7l1.7 3.1h-3.4zM92.3 188.9l1.7 3.1h-3.4zM92.9 189.2l1.7 3.1h-3.4zM93.5 192l1.7 3.1h-3.4zM94.2 192.5l1.7 3.1h-3.4zM94.8 194.1l1.7 3.1h-3.4zM95.6 196.2l1.7 3.1h-3.4zM96.5 196.3l1.7 3.1h-3.4zM97.3 198.9l1.7 3.1h-3.4zM98.2 200.5l1.7 3.1h-3.4zM99 201.1l1.7 3.1h-3.4zM99.9 202.6l1.7 3.1h-3.4zM100.5 204.8l1.7 3.1h-3.4zM101.1 204.7l1.7 3.1h-3.4zM102 203.4l1.7 3.1h-3.4zM102.8 203.6l1.7 3.1h-3.4zM103.7 203.3l1.7 3.1h-3.4zM104.5 200.5l1.7 3.1h-3.4zM105.3 200.9l1.7 3.1h-3.4zM106.2 202.6l1.7 3.1h-3.4zM107 202.4l1.7 3.1h-3.4zM107.9 204.7l1.7 3.1h-3.4zM108.7 205.6l1.7 3.1h-3.4zM109.6 206.8l1.7 3.1h-3.4zM110.3 211.7l1.7 3.1h-3.4zM111 206.8l1.7 3.1h-3.4zM111.8 206.8l1.7 3.1h-3.4zM112.4 207.2l1.7 3.1h-3.4zM113.1 208.9l1.7 3.1h-3.4zM113.7 215.3l1.7 3.1h-3.4zM114.3 215.3l1.7 3.1h-3.4zM115 211.8l1.7 3.1h-3.4zM115.6 206.8l1.7 3.1h-3.4zM116.2 204l1.7 3.1h-3.4zM116.9 202.6l1.7 3.1h-3.4zM117.5 200.6l1.7 3.1h-3.4zM118.1 200.5l1.7 3.1h-3.4zM118.8 207.7l1.7 3.1h-3.4zM119.4 204.7l1.7 3.1h-3.4zM120 202.8l1.7 3.1h-3.4zM120.7 199.4l1.7 3.1h-3.4zM121.3 199.1l1.7 3.1h-3.4zM121.9 196.3l1.7 3.1h-3.4zM122.6 196.3l1.7 3.1h-3.4zM123.2 198.4l1.7 3.1h-3.4zM123.8 199.9l1.7 3.1h-3.4zM124.5 200.5l1.7 3.1h-3.4zM125.1 200.4l1.7 3.1h-3.4zM125.7 199.4l1.7 3.1h-3.4zM126.4 198.4l1.7 3.1h-3.4zM127 197.3l1.7 3.1h-3.4zM127.6 199.9l1.7 3.1h-3.4zM128.3 200.5l1.7 3.1h-3.4zM128.9 198.4l1.7 3.1h-3.4zM129.5 196.3l1.7 3.1h-3.4zM130.2 196.3l1.7 3.1h-3.4zM130.8 198.4l1.7 3.1h-3.4zM131.4 198.4l1.7 3.1h-3.4zM132.1 200.5l1.7 3.1h-3.4zM132.7 200.7l1.7 3.1h-3.4zM133.3 202.6l1.7 3.1h-3.4zM134 202.9l1.7 3.1h-3.4zM134.6 201.5l1.7 3.1h-3.4zM135.2 204l1.7 3.1h-3.4zM135.9 204.7l1.7 3.1h-3.4zM136.5 205.7l1.7 3.1h-3.4zM137.1 206.8l1.7 3.1h-3.4zM137.8 203.4l1.7 3.1h-3.4zM138.4 199.4l1.7 3.1h-3.4zM139 196.4l1.7 3.1h-3.4zM139.7 196.3l1.7 3.1h-3.4zM140.3 198l1.7 3.1h-3.4zM140.9 198.4l1.7 3.1h-3.4zM141.6 201.8l1.7 3.1h-3.4zM142.2 200.5l1.7 3.1h-3.4zM142.8 196.9l1.7 3.1h-3.4zM143.5 196.3l1.7 3.1h-3.4zM144.1 198.2l1.7 3.1h-3.4zM144.7 200.5l1.7 3.1h-3.4zM145.4 202.9l1.7 3.1h-3.4zM146 206.8l1.7 3.1h-3.4zM146.6 204.5l1.7 3.1h-3.4zM147.3 204.7l1.7 3.1h-3.4zM147.9 207l1.7 3.1h-3.4zM148.5 208.9l1.7 3.1h-3.4zM149.2 208.7l1.7 3.1h-3.4zM149.8 206.8l1.7 3.1h-3.4zM150.4 203.6l1.7 3.1h-3.4zM151.1 202.6l1.7 3.1h-3.4zM151.7 200.2l1.7 3.1h-3.4zM152.3 200.5l1.7 3.1h-3.4zM152.9 199.3l1.7 3.1h-3.4zM153.6 197.3l1.7 3.1h-3.4zM154.2 195l1.7 3.1h-3.4zM154.8 194.1l1.7 3.1h-3.4zM155.5 191.9l1.7 3.1h-3.4zM156.1 192l1.7 3.1h-3.4zM156.7 192.1l1.7 3.1h-3.4zM157.4 194.1l1.7 3.1h-3.4zM158 192.6l1.7 3.1h-3.4zM158.6 193.1l1.7 3.1h-3.4zM159.3 195.7l1.7 3.1h-3.4zM159.9 196.3l1.7 3.1h-3.4zM160.5 197l1.7 3.1h-3.4zM161.2 200.5l1.7 3.1h-3.4zM161.8 199.5l1.7 3.1h-3.4zM162.4 199.4l1.7 3.1h-3.4zM163.1 207.4l1.7 3.1h-3.4zM163.7 204.7l1.7 3.1h-3.4zM164.3 204.4l1.7 3.1h-3.4zM165 202.6l1.7 3.1h-3.4zM165.6 200.5l1.7 3.1h-3.4zM166.2 200.5l1.7 3.1h-3.4zM166.9 201l1.7 3.1h-3.4zM167.5 196.3l1.7 3.1h-3.4zM168.1 201.1l1.7 3.1h-3.4zM168.8 197.3l1.7 3.1h-3.4zM169.4 197.2l1.7 3.1h-3.4zM170 198.4l1.7 3.1h-3.4zM170.7 206.1l1.7 3.1h-3.4zM171.3 200.5l1.7 3.1h-3.4zM171.9 202.3l1.7 3.1h-3.4zM172.6 202.6l1.7 3.1h-3.4zM173.2 198.6l1.7 3.1h-3.4zM173.8 196.3l1.7 3.1h-3.4zM174.5 195.4l1.7 3.1h-3.4zM175.1 194.1l1.7 3.1h-3.4zM175.7 193.5l1.7 3.1h-3.4zM176.4 193.1l1.7 3.1h-3.4zM177 194.3l1.7 3.1h-3.4zM177.6 196.3l1.7 3.1h-3.4zM178.3 196.6l1.7 3.1h-3.4zM178.9 194.1l1.7 3.1h-3.4zM179.5 194.3l1.7 3.1h-3.4zM180.2 197.3l1.7 3.1h-3.4zM181 203.1l1.7 3.1h-3.4zM181.9 202.6l1.7 3.1h-3.4zM182.5 200l1.7 3.1h-3.4zM183.1 196.3l1.7 3.1h-3.4zM183.8 198.6l1.7 3.1h-3.4zM184.4 200.5l1.7 3.1h-3.4zM185.2 202.5l1.7 3.1h-3.4zM186.1 204.7l1.7 3.1h-3.4zM186.9 207.8l1.7 3.1h-3.4zM187.8 208.9l1.7 3.1h-3.4zM188.6 208.7l1.7 3.1h-3.4zM189.5 206.8l1.7 3.1h-3.4zM190.3 209.7l1.7 3.1h-3.4zM191.1 204.7l1.7 3.1h-3.4zM191.8 201.6l1.7 3.1h-3.4zM192.4 200.5l1.7 3.1h-3.4zM193.1 200.7l1.7 3.1h-3.4zM193.8 202.6l1.7 3.1h-3.4z" fill="#1f6be0"/><path d="M28.1 231.9 29 219.2 29.8 227.7 30.6 217.1 31.3 212.6 31.9 208.7 32.5 208.4 33.2 206.6 33.8 209.3 34.4 210.8 35.1 207.4 35.7 204.5 36.3 203.7 37 202.3 37.6 201.7 38.2 200.2 38.9 199.3 39.5 199.2 40.1 199.3 40.8 198.1 41.4 197.2 42 197.1 42.7 199.2 43.3 202.3 43.9 201.6 44.6 201.3 45.2 202.2 45.8 202.3 46.5 201.1 47.1 201.3 47.7 201.6 48.4 202.3 49 205.1 49.6 206.6 50.3 205.9 50.9 204.5 51.5 205.3 52.2 207.6 52.8 208.3 53.4 208.7 54.1 210.6 54.7 209.7 55.3 208 56 206.6 56.6 203.9 57.2 202.3 57.9 199.9 58.5 198.1 59.1 196.3 59.8 193.9 60.4 190.8 61 188.6 61.7 188.2 62.3 187.1 63.1 186.6 64 186.5 64.8 186.4 65.7 187.1 66.5 187.1 67.4 187.6 68.2 190.4 69.1 189.7 69.9 190.3 70.7 190.7 71.6 193.1 72.4 193.9 73.1 196.3 73.7 198.1 74.3 205.1 75 212.9 75.8 217.1 76.6 215 77.5 219.2 78.3 221.4 79.2 202.3 79.8 197.3 80.4 191.8 81.1 187.1 81.7 181.2 82.3 179.3 83 177 83.6 175.8 84.2 174.9 85.1 174 85.9 174.5 86.8 174.4 87.6 174.9 88.5 176.1 89.3 178.1 89.9 179.5 90.6 181.2 91.2 184.9 91.8 189.7 92.5 197.7 93.1 206.6 94 221.4 94.8 215 95.6 191.8 96.3 184.1 96.9 177 97.5 169.1 98.2 162.2 99 159.8 99.9 156.7 100.6 157.4 101.3 154.2 102 153.3 102.8 151.1 103.7 149.3 104.5 147.3 105.4 146 106.3 145.9 107.2 143.7 108.2 143.8 109.1 142.2 110 142.1 111 142 111.8 142 112.6 142.9 113.5 142.8 114.3 143.3 115.2 145 116 145.5 116.9 146.3 117.6 147.6 118.3 148.7 119 150.5 119.7 153.8 120.4 157 121.1 158.5 121.9 166.2 122.8 174 123.4 178.4 124 183.3 124.7 185.9 125.3 189.7 125.9 195.6 126.6 202.3 127.4 210.8 128.3 217.1 129.1 202.3 129.7 197.8 130.4 189.7 131 186.9 131.6 184.4 132.5 183.9 133.3 183.3 134.2 183.4 135 183.3 135.9 184.5 136.7 185.5 137.5 188.3 138.4 189.7 139 192.6 139.7 196 140.3 202 140.9 208.7 141.8 215 142.6 217.1 143.5 215 144.3 236.1 145.1 221.4 146 206.6 146.6 200.5 147.3 193.9 147.9 191.5 148.5 187.6 149.4 184.9 150.2 183.3 150.9 182.6 151.6 181.7 152.3 181.2 153 182 153.7 181.5 154.4 182.3 155.1 182.7 155.8 183.7 156.5 184.4 157.2 184.4 157.9 185.2 158.6 186.5 159.4 186.9 160.1 189.1 160.8 189.7 161.6 191.2 162.4 193.9 163.1 195.5 163.7 196 164.3 197.2 165 199.2 165.8 201.2 166.7 202.3 167.5 203.7 168.4 204.5 169 206.9 169.6 208.7 170.5 219.2 171.3 229.8 171.9 225.3 172.6 221.4 173.2 225.1 173.8 227.7 174.5 225.7 175.1 223.5 175.7 227 176.4 229.8 177 228.2 177.6 225.6 178.3 223.9 178.9 223.5 179.5 225.8 180.2 227.7 180.8 230.6 181.4 229.8 182.1 231.6 182.7 231.9 183.5 223.5 184.4 212.9 185.2 208.7 185.9 209.7 186.5 211.8 187.3 211.2 188.2 210.8 189 211.7 189.9 212.9 190.7 216.5 191.6 212.9 192.2 210.3 192.8 206.6 193.8 208.7" fill="none" stroke="#ff2222" stroke-width="0.65"/><path d="M28.1 231.9h0M29 219.2h0M29.8 227.7h0M30.6 217.1h0M31.3 212.6h0M31.9 208.7h0M32.5 208.4h0M33.2 206.6h0M33.8 209.3h0M34.4 210.8h0M35.1 207.4h0M35.7 204.5h0M36.3 203.7h0M37 202.3h0M37.6 201.7h0M38.2 200.2h0M38.9 199.3h0M39.5 199.2h0M40.1 199.3h0M40.8 198.1h0M41.4 197.2h0M42 197.1h0M42.7 199.2h0M43.3 202.3h0M43.9 201.6h0M44.6 201.3h0M45.2 202.2h0M45.8 202.3h0M46.5 201.1h0M47.1 201.3h0M47.7 201.6h0M48.4 202.3h0M49 205.1h0M49.6 206.6h0M50.3 205.9h0M50.9 204.5h0M51.5 205.3h0M52.2 207.6h0M52.8 208.3h0M53.4 208.7h0M54.1 210.6h0M54.7 209.7h0M55.3 208h0M56 206.6h0M56.6 203.9h0M57.2 202.3h0M57.9 199.9h0M58.5 198.1h0M59.1 196.3h0M59.8 193.9h0M60.4 190.8h0M61 188.6h0M61.7 188.2h0M62.3 187.1h0M63.1 186.6h0M64 186.5h0M64.8 186.4h0M65.7 187.1h0M66.5 187.1h0M67.4 187.6h0M68.2 190.4h0M69.1 189.7h0M69.9 190.3h0M70.7 190.7h0M71.6 193.1h0M72.4 193.9h0M73.1 196.3h0M73.7 198.1h0M74.3 205.1h0M75 212.9h0M75.8 217.1h0M76.6 215h0M77.5 219.2h0M78.3 221.4h0M79.2 202.3h0M79.8 197.3h0M80.4 191.8h0M81.1 187.1h0M81.7 181.2h0M82.3 179.3h0M83 177h0M83.6 175.8h0M84.2 174.9h0M85.1 174h0M85.9 174.5h0M86.8 174.4h0M87.6 174.9h0M88.5 176.1h0M89.3 178.1h0M89.9 179.5h0M90.6 181.2h0M91.2 184.9h0M91.8 189.7h0M92.5 197.7h0M93.1 206.6h0M94 221.4h0M94.8 215h0M95.6 191.8h0M96.3 184.1h0M96.9 177h0M97.5 169.1h0M98.2 162.2h0M99 159.8h0M99.9 156.7h0M100.6 157.4h0M101.3 154.2h0M102 153.3h0M102.8 151.1h0M103.7 149.3h0M104.5 147.3h0M105.4 146h0M106.3 145.9h0M107.2 143.7h0M108.2 143.8h0M109.1 142.2h0M110 142.1h0M111 142h0M111.8 142h0M112.6 142.9h0M113.5 142.8h0M114.3 143.3h0M115.2 145h0M116 145.5h0M116.9 146.3h0M117.6 147.6h0M118.3 148.7h0M119 150.5h0M119.7 153.8h0M120.4 157h0M121.1 158.5h0M121.9 166.2h0M122.8 174h0M123.4 178.4h0M124 183.3h0M124.7 185.9h0M125.3 189.7h0M125.9 195.6h0M126.6 202.3h0M127.4 210.8h0M128.3 217.1h0M129.1 202.3h0M129.7 197.8h0M130.4 189.7h0M131 186.9h0M131.6 184.4h0M132.5 183.9h0M133.3 183.3h0M134.2 183.4h0M135 183.3h0M135.9 184.5h0M136.7 185.5h0M137.5 188.3h0M138.4 189.7h0M139 192.6h0M139.7 196h0M140.3 202h0M140.9 208.7h0M141.8 215h0M142.6 217.1h0M143.5 215h0M144.3 236.1h0M145.1 221.4h0M146 206.6h0M146.6 200.5h0M147.3 193.9h0M147.9 191.5h0M148.5 187.6h0M149.4 184.9h0M150.2 183.3h0M150.9 182.6h0M151.6 181.7h0M152.3 181.2h0M153 182h0M153.7 181.5h0M154.4 182.3h0M155.1 182.7h0M155.8 183.7h0M156.5 184.4h0M157.2 184.4h0M157.9 185.2h0M158.6 186.5h0M159.4 186.9h0M160.1 189.1h0M160.8 189.7h0M161.6 191.2h0M162.4 193.9h0M163.1 195.5h0M163.7 196h0M164.3 197.2h0M165 199.2h0M165.8 201.2h0M166.7 202.3h0M167.5 203.7h0M168.4 204.5h0M169 206.9h0M169.6 208.7h0M170.5 219.2h0M171.3 229.8h0M171.9 225.3h0M172.6 221.4h0M173.2 225.1h0M173.8 227.7h0M174.5 225.7h0M175.1 223.5h0M175.7 227h0M176.4 229.8h0M177 228.2h0M177.6 225.6h0M178.3 223.9h0M178.9 223.5h0M179.5 225.8h0M180.2 227.7h0M180.8 230.6h0M181.4 229.8h0M182.1 231.6h0M182.7 231.9h0M183.5 223.5h0M184.4 212.9h0M185.2 208.7h0M185.9 209.7h0M186.5 211.8h0M187.3 211.2h0M188.2 210.8h0M189 211.7h0M189.9 212.9h0M190.7 216.5h0M191.6 212.9h0M192.2 210.3h0M192.8 206.6h0M193.8 208.7h0" fill="none" stroke="#ff2222" stroke-width="2.7" stroke-linecap="round"/></g><rect x="28.1" y="142" width="165.7" height="99.2" fill="none" stroke="#5a5a5a" stroke-width="0.9"/><path d="M41.91 241.2v-1.3M55.72 241.2v-2.2M69.53 241.2v-1.3M83.33 241.2v-2.2M97.14 241.2v-1.3M110.95 241.2v-2.2M124.76 241.2v-1.3M138.57 241.2v-2.2M152.38 241.2v-1.3M166.18 241.2v-2.2M179.99 241.2v-1.3M28.1 228.8h1.3M28.1 216.4h2.2M28.1 204h1.3M28.1 191.6h2.2M28.1 179.2h1.3M28.1 166.8h2.2M28.1 154.4h1.3" stroke="#5a5a5a" stroke-width="0.8" fill="none"/><text x="26.23" y="250.6" font-size="7.5" fill="#1c1c1c" stroke="#1c1c1c" stroke-width="0.1">90</text><text x="53.84" y="250.6" font-size="7.5" fill="#1c1c1c" stroke="#1c1c1c" stroke-width="0.1">60</text><text x="81.46" y="250.6" font-size="7.5" fill="#1c1c1c" stroke="#1c1c1c" stroke-width="0.1">30</text><text x="109.08" y="250.6" font-size="7.5" fill="#1c1c1c" stroke="#1c1c1c" stroke-width="0.1">0</text><text x="134.82" y="250.6" font-size="7.5" fill="#1c1c1c" stroke="#1c1c1c" stroke-width="0.1">30</text><text x="162.43" y="250.6" font-size="7.5" fill="#1c1c1c" stroke="#1c1c1c" stroke-width="0.1">60</text><text x="190.05" y="250.6" font-size="7.5" fill="#1c1c1c" stroke="#1c1c1c" stroke-width="0.1">90</text><text x="25.8" y="145.3" font-size="7.5" text-anchor="end" fill="#1c1c1c" stroke="#1c1c1c" stroke-width="0.1">0</text><text x="25.8" y="170.1" font-size="7.5" text-anchor="end" fill="#1c1c1c" stroke="#1c1c1c" stroke-width="0.1">10</text><text x="25.8" y="194.9" font-size="7.5" text-anchor="end" fill="#1c1c1c" stroke="#1c1c1c" stroke-width="0.1">20</text><text x="25.8" y="219.7" font-size="7.5" text-anchor="end" fill="#1c1c1c" stroke="#1c1c1c" stroke-width="0.1">30</text><text x="25.8" y="244.5" font-size="7.5" text-anchor="end" fill="#1c1c1c" stroke="#1c1c1c" stroke-width="0.1">40</text><path d="M22.48 248.05h3.5M50.09 248.05h3.5M77.71 248.05h3.5M14.55 167.55h3.5M14.55 192.35h3.5M14.55 217.15h3.5M14.55 241.95h3.5" stroke="#1c1c1c" stroke-width="0.6"/><text x="96.55" y="259.5" font-size="7.6" textLength="28.8" lengthAdjust="spacingAndGlyphs" fill="#1c1c1c" stroke="#1c1c1c" stroke-width="0.1">Theta/deg</text><text x="-12.4" y="194.1" font-size="7.5" textLength="42.0" lengthAdjust="spacingAndGlyphs" fill="#1c1c1c" stroke="#1c1c1c" stroke-width="0.1" transform="rotate(-90 8.6 191.6)">Magnitude/dB</text><text x="30.5" y="149" font-size="7.4" fill="#1c1c1c" stroke="#1c1c1c" stroke-width="0.1">E-plane</text></g>
<g><path d="M255.24 141.6V242M269.18 141.6V242M283.12 141.6V242M297.07 141.6V242M311.01 141.6V242M324.95 141.6V242M338.89 141.6V242M352.83 141.6V242M366.78 141.6V242M380.72 141.6V242M394.66 141.6V242M241.3 229.45H408.6M241.3 216.9H408.6M241.3 204.35H408.6M241.3 191.8H408.6M241.3 179.25H408.6M241.3 166.7H408.6M241.3 154.15H408.6" stroke="#eeeeee" stroke-width="0.6" fill="none"/><rect x="358" y="142.1" width="50.1" height="28.1" fill="#fff"/><path d="M360 146.5h9.5" stroke="#333" stroke-width="0.8"/><circle cx="364.75" cy="146.5" r="1.3" fill="#333"/><text x="373" y="149" font-size="6.7" textLength="34.44" lengthAdjust="spacingAndGlyphs" fill="#1c1c1c" stroke="#1c1c1c" stroke-width="0.1">Simu.Co-pol</text><path d="M360 156.1h9.5" stroke="#f22" stroke-width="0.8"/><circle cx="364.75" cy="156.1" r="1.3" fill="#f22"/><text x="373" y="158.6" font-size="6.7" textLength="34.8" lengthAdjust="spacingAndGlyphs" fill="#1c1c1c" stroke="#1c1c1c" stroke-width="0.1">Meas.Co-pol</text><path d="M360 165.2h9.5" stroke="#1f6be0" stroke-width="0.8"/><path d="M364.75 163.7l1.5 2.5h-3z" fill="#1f6be0"/><text x="373" y="167.7" font-size="6.7" textLength="33.55" lengthAdjust="spacingAndGlyphs" fill="#1c1c1c" stroke="#1c1c1c" stroke-width="0.1">Meas.Cr-pol</text><clipPath id="ccH"><rect x="239.8" y="140.1" width="170.3" height="103.4"/></clipPath><g clip-path="url(#ccH)"><path d="M241.3 190.7 242.2 190.6 243.2 190.5 244.1 190.3 245 190.2 245.9 189.9 246.9 189.6 247.8 189.4 248.7 189.2 249.7 189.2 250.6 189.4 251.5 189.6 252.5 190.1 253.4 190.7 254.3 191.4 255.2 192.2 256.2 193.1 257.1 194 258 195 259 195.9 259.9 196.9 260.8 197.8 261.7 198.7 262.7 199.6 263.6 200.5 264.5 201.6 265.5 202.8 266.4 204.2 267.3 205.3 268.3 206.3 269.2 207 270.1 207 271 206.1 272 204.3 272.9 202 273.8 199 274.8 195.6 275.7 192.7 276.6 190 277.5 187.6 278.5 185.7 279.4 184.2 280.3 183 281.3 182.3 282.2 181.9 283.1 181.9 284.1 182.1 285 182.7 285.9 183.6 286.8 185 287.8 186.9 288.7 189.3 289.6 191.7 290.6 194.1 291.5 196.2 292.4 197.1 293.3 196.2 294.3 193.9 295.2 190.4 296.1 186.4 297.1 183.1 298 180.1 298.9 177.5 299.9 175.6 300.8 174.1 301.7 173.1 302.6 172.8 303.6 173.3 304.5 175 305.4 178.2 306.4 183.3 307.3 190.8 308.2 202.4 309.1 209.6 310.1 206.9 311 190 311.9 179 312.9 169 313.8 160.6 314.7 155.5 315.7 152.5 316.6 150.1 317.5 148.1 318.4 146.5 319.4 145.1 320.3 144 321.2 143.1 322.2 142.4 323.1 142 324 141.7 325 141.6 325.9 141.7 326.8 142 327.7 142.5 328.7 143.3 329.6 144.2 330.5 145.4 331.5 147 332.4 148.8 333.3 151 334.2 153.7 335.2 158.8 336.1 167.1 337 177.7 338 184.7 338.9 190.8 339.8 198.1 340.8 199.1 341.7 193.3 342.6 187.4 343.5 183.5 344.5 181.2 345.4 179.6 346.3 178.7 347.3 178.5 348.2 179 349.1 180.3 350 182.3 351 184.7 351.9 187.6 352.8 191.2 353.8 196.5 354.7 202.6 355.6 208.6 356.6 210.4 357.5 204.2 358.4 197.9 359.3 192.2 360.3 188.2 361.2 186 362.1 184.5 363.1 183.4 364 182.6 364.9 182.2 365.8 182.2 366.8 182.5 367.7 183.3 368.6 184.3 369.6 185.7 370.5 187.4 371.4 189.3 372.4 191.3 373.3 193.2 374.2 195.1 375.1 197 376.1 198.7 377 200.6 377.9 201.3 378.9 200.1 379.8 198.3 380.7 196.5 381.6 194.5 382.6 192.7 383.5 191.4 384.4 190.6 385.4 190.1 386.3 189.7 387.2 189.3 388.2 189 389.1 188.8 390 188.6 390.9 188.6 391.9 188.7 392.8 188.9 393.7 189.2 394.7 189.6 395.6 190.2 396.5 190.9 397.4 191.7 398.4 192.4 399.3 193.1 400.2 193.6 401.2 194.1 402.1 194.5 403 194.9 404 195.2 404.9 195.4 405.8 195.6 406.7 195.7 407.7 195.9 408.6 196" fill="none" stroke="#3a3a3a" stroke-width="0.9"/><path d="M241.3 190.7h0M242.2 190.6h0M243.2 190.5h0M244.1 190.3h0M245 190.2h0M245.9 189.9h0M246.9 189.6h0M247.8 189.4h0M248.7 189.2h0M249.7 189.2h0M250.6 189.4h0M251.5 189.6h0M252.5 190.1h0M253.4 190.7h0M254.3 191.4h0M255.2 192.2h0M256.2 193.1h0M257.1 194h0M258 195h0M259 195.9h0M259.9 196.9h0M260.8 197.8h0M261.7 198.7h0M262.7 199.6h0M263.6 200.5h0M264.5 201.6h0M265.5 202.8h0M266.4 204.2h0M267.3 205.3h0M268.3 206.3h0M269.2 207h0M270.1 207h0M271 206.1h0M272 204.3h0M272.9 202h0M273.8 199h0M274.8 195.6h0M275.7 192.7h0M276.6 190h0M277.5 187.6h0M278.5 185.7h0M279.4 184.2h0M280.3 183h0M281.3 182.3h0M282.2 181.9h0M283.1 181.9h0M284.1 182.1h0M285 182.7h0M285.9 183.6h0M286.8 185h0M287.8 186.9h0M288.7 189.3h0M289.6 191.7h0M290.6 194.1h0M291.5 196.2h0M292.4 197.1h0M293.3 196.2h0M294.3 193.9h0M295.2 190.4h0M296.1 186.4h0M297.1 183.1h0M298 180.1h0M298.9 177.5h0M299.9 175.6h0M300.8 174.1h0M301.7 173.1h0M302.6 172.8h0M303.6 173.3h0M304.5 175h0M305.4 178.2h0M306.4 183.3h0M307.3 190.8h0M308.2 202.4h0M309.1 209.6h0M310.1 206.9h0M311 190h0M311.9 179h0M312.9 169h0M313.8 160.6h0M314.7 155.5h0M315.7 152.5h0M316.6 150.1h0M317.5 148.1h0M318.4 146.5h0M319.4 145.1h0M320.3 144h0M321.2 143.1h0M322.2 142.4h0M323.1 142h0M324 141.7h0M325 141.6h0M325.9 141.7h0M326.8 142h0M327.7 142.5h0M328.7 143.3h0M329.6 144.2h0M330.5 145.4h0M331.5 147h0M332.4 148.8h0M333.3 151h0M334.2 153.7h0M335.2 158.8h0M336.1 167.1h0M337 177.7h0M338 184.7h0M338.9 190.8h0M339.8 198.1h0M340.8 199.1h0M341.7 193.3h0M342.6 187.4h0M343.5 183.5h0M344.5 181.2h0M345.4 179.6h0M346.3 178.7h0M347.3 178.5h0M348.2 179h0M349.1 180.3h0M350 182.3h0M351 184.7h0M351.9 187.6h0M352.8 191.2h0M353.8 196.5h0M354.7 202.6h0M355.6 208.6h0M356.6 210.4h0M357.5 204.2h0M358.4 197.9h0M359.3 192.2h0M360.3 188.2h0M361.2 186h0M362.1 184.5h0M363.1 183.4h0M364 182.6h0M364.9 182.2h0M365.8 182.2h0M366.8 182.5h0M367.7 183.3h0M368.6 184.3h0M369.6 185.7h0M370.5 187.4h0M371.4 189.3h0M372.4 191.3h0M373.3 193.2h0M374.2 195.1h0M375.1 197h0M376.1 198.7h0M377 200.6h0M377.9 201.3h0M378.9 200.1h0M379.8 198.3h0M380.7 196.5h0M381.6 194.5h0M382.6 192.7h0M383.5 191.4h0M384.4 190.6h0M385.4 190.1h0M386.3 189.7h0M387.2 189.3h0M388.2 189h0M389.1 188.8h0M390 188.6h0M390.9 188.6h0M391.9 188.7h0M392.8 188.9h0M393.7 189.2h0M394.7 189.6h0M395.6 190.2h0M396.5 190.9h0M397.4 191.7h0M398.4 192.4h0M399.3 193.1h0M400.2 193.6h0M401.2 194.1h0M402.1 194.5h0M403 194.9h0M404 195.2h0M404.9 195.4h0M405.8 195.6h0M406.7 195.7h0M407.7 195.9h0M408.6 196h0" fill="none" stroke="#3a3a3a" stroke-width="2.5" stroke-linecap="round"/><path d="M241.3 200.2 242 208.7 242.8 215 243.6 200.2 244.5 223.5 245.3 238.2 246.2 231.9 247 200.2 247.7 197.9 248.3 193.9 248.9 193.6 249.6 196 250.2 192.2 250.8 191.8 251.7 195 252.3 192.3 252.9 189.7 253.8 204.5 254.6 191.8 255.2 189 255.9 187.6 256.5 192 257.1 185.5 257.8 186.9 258.4 187.6 259 186.1 259.7 181.2 260.3 180.9 260.9 179.1 261.6 185.3 262.2 185.5 262.8 184.6 263.5 186.5 264.1 186.1 264.7 187.6 265.4 187.3 266 189.7 266.6 186.4 267.3 186.5 267.9 184.2 268.5 184.4 269.2 189.4 269.8 185.5 270.4 186.6 271.1 187.6 271.7 185.5 272.3 186.5 273 188.9 273.6 188.6 274.2 190.1 274.9 191.8 275.5 190.2 276.1 190.7 276.8 192.3 277.4 193.9 278 194.5 278.7 192.8 279.3 192.3 279.9 195 280.6 198.2 281.2 200.2 281.8 197.3 282.5 196 283.1 199.4 283.7 200.2 284.4 199.5 285 199.2 285.6 198.7 286.3 196 286.9 196.7 287.5 198.1 288.2 195.5 288.8 193.9 289.4 195.9 290.1 199.2 290.7 209.6 291.3 202.3 292 197.4 292.6 196 293.2 196.1 293.9 193.9 294.5 197.9 295.1 200.2 295.8 203.4 296.4 204.5 297 202.3 297.7 198.1 298.3 197.7 298.9 200.2 299.6 196.7 300.2 193.9 300.8 194.1 301.5 196 302.1 192.2 302.7 191.8 303.4 194 304 198.1 304.6 193.4 305.3 189.7 305.9 189.2 306.5 186.5 307.2 189.6 307.8 191.8 308.4 192.6 309.1 195 309.7 200.6 310.3 200.2 311 208.2 311.6 198.1 312.2 197.8 312.9 197.1 313.5 200.1 314.1 202.3 314.8 203.9 315.4 206.6 316 197.4 316.7 191.8 317.3 195.7 317.9 200.2 318.6 206.7 319.2 212.9 319.8 206.6 320.5 202.3 321.1 200.6 321.7 200.2 322.6 205.2 323.4 212.9 324.2 211.6 324.9 210.8 325.5 208.7 326.4 200.2 327.2 196 327.9 214 328.5 234 329.3 212.9 330.2 202.3 331 198.1 331.7 206.1 332.3 206.6 332.9 205.1 333.6 202.3 334.2 204.6 334.8 200.2 335.7 208.7 336.3 221.6 336.9 217.1 337.8 206.6 338.6 202.3 339.2 196.6 339.9 191.8 340.5 195 341.1 200.2 342 196 342.6 203.7 343.3 208.7 343.9 206 344.5 202.3 345.2 206.5 345.8 191.8 346.4 191.4 347.1 189.7 347.7 192.4 348.3 193.9 349 209.6 349.6 212.9 350.2 205.8 350.9 198.1 351.5 192.2 352.1 189.7 352.8 192.7 353.4 196 354 198.5 354.7 200.2 355.3 193.7 355.9 189.7 356.8 191.8 357.4 195.7 358 196 358.7 192.2 359.3 189.7 359.9 193.6 360.6 193.9 361.2 208.2 361.8 198.1 362.5 204.2 363.1 191.8 363.7 193.4 364.4 193.9 365 196.1 365.6 196 366.5 193.9 367.3 191.8 367.9 190.8 368.6 192.8 369.2 200.9 369.8 189.7 370.5 192.7 371.1 196 371.7 199.3 372.4 193.9 373 199.5 373.6 191.8 374.3 191.8 374.9 189.7 375.5 189.8 376.2 191.8 376.8 191.5 377.4 188.6 378.1 190.4 378.7 191.8 379.3 195.8 380 189.7 380.6 188.9 381.2 183.3 381.9 187.8 382.5 189.7 383.1 193.6 383.8 191.8 384.4 192 385 189.7 385.7 204.1 386.3 193.9 386.9 191.8 387.6 191.8 388.2 192.1 388.8 189.7 389.5 189.1 390.1 190.7 390.7 191.1 391.4 184.4 392 187.4 392.6 191.8 393.5 192 394.3 193.9 395 195 395.6 191.8 396.4 194.1 397.3 195 398.1 202.4 399 191.8 399.6 194.3 400.2 196 400.9 193.9 401.5 193.9 402.1 198.8 402.8 202.3 403.4 199.7 404 198.1 404.7 212.1 405.3 212.9 405.9 219 406.6 225.6 407.4 231.9 408.5 202.3" fill="none" stroke="#1f6be0" stroke-width="0.65"/><path d="M241.3 198.4l1.7 3.1h-3.4zM242 206.8l1.7 3.1h-3.4zM242.8 213.1l1.7 3.1h-3.4zM243.6 198.4l1.7 3.1h-3.4zM244.5 221.6l1.7 3.1h-3.4zM245.3 236.4l1.7 3.1h-3.4zM246.2 230l1.7 3.1h-3.4zM247 198.4l1.7 3.1h-3.4zM247.7 196l1.7 3.1h-3.4zM248.3 192l1.7 3.1h-3.4zM248.9 191.7l1.7 3.1h-3.4zM249.6 194.1l1.7 3.1h-3.4zM250.2 190.3l1.7 3.1h-3.4zM250.8 189.9l1.7 3.1h-3.4zM251.7 193.1l1.7 3.1h-3.4zM252.3 190.4l1.7 3.1h-3.4zM252.9 187.8l1.7 3.1h-3.4zM253.8 202.6l1.7 3.1h-3.4zM254.6 189.9l1.7 3.1h-3.4zM255.2 187.1l1.7 3.1h-3.4zM255.9 185.7l1.7 3.1h-3.4zM256.5 190.2l1.7 3.1h-3.4zM257.1 183.6l1.7 3.1h-3.4zM257.8 185.1l1.7 3.1h-3.4zM258.4 185.7l1.7 3.1h-3.4zM259 184.3l1.7 3.1h-3.4zM259.7 179.4l1.7 3.1h-3.4zM260.3 179l1.7 3.1h-3.4zM260.9 177.2l1.7 3.1h-3.4zM261.6 183.4l1.7 3.1h-3.4zM262.2 183.6l1.7 3.1h-3.4zM262.8 182.7l1.7 3.1h-3.4zM263.5 184.6l1.7 3.1h-3.4zM264.1 184.3l1.7 3.1h-3.4zM264.7 185.7l1.7 3.1h-3.4zM265.4 185.4l1.7 3.1h-3.4zM266 187.8l1.7 3.1h-3.4zM266.6 184.5l1.7 3.1h-3.4zM267.3 184.6l1.7 3.1h-3.4zM267.9 182.3l1.7 3.1h-3.4zM268.5 182.5l1.7 3.1h-3.4zM269.2 187.5l1.7 3.1h-3.4zM269.8 183.6l1.7 3.1h-3.4zM270.4 184.7l1.7 3.1h-3.4zM271.1 185.7l1.7 3.1h-3.4zM271.7 183.6l1.7 3.1h-3.4zM272.3 184.6l1.7 3.1h-3.4zM273 187l1.7 3.1h-3.4zM273.6 186.8l1.7 3.1h-3.4zM274.2 188.3l1.7 3.1h-3.4zM274.9 189.9l1.7 3.1h-3.4zM275.5 188.3l1.7 3.1h-3.4zM276.1 188.9l1.7 3.1h-3.4zM276.8 190.4l1.7 3.1h-3.4zM277.4 192l1.7 3.1h-3.4zM278 192.6l1.7 3.1h-3.4zM278.7 191l1.7 3.1h-3.4zM279.3 190.4l1.7 3.1h-3.4zM279.9 193.1l1.7 3.1h-3.4zM280.6 196.3l1.7 3.1h-3.4zM281.2 198.4l1.7 3.1h-3.4zM281.8 195.5l1.7 3.1h-3.4zM282.5 194.1l1.7 3.1h-3.4zM283.1 197.6l1.7 3.1h-3.4zM283.7 198.4l1.7 3.1h-3.4zM284.4 197.6l1.7 3.1h-3.4zM285 197.3l1.7 3.1h-3.4zM285.6 196.8l1.7 3.1h-3.4zM286.3 194.1l1.7 3.1h-3.4zM286.9 194.8l1.7 3.1h-3.4zM287.5 196.3l1.7 3.1h-3.4zM288.2 193.6l1.7 3.1h-3.4zM288.8 192l1.7 3.1h-3.4zM289.4 194l1.7 3.1h-3.4zM290.1 197.3l1.7 3.1h-3.4zM290.7 207.7l1.7 3.1h-3.4zM291.3 200.5l1.7 3.1h-3.4zM292 195.5l1.7 3.1h-3.4zM292.6 194.1l1.7 3.1h-3.4zM293.2 194.2l1.7 3.1h-3.4zM293.9 192l1.7 3.1h-3.4zM294.5 196l1.7 3.1h-3.4zM295.1 198.4l1.7 3.1h-3.4zM295.8 201.6l1.7 3.1h-3.4zM296.4 202.6l1.7 3.1h-3.4zM297 200.4l1.7 3.1h-3.4zM297.7 196.3l1.7 3.1h-3.4zM298.3 195.9l1.7 3.1h-3.4zM298.9 198.4l1.7 3.1h-3.4zM299.6 194.8l1.7 3.1h-3.4zM300.2 192l1.7 3.1h-3.4zM300.8 192.2l1.7 3.1h-3.4zM301.5 194.1l1.7 3.1h-3.4zM302.1 190.3l1.7 3.1h-3.4zM302.7 189.9l1.7 3.1h-3.4zM303.4 192.1l1.7 3.1h-3.4zM304 196.3l1.7 3.1h-3.4zM304.6 191.6l1.7 3.1h-3.4zM305.3 187.8l1.7 3.1h-3.4zM305.9 187.3l1.7 3.1h-3.4zM306.5 184.6l1.7 3.1h-3.4zM307.2 187.8l1.7 3.1h-3.4zM307.8 189.9l1.7 3.1h-3.4zM308.4 190.7l1.7 3.1h-3.4zM309.1 193.1l1.7 3.1h-3.4zM309.7 198.8l1.7 3.1h-3.4zM310.3 198.4l1.7 3.1h-3.4zM311 206.4l1.7 3.1h-3.4zM311.6 196.3l1.7 3.1h-3.4zM312.2 195.9l1.7 3.1h-3.4zM312.9 195.2l1.7 3.1h-3.4zM313.5 198.2l1.7 3.1h-3.4zM314.1 200.5l1.7 3.1h-3.4zM314.8 202l1.7 3.1h-3.4zM315.4 204.7l1.7 3.1h-3.4zM316 195.5l1.7 3.1h-3.4zM316.7 189.9l1.7 3.1h-3.4zM317.3 193.8l1.7 3.1h-3.4zM317.9 198.4l1.7 3.1h-3.4zM318.6 204.8l1.7 3.1h-3.4zM319.2 211l1.7 3.1h-3.4zM319.8 204.7l1.7 3.1h-3.4zM320.5 200.5l1.7 3.1h-3.4zM321.1 198.8l1.7 3.1h-3.4zM321.7 198.4l1.7 3.1h-3.4zM322.6 203.3l1.7 3.1h-3.4zM323.4 211l1.7 3.1h-3.4zM324.2 209.7l1.7 3.1h-3.4zM324.9 208.9l1.7 3.1h-3.4zM325.5 206.8l1.7 3.1h-3.4zM326.4 198.4l1.7 3.1h-3.4zM327.2 194.1l1.7 3.1h-3.4zM327.9 212.1l1.7 3.1h-3.4zM328.5 232.1l1.7 3.1h-3.4zM329.3 211l1.7 3.1h-3.4zM330.2 200.5l1.7 3.1h-3.4zM331 196.3l1.7 3.1h-3.4zM331.7 204.2l1.7 3.1h-3.4zM332.3 204.7l1.7 3.1h-3.4zM332.9 203.2l1.7 3.1h-3.4zM333.6 200.5l1.7 3.1h-3.4zM334.2 202.7l1.7 3.1h-3.4zM334.8 198.4l1.7 3.1h-3.4zM335.7 206.8l1.7 3.1h-3.4zM336.3 219.8l1.7 3.1h-3.4zM336.9 215.3l1.7 3.1h-3.4zM337.8 204.7l1.7 3.1h-3.4zM338.6 200.5l1.7 3.1h-3.4zM339.2 194.8l1.7 3.1h-3.4zM339.9 189.9l1.7 3.1h-3.4zM340.5 193.1l1.7 3.1h-3.4zM341.1 198.4l1.7 3.1h-3.4zM342 194.1l1.7 3.1h-3.4zM342.6 201.9l1.7 3.1h-3.4zM343.3 206.8l1.7 3.1h-3.4zM343.9 204.1l1.7 3.1h-3.4zM344.5 200.5l1.7 3.1h-3.4zM345.2 204.7l1.7 3.1h-3.4zM345.8 189.9l1.7 3.1h-3.4zM346.4 189.5l1.7 3.1h-3.4zM347.1 187.8l1.7 3.1h-3.4zM347.7 190.5l1.7 3.1h-3.4zM348.3 192l1.7 3.1h-3.4zM349 207.7l1.7 3.1h-3.4zM349.6 211l1.7 3.1h-3.4zM350.2 203.9l1.7 3.1h-3.4zM350.9 196.3l1.7 3.1h-3.4zM351.5 190.3l1.7 3.1h-3.4zM352.1 187.8l1.7 3.1h-3.4zM352.8 190.8l1.7 3.1h-3.4zM353.4 194.1l1.7 3.1h-3.4zM354 196.6l1.7 3.1h-3.4zM354.7 198.4l1.7 3.1h-3.4zM355.3 191.8l1.7 3.1h-3.4zM355.9 187.8l1.7 3.1h-3.4zM356.8 189.9l1.7 3.1h-3.4zM357.4 193.8l1.7 3.1h-3.4zM358 194.1l1.7 3.1h-3.4zM358.7 190.3l1.7 3.1h-3.4zM359.3 187.8l1.7 3.1h-3.4zM359.9 191.7l1.7 3.1h-3.4zM360.6 192l1.7 3.1h-3.4zM361.2 206.4l1.7 3.1h-3.4zM361.8 196.3l1.7 3.1h-3.4zM362.5 202.3l1.7 3.1h-3.4zM363.1 189.9l1.7 3.1h-3.4zM363.7 191.5l1.7 3.1h-3.4zM364.4 192l1.7 3.1h-3.4zM365 194.3l1.7 3.1h-3.4zM365.6 194.1l1.7 3.1h-3.4zM366.5 192.1l1.7 3.1h-3.4zM367.3 189.9l1.7 3.1h-3.4zM367.9 188.9l1.7 3.1h-3.4zM368.6 191l1.7 3.1h-3.4zM369.2 199l1.7 3.1h-3.4zM369.8 187.8l1.7 3.1h-3.4zM370.5 190.8l1.7 3.1h-3.4zM371.1 194.1l1.7 3.1h-3.4zM371.7 197.5l1.7 3.1h-3.4zM372.4 192l1.7 3.1h-3.4zM373 197.6l1.7 3.1h-3.4zM373.6 189.9l1.7 3.1h-3.4zM374.3 189.9l1.7 3.1h-3.4zM374.9 187.8l1.7 3.1h-3.4zM375.5 187.9l1.7 3.1h-3.4zM376.2 189.9l1.7 3.1h-3.4zM376.8 189.6l1.7 3.1h-3.4zM377.4 186.8l1.7 3.1h-3.4zM378.1 188.5l1.7 3.1h-3.4zM378.7 189.9l1.7 3.1h-3.4zM379.3 194l1.7 3.1h-3.4zM380 187.8l1.7 3.1h-3.4zM380.6 187l1.7 3.1h-3.4zM381.2 181.5l1.7 3.1h-3.4zM381.9 186l1.7 3.1h-3.4zM382.5 187.8l1.7 3.1h-3.4zM383.1 191.8l1.7 3.1h-3.4zM383.8 189.9l1.7 3.1h-3.4zM384.4 190.1l1.7 3.1h-3.4zM385 187.8l1.7 3.1h-3.4zM385.7 202.2l1.7 3.1h-3.4zM386.3 192l1.7 3.1h-3.4zM386.9 189.9l1.7 3.1h-3.4zM387.6 189.9l1.7 3.1h-3.4zM388.2 190.2l1.7 3.1h-3.4zM388.8 187.8l1.7 3.1h-3.4zM389.5 187.2l1.7 3.1h-3.4zM390.1 188.9l1.7 3.1h-3.4zM390.7 189.2l1.7 3.1h-3.4zM391.4 182.5l1.7 3.1h-3.4zM392 185.6l1.7 3.1h-3.4zM392.6 189.9l1.7 3.1h-3.4zM393.5 190.2l1.7 3.1h-3.4zM394.3 192l1.7 3.1h-3.4zM395 193.1l1.7 3.1h-3.4zM395.6 189.9l1.7 3.1h-3.4zM396.4 192.2l1.7 3.1h-3.4zM397.3 193.1l1.7 3.1h-3.4zM398.1 200.5l1.7 3.1h-3.4zM399 189.9l1.7 3.1h-3.4zM399.6 192.4l1.7 3.1h-3.4zM400.2 194.1l1.7 3.1h-3.4zM400.9 192l1.7 3.1h-3.4zM401.5 192l1.7 3.1h-3.4zM402.1 196.9l1.7 3.1h-3.4zM402.8 200.5l1.7 3.1h-3.4zM403.4 197.9l1.7 3.1h-3.4zM404 196.3l1.7 3.1h-3.4zM404.7 210.3l1.7 3.1h-3.4zM405.3 211l1.7 3.1h-3.4zM405.9 217.1l1.7 3.1h-3.4zM406.6 223.7l1.7 3.1h-3.4zM407.4 230l1.7 3.1h-3.4zM408.5 200.5l1.7 3.1h-3.4z" fill="#1f6be0"/><path d="M241.3 208.7 242.4 217.1 243 209.6 243.6 202.3 244.3 201.3 244.9 200.2 245.5 198.9 246.2 198.1 246.8 194.5 247.4 191.8 248.1 190.4 248.7 189.7 249.3 187.2 250 185.5 250.6 184.7 251.2 183.3 251.9 182.5 252.5 180.2 253.1 179.5 253.8 178.1 254.4 176.9 255 176 255.7 174.8 256.3 173.8 256.9 173.2 257.6 172.8 258.2 171.9 258.8 171.7 259.5 173.6 260.1 174.9 260.7 172.6 261.4 170.7 262 172.4 262.6 172.8 263.3 173.2 263.9 173.8 264.5 175.9 265.2 177 265.8 177.7 266.4 178.1 267.1 178.5 267.7 180.2 268.3 180 269 181.2 269.6 182.1 270.2 183.3 270.9 184.1 271.5 184.4 272.1 187.7 272.8 189.7 273.4 196.3 274 204.5 274.9 215 275.7 223.5 276.6 225.6 277.4 219.2 278.3 210.8 279.1 204.5 279.7 199.1 280.4 193.9 281 189.6 281.6 185.5 282.3 183.6 282.9 181.2 283.5 180.9 284.2 179.1 284.8 178.9 285.4 177 286.1 177 286.7 176 287.3 175.7 288 174.9 288.6 173.7 289.2 173.8 289.9 174.7 290.5 176 291.1 176 291.8 177 292.4 178.1 293 180.2 293.7 183.3 294.3 187.6 295.1 200.2 296 210.8 296.8 212.9 297.5 205.9 298.1 198.1 298.7 191.3 299.4 185.5 300 181.4 300.6 177 301.3 174.5 301.9 172.8 302.5 171 303.2 168.6 304 166.4 304.8 165.4 305.7 163.6 306.5 163.3 307.4 164.5 308.2 164.3 309.1 164.1 309.9 165.4 310.5 164.9 311.2 164.3 311.8 161.8 312.4 160.4 313.3 158.1 314.1 156.5 314.8 154.1 315.5 152.2 316.2 150.9 317 149.6 317.7 148.6 318.5 146.6 319.2 145.3 320 144.1 320.8 143.9 321.6 143.6 322.4 142.3 323.2 142.6 324 142.6 324.9 141.6 325.7 141.8 326.6 142.8 327.4 143.1 328.3 142.9 329.2 144.5 330.1 145.4 331 146.2 331.9 148.5 332.7 149.5 333.6 151.7 334.3 155.4 335 158 335.7 162.3 336.5 167.9 337.4 174.9 338.2 175.9 339 178.1 339.9 176.7 340.7 176 341.6 175.1 342.4 173.8 343.3 174 344.1 172.8 344.9 172.3 345.8 171.7 346.6 172.1 347.5 172.8 348.3 174.8 349.2 176 349.8 177.3 350.4 179.1 351.1 180.7 351.7 182.3 352.3 182.7 353 183.3 353.8 184.7 354.7 187.6 355.5 187.9 356.3 189.7 357.2 189.2 358 188.6 358.7 187.1 359.4 186.3 360.1 185.5 360.8 184.7 361.5 184.4 362.3 183.3 363 181.9 363.7 185.1 364.4 181.2 365.1 182.3 365.8 182.1 366.5 182.3 367.2 183 367.9 184.5 368.6 185.5 369.4 188.1 370.3 190.7 371.1 193.8 372 196 372.6 198.5 373.2 202.3 374.1 215 374.9 227.7 375.8 231.9 376.6 221.4 377.4 215 378.3 221.4 379.1 225.6 380 212.9 380.6 209.4 381.2 206.6 381.9 204.3 382.5 202.3 383.4 199 384.2 196 385 194.2 385.9 191.8 386.7 191.5 387.6 189.7 388.3 189.8 389 190.9 389.7 190.7 390.4 190.3 391.1 192.2 391.8 188.6 392.5 188.4 393.2 191.9 393.9 187.6 394.8 188.5 395.6 188.6 396.4 188.4 397.3 189.7 398.1 191.7 399 193.9 399.8 195.7 400.7 196 401.5 197.4 402.3 200.2 403 206.5 403.6 212.9 404.2 207.4 404.9 202.3 405.5 200.1 406.1 198.1 406.8 198.9 407.4 200.2 408.5 198.1" fill="none" stroke="#ff2222" stroke-width="0.65"/><path d="M241.3 208.7h0M242.4 217.1h0M243 209.6h0M243.6 202.3h0M244.3 201.3h0M244.9 200.2h0M245.5 198.9h0M246.2 198.1h0M246.8 194.5h0M247.4 191.8h0M248.1 190.4h0M248.7 189.7h0M249.3 187.2h0M250 185.5h0M250.6 184.7h0M251.2 183.3h0M251.9 182.5h0M252.5 180.2h0M253.1 179.5h0M253.8 178.1h0M254.4 176.9h0M255 176h0M255.7 174.8h0M256.3 173.8h0M256.9 173.2h0M257.6 172.8h0M258.2 171.9h0M258.8 171.7h0M259.5 173.6h0M260.1 174.9h0M260.7 172.6h0M261.4 170.7h0M262 172.4h0M262.6 172.8h0M263.3 173.2h0M263.9 173.8h0M264.5 175.9h0M265.2 177h0M265.8 177.7h0M266.4 178.1h0M267.1 178.5h0M267.7 180.2h0M268.3 180h0M269 181.2h0M269.6 182.1h0M270.2 183.3h0M270.9 184.1h0M271.5 184.4h0M272.1 187.7h0M272.8 189.7h0M273.4 196.3h0M274 204.5h0M274.9 215h0M275.7 223.5h0M276.6 225.6h0M277.4 219.2h0M278.3 210.8h0M279.1 204.5h0M279.7 199.1h0M280.4 193.9h0M281 189.6h0M281.6 185.5h0M282.3 183.6h0M282.9 181.2h0M283.5 180.9h0M284.2 179.1h0M284.8 178.9h0M285.4 177h0M286.1 177h0M286.7 176h0M287.3 175.7h0M288 174.9h0M288.6 173.7h0M289.2 173.8h0M289.9 174.7h0M290.5 176h0M291.1 176h0M291.8 177h0M292.4 178.1h0M293 180.2h0M293.7 183.3h0M294.3 187.6h0M295.1 200.2h0M296 210.8h0M296.8 212.9h0M297.5 205.9h0M298.1 198.1h0M298.7 191.3h0M299.4 185.5h0M300 181.4h0M300.6 177h0M301.3 174.5h0M301.9 172.8h0M302.5 171h0M303.2 168.6h0M304 166.4h0M304.8 165.4h0M305.7 163.6h0M306.5 163.3h0M307.4 164.5h0M308.2 164.3h0M309.1 164.1h0M309.9 165.4h0M310.5 164.9h0M311.2 164.3h0M311.8 161.8h0M312.4 160.4h0M313.3 158.1h0M314.1 156.5h0M314.8 154.1h0M315.5 152.2h0M316.2 150.9h0M317 149.6h0M317.7 148.6h0M318.5 146.6h0M319.2 145.3h0M320 144.1h0M320.8 143.9h0M321.6 143.6h0M322.4 142.3h0M323.2 142.6h0M324 142.6h0M324.9 141.6h0M325.7 141.8h0M326.6 142.8h0M327.4 143.1h0M328.3 142.9h0M329.2 144.5h0M330.1 145.4h0M331 146.2h0M331.9 148.5h0M332.7 149.5h0M333.6 151.7h0M334.3 155.4h0M335 158h0M335.7 162.3h0M336.5 167.9h0M337.4 174.9h0M338.2 175.9h0M339 178.1h0M339.9 176.7h0M340.7 176h0M341.6 175.1h0M342.4 173.8h0M343.3 174h0M344.1 172.8h0M344.9 172.3h0M345.8 171.7h0M346.6 172.1h0M347.5 172.8h0M348.3 174.8h0M349.2 176h0M349.8 177.3h0M350.4 179.1h0M351.1 180.7h0M351.7 182.3h0M352.3 182.7h0M353 183.3h0M353.8 184.7h0M354.7 187.6h0M355.5 187.9h0M356.3 189.7h0M357.2 189.2h0M358 188.6h0M358.7 187.1h0M359.4 186.3h0M360.1 185.5h0M360.8 184.7h0M361.5 184.4h0M362.3 183.3h0M363 181.9h0M363.7 185.1h0M364.4 181.2h0M365.1 182.3h0M365.8 182.1h0M366.5 182.3h0M367.2 183h0M367.9 184.5h0M368.6 185.5h0M369.4 188.1h0M370.3 190.7h0M371.1 193.8h0M372 196h0M372.6 198.5h0M373.2 202.3h0M374.1 215h0M374.9 227.7h0M375.8 231.9h0M376.6 221.4h0M377.4 215h0M378.3 221.4h0M379.1 225.6h0M380 212.9h0M380.6 209.4h0M381.2 206.6h0M381.9 204.3h0M382.5 202.3h0M383.4 199h0M384.2 196h0M385 194.2h0M385.9 191.8h0M386.7 191.5h0M387.6 189.7h0M388.3 189.8h0M389 190.9h0M389.7 190.7h0M390.4 190.3h0M391.1 192.2h0M391.8 188.6h0M392.5 188.4h0M393.2 191.9h0M393.9 187.6h0M394.8 188.5h0M395.6 188.6h0M396.4 188.4h0M397.3 189.7h0M398.1 191.7h0M399 193.9h0M399.8 195.7h0M400.7 196h0M401.5 197.4h0M402.3 200.2h0M403 206.5h0M403.6 212.9h0M404.2 207.4h0M404.9 202.3h0M405.5 200.1h0M406.1 198.1h0M406.8 198.9h0M407.4 200.2h0M408.5 198.1h0" fill="none" stroke="#ff2222" stroke-width="2.7" stroke-linecap="round"/></g><rect x="241.3" y="141.6" width="167.3" height="100.4" fill="none" stroke="#5a5a5a" stroke-width="0.9"/><path d="M255.24 242v-1.3M269.18 242v-2.2M283.12 242v-1.3M297.07 242v-2.2M311.01 242v-1.3M324.95 242v-2.2M338.89 242v-1.3M352.83 242v-2.2M366.78 242v-1.3M380.72 242v-2.2M394.66 242v-1.3M241.3 229.45h1.3M241.3 216.9h2.2M241.3 204.35h1.3M241.3 191.8h2.2M241.3 179.25h1.3M241.3 166.7h2.2M241.3 154.15h1.3" stroke="#5a5a5a" stroke-width="0.8" fill="none"/><text x="239.43" y="251.4" font-size="7.5" fill="#1c1c1c" stroke="#1c1c1c" stroke-width="0.1">90</text><text x="267.31" y="251.4" font-size="7.5" fill="#1c1c1c" stroke="#1c1c1c" stroke-width="0.1">60</text><text x="295.19" y="251.4" font-size="7.5" fill="#1c1c1c" stroke="#1c1c1c" stroke-width="0.1">30</text><text x="323.08" y="251.4" font-size="7.5" fill="#1c1c1c" stroke="#1c1c1c" stroke-width="0.1">0</text><text x="349.08" y="251.4" font-size="7.5" fill="#1c1c1c" stroke="#1c1c1c" stroke-width="0.1">30</text><text x="376.97" y="251.4" font-size="7.5" fill="#1c1c1c" stroke="#1c1c1c" stroke-width="0.1">60</text><text x="404.85" y="251.4" font-size="7.5" fill="#1c1c1c" stroke="#1c1c1c" stroke-width="0.1">90</text><text x="239" y="144.9" font-size="7.5" text-anchor="end" fill="#1c1c1c" stroke="#1c1c1c" stroke-width="0.1">0</text><text x="239" y="170" font-size="7.5" text-anchor="end" fill="#1c1c1c" stroke="#1c1c1c" stroke-width="0.1">10</text><text x="239" y="195.1" font-size="7.5" text-anchor="end" fill="#1c1c1c" stroke="#1c1c1c" stroke-width="0.1">20</text><text x="239" y="220.2" font-size="7.5" text-anchor="end" fill="#1c1c1c" stroke="#1c1c1c" stroke-width="0.1">30</text><text x="239" y="245.3" font-size="7.5" text-anchor="end" fill="#1c1c1c" stroke="#1c1c1c" stroke-width="0.1">40</text><path d="M235.68 248.85h3.5M263.56 248.85h3.5M291.44 248.85h3.5M227.75 167.45h3.5M227.75 192.55h3.5M227.75 217.65h3.5M227.75 242.75h3.5" stroke="#1c1c1c" stroke-width="0.6"/><text x="310.55" y="260.3" font-size="7.6" textLength="28.8" lengthAdjust="spacingAndGlyphs" fill="#1c1c1c" stroke="#1c1c1c" stroke-width="0.1">Theta/deg</text><text x="202.15" y="194.3" font-size="7.5" textLength="39.3" lengthAdjust="spacingAndGlyphs" fill="#1c1c1c" stroke="#1c1c1c" stroke-width="0.1" transform="rotate(-90 221.8 191.8)">Magnitude/dB</text><text x="242.8" y="148.6" font-size="7.35" fill="#1c1c1c" stroke="#1c1c1c" stroke-width="0.1">H-plane</text></g>
<g><path d="M37.42 278.5V378.2M51.33 278.5V378.2M65.25 278.5V378.2M79.17 278.5V378.2M93.08 278.5V378.2M107 278.5V378.2M120.92 278.5V378.2M134.83 278.5V378.2M148.75 278.5V378.2M162.67 278.5V378.2M176.58 278.5V378.2M23.5 365.74H190.5M23.5 353.27H190.5M23.5 340.81H190.5M23.5 328.35H190.5M23.5 315.89H190.5M23.5 303.43H190.5M23.5 290.96H190.5" stroke="#eeeeee" stroke-width="0.6" fill="none"/><rect x="136.2" y="279" width="53.8" height="27.5" fill="#fff"/><path d="M138.2 283h9.9" stroke="#333" stroke-width="0.8"/><circle cx="143.15" cy="283" r="1.3" fill="#333"/><text x="151.6" y="285.5" font-size="7.3" textLength="37.52" lengthAdjust="spacingAndGlyphs" fill="#1c1c1c" stroke="#1c1c1c" stroke-width="0.1">Simu.Co-pol</text><path d="M138.2 291.9h9.9" stroke="#f22" stroke-width="0.8"/><circle cx="143.15" cy="291.9" r="1.3" fill="#f22"/><text x="151.6" y="294.4" font-size="7.3" textLength="37.91" lengthAdjust="spacingAndGlyphs" fill="#1c1c1c" stroke="#1c1c1c" stroke-width="0.1">Meas.Co-pol</text><path d="M138.2 301.5h9.9" stroke="#1f6be0" stroke-width="0.8"/><path d="M143.15 300l1.5 2.5h-3z" fill="#1f6be0"/><text x="151.6" y="304" font-size="7.3" textLength="36.55" lengthAdjust="spacingAndGlyphs" fill="#1c1c1c" stroke="#1c1c1c" stroke-width="0.1">Meas.Cr-pol</text><clipPath id="cdE"><rect x="22" y="277" width="170" height="102.7"/></clipPath><g clip-path="url(#cdE)"><path d="M23.5 312 24.4 311.9 25.4 311.9 26.3 311.9 27.2 311.9 28.1 311.9 29.1 311.9 30 312 30.9 312 31.8 312.1 32.8 312.2 33.7 312.3 34.6 312.4 35.6 312.6 36.5 312.7 37.4 312.9 38.3 313.2 39.3 313.5 40.2 313.8 41.1 314.1 42.1 314.5 43 314.8 43.9 315.3 44.8 315.9 45.8 316.6 46.7 317.4 47.6 318.3 48.5 319.3 49.5 320.4 50.4 321.7 51.3 323.3 52.3 325 53.2 326.7 54.1 328.5 55 330.4 56 332.3 56.9 334.3 57.8 336.2 58.8 337.9 59.7 339.5 60.6 340.8 61.5 341.9 62.5 342.9 63.4 343.6 64.3 344.1 65.2 344.6 66.2 345.3 67.1 345.9 68 346.5 69 347.1 69.9 347.7 70.8 348.3 71.7 349 72.7 350.5 73.6 351.5 74.5 349.4 75.5 344.6 76.4 337.9 77.3 330.7 78.2 323.8 79.2 318.8 80.1 315.8 81 313.5 81.9 311.6 82.9 310.2 83.8 309.4 84.7 309.2 85.7 309.6 86.6 310.5 87.5 312 88.4 314.3 89.4 318.2 90.3 324.5 91.2 335.9 92.2 356.8 93.1 367.2 94 338.2 94.9 322.1 95.9 310.3 96.8 301.6 97.7 295.2 98.6 291.4 99.6 288.2 100.5 285.6 101.4 283.6 102.4 281.9 103.3 280.6 104.2 279.7 105.1 279 106.1 278.6 107 278.5 107.9 278.6 108.9 278.9 109.8 279.5 110.7 280.2 111.6 281.3 112.6 282.6 113.5 284.2 114.4 286.2 115.3 288.6 116.3 291.5 117.2 298.2 118.1 307.3 119.1 316.4 120 321.5 120.9 324.7 121.8 325 122.8 322.8 123.7 316.8 124.6 312.9 125.6 310.7 126.5 309.2 127.4 308.1 128.3 307.6 129.3 307.7 130.2 308.7 131.1 310.4 132 312.4 133 314.8 133.9 317.4 134.8 320 135.8 322.5 136.7 325.1 137.6 327.4 138.5 329.6 139.5 331.6 140.4 333.3 141.3 334.7 142.3 335.8 143.2 336.7 144.1 337.5 145 338.3 146 338.9 146.9 339.5 147.8 339.9 148.7 340.3 149.7 340.5 150.6 340.7 151.5 340.7 152.5 340.7 153.4 340.5 154.3 340.2 155.2 339.7 156.2 338.9 157.1 338 158 336.7 159 335.4 159.9 334.2 160.8 333.1 161.7 332.1 162.7 331.2 163.6 330.3 164.5 329.6 165.4 329 166.4 328.6 167.3 328.2 168.2 327.8 169.2 327.6 170.1 327.3 171 327.2 171.9 327 172.9 326.9 173.8 326.7 174.7 326.5 175.7 326.4 176.6 326.2 177.5 326 178.4 325.9 179.4 325.8 180.3 325.6 181.2 325.6 182.1 325.5 183.1 325.4 184 325.4 184.9 325.3 185.9 325.3 186.8 325.2 187.7 325.2 188.6 325.1 189.6 325.1 190.5 325" fill="none" stroke="#3a3a3a" stroke-width="0.9"/><path d="M23.5 312h0M24.4 311.9h0M25.4 311.9h0M26.3 311.9h0M27.2 311.9h0M28.1 311.9h0M29.1 311.9h0M30 312h0M30.9 312h0M31.8 312.1h0M32.8 312.2h0M33.7 312.3h0M34.6 312.4h0M35.6 312.6h0M36.5 312.7h0M37.4 312.9h0M38.3 313.2h0M39.3 313.5h0M40.2 313.8h0M41.1 314.1h0M42.1 314.5h0M43 314.8h0M43.9 315.3h0M44.8 315.9h0M45.8 316.6h0M46.7 317.4h0M47.6 318.3h0M48.5 319.3h0M49.5 320.4h0M50.4 321.7h0M51.3 323.3h0M52.3 325h0M53.2 326.7h0M54.1 328.5h0M55 330.4h0M56 332.3h0M56.9 334.3h0M57.8 336.2h0M58.8 337.9h0M59.7 339.5h0M60.6 340.8h0M61.5 341.9h0M62.5 342.9h0M63.4 343.6h0M64.3 344.1h0M65.2 344.6h0M66.2 345.3h0M67.1 345.9h0M68 346.5h0M69 347.1h0M69.9 347.7h0M70.8 348.3h0M71.7 349h0M72.7 350.5h0M73.6 351.5h0M74.5 349.4h0M75.5 344.6h0M76.4 337.9h0M77.3 330.7h0M78.2 323.8h0M79.2 318.8h0M80.1 315.8h0M81 313.5h0M81.9 311.6h0M82.9 310.2h0M83.8 309.4h0M84.7 309.2h0M85.7 309.6h0M86.6 310.5h0M87.5 312h0M88.4 314.3h0M89.4 318.2h0M90.3 324.5h0M91.2 335.9h0M92.2 356.8h0M93.1 367.2h0M94 338.2h0M94.9 322.1h0M95.9 310.3h0M96.8 301.6h0M97.7 295.2h0M98.6 291.4h0M99.6 288.2h0M100.5 285.6h0M101.4 283.6h0M102.4 281.9h0M103.3 280.6h0M104.2 279.7h0M105.1 279h0M106.1 278.6h0M107 278.5h0M107.9 278.6h0M108.9 278.9h0M109.8 279.5h0M110.7 280.2h0M111.6 281.3h0M112.6 282.6h0M113.5 284.2h0M114.4 286.2h0M115.3 288.6h0M116.3 291.5h0M117.2 298.2h0M118.1 307.3h0M119.1 316.4h0M120 321.5h0M120.9 324.7h0M121.8 325h0M122.8 322.8h0M123.7 316.8h0M124.6 312.9h0M125.6 310.7h0M126.5 309.2h0M127.4 308.1h0M128.3 307.6h0M129.3 307.7h0M130.2 308.7h0M131.1 310.4h0M132 312.4h0M133 314.8h0M133.9 317.4h0M134.8 320h0M135.8 322.5h0M136.7 325.1h0M137.6 327.4h0M138.5 329.6h0M139.5 331.6h0M140.4 333.3h0M141.3 334.7h0M142.3 335.8h0M143.2 336.7h0M144.1 337.5h0M145 338.3h0M146 338.9h0M146.9 339.5h0M147.8 339.9h0M148.7 340.3h0M149.7 340.5h0M150.6 340.7h0M151.5 340.7h0M152.5 340.7h0M153.4 340.5h0M154.3 340.2h0M155.2 339.7h0M156.2 338.9h0M157.1 338h0M158 336.7h0M159 335.4h0M159.9 334.2h0M160.8 333.1h0M161.7 332.1h0M162.7 331.2h0M163.6 330.3h0M164.5 329.6h0M165.4 329h0M166.4 328.6h0M167.3 328.2h0M168.2 327.8h0M169.2 327.6h0M170.1 327.3h0M171 327.2h0M171.9 327h0M172.9 326.9h0M173.8 326.7h0M174.7 326.5h0M175.7 326.4h0M176.6 326.2h0M177.5 326h0M178.4 325.9h0M179.4 325.8h0M180.3 325.6h0M181.2 325.6h0M182.1 325.5h0M183.1 325.4h0M184 325.4h0M184.9 325.3h0M185.9 325.3h0M186.8 325.2h0M187.7 325.2h0M188.6 325.1h0M189.6 325.1h0M190.5 325h0" fill="none" stroke="#3a3a3a" stroke-width="2.5" stroke-linecap="round"/><path d="M23.5 355.2 24.4 351 25.2 359.5 25.9 372.5 26.5 363.7 27.3 348.9 28 354.8 28.6 359.5 29.4 344.7 30.1 361.7 30.7 372.1 31.6 346.8 32.2 345.3 32.8 340.5 33.7 338.3 34.3 349.3 34.9 344.7 35.8 370 36.4 355.4 37 340.5 37.7 344.4 38.3 351 38.9 351.1 39.6 338.3 40.2 350.6 40.8 363.7 41.7 346.8 42.3 354.5 42.9 338.3 43.6 341.1 44.2 344.7 44.8 350.7 45.5 359.5 46.3 334.1 47 336.1 47.6 340.5 48.2 339.7 48.9 336.2 49.5 343.1 50.1 351 50.8 353.4 51.4 338.3 52 350.4 52.7 342.6 53.3 350.9 53.9 359.5 54.8 338.3 55.4 339.8 56 342.6 56.7 349.4 57.3 336.2 57.9 341.7 58.6 344.7 59.2 354.5 59.8 340.5 60.5 343.4 61.1 346.8 61.7 346 62.4 344.7 63 356.6 63.6 351 64.3 345.8 64.9 342.6 65.5 357 66.2 348.9 66.8 345.1 67.4 344.7 68.1 350.2 68.7 355.2 69.3 363.6 70 344.7 70.6 346.7 71.2 346.8 71.9 348.5 72.5 353.1 73.1 352.7 73.8 338.3 74.4 355.5 75 348.9 75.7 346 76.3 342.6 76.9 351.5 77.6 357.4 78.2 353.7 78.8 351 79.5 360.4 80.1 342.6 80.7 345 81.4 338.3 82 335.6 82.6 336.2 83.3 341.3 83.9 340.5 84.5 340.1 85.2 334.1 85.8 343.1 86.4 338.3 87.1 351.5 87.7 336.2 88.3 336.5 89 334.1 89.6 333.2 90.2 332 90.9 330.6 91.5 328.8 92.1 328.8 92.8 325.7 93.4 342 94 332 94.6 333.6 95.3 336.2 95.9 337.7 96.5 329.9 97.2 334.9 97.8 338.3 98.4 336.3 99.1 334.1 99.7 345.7 100.3 329.9 101 331.7 101.6 336.2 102.2 352.4 102.9 340.5 103.5 342.2 104.1 346.8 104.8 349.6 105.4 355.2 106.2 353.5 106.9 353.1 107.4 338.3 108 338.9 108.6 342.6 109.3 347.5 109.9 338.3 110.5 336.9 111.2 332 111.8 332.2 112.4 329.9 113.1 340 113.7 334.1 114.3 335.1 115 338.3 115.6 345 116.2 346.8 116.9 351.7 117.5 340.5 118.1 345.2 118.8 336.2 119.4 342.2 120 344.7 120.7 345.2 121.3 338.3 121.9 350.7 122.6 361.6 123.4 342.6 124 342.2 124.7 338.3 125.3 343 125.9 344.7 126.6 354.6 127.2 346.8 127.8 344 128.5 340.5 129.1 345.1 129.7 348.9 130.4 355.1 131 342.6 131.6 352.2 132.3 355.2 132.9 351.3 133.5 344.7 134.2 363.9 134.8 361.6 135.4 359.1 136.1 355.2 136.7 361.9 137.3 367.9 138 372.1 138.6 372.1 139.2 369 139.9 363.7 140.5 365.7 141.1 355.2 141.8 374.7 142.4 372.1 143 364.9 143.7 359.5 144.3 363.3 144.9 346.8 145.6 364.1 146.2 355.2 146.8 355.8 147.5 351 148.1 349.9 148.7 348.9 149.4 357.1 150 346.8 150.6 342.8 151.3 340.5 151.9 341.7 152.5 344.7 153.2 349.1 153.8 346.8 154.4 344.1 155.1 342.6 155.7 340 156.3 336.2 157 348.9 157.6 338.3 158.2 341.5 158.9 334.1 159.5 340.2 160.1 332 160.8 334.5 161.4 334.1 162 346.6 162.7 336.2 163.3 347 163.9 332 164.6 339.4 165.2 329.9 165.8 340.9 166.5 325.7 167.1 333.9 167.7 334.1 168.4 331.5 169 332 169.6 342.8 170.3 329.9 170.9 333.7 171.5 334.1 172.2 332.5 172.8 332 173.4 332.8 174.1 336.2 174.7 336.7 175.3 329.9 176 331.6 176.6 332 177.2 334.9 177.9 336.2 178.5 338.9 179.1 338.3 179.8 335.4 180.4 334.1 181 338.9 181.7 336.2 182.3 339.5 182.9 340.5 183.6 341.2 184.2 344.7 184.8 348 185.5 351 186.1 356.2 186.7 359.5 187.4 366.5 188 363.7 188.6 369.3 189.3 355.2 189.9 354.7 190.5 351" fill="none" stroke="#1f6be0" stroke-width="0.65"/><path d="M23.5 353.4l1.7 3.1h-3.4zM24.4 349.1l1.7 3.1h-3.4zM25.2 357.6l1.7 3.1h-3.4zM25.9 370.7l1.7 3.1h-3.4zM26.5 361.8l1.7 3.1h-3.4zM27.3 347l1.7 3.1h-3.4zM28 352.9l1.7 3.1h-3.4zM28.6 357.6l1.7 3.1h-3.4zM29.4 342.8l1.7 3.1h-3.4zM30.1 359.8l1.7 3.1h-3.4zM30.7 370.3l1.7 3.1h-3.4zM31.6 344.9l1.7 3.1h-3.4zM32.2 343.4l1.7 3.1h-3.4zM32.8 338.6l1.7 3.1h-3.4zM33.7 336.5l1.7 3.1h-3.4zM34.3 347.4l1.7 3.1h-3.4zM34.9 342.8l1.7 3.1h-3.4zM35.8 368.1l1.7 3.1h-3.4zM36.4 353.5l1.7 3.1h-3.4zM37 338.6l1.7 3.1h-3.4zM37.7 342.5l1.7 3.1h-3.4zM38.3 349.1l1.7 3.1h-3.4zM38.9 349.2l1.7 3.1h-3.4zM39.6 336.5l1.7 3.1h-3.4zM40.2 348.7l1.7 3.1h-3.4zM40.8 361.8l1.7 3.1h-3.4zM41.7 344.9l1.7 3.1h-3.4zM42.3 352.6l1.7 3.1h-3.4zM42.9 336.5l1.7 3.1h-3.4zM43.6 339.2l1.7 3.1h-3.4zM44.2 342.8l1.7 3.1h-3.4zM44.8 348.8l1.7 3.1h-3.4zM45.5 357.6l1.7 3.1h-3.4zM46.3 332.3l1.7 3.1h-3.4zM47 334.2l1.7 3.1h-3.4zM47.6 338.6l1.7 3.1h-3.4zM48.2 337.9l1.7 3.1h-3.4zM48.9 334.4l1.7 3.1h-3.4zM49.5 341.2l1.7 3.1h-3.4zM50.1 349.1l1.7 3.1h-3.4zM50.8 351.5l1.7 3.1h-3.4zM51.4 336.5l1.7 3.1h-3.4zM52 348.6l1.7 3.1h-3.4zM52.7 340.7l1.7 3.1h-3.4zM53.3 349.1l1.7 3.1h-3.4zM53.9 357.6l1.7 3.1h-3.4zM54.8 336.5l1.7 3.1h-3.4zM55.4 338l1.7 3.1h-3.4zM56 340.7l1.7 3.1h-3.4zM56.7 347.5l1.7 3.1h-3.4zM57.3 334.4l1.7 3.1h-3.4zM57.9 339.8l1.7 3.1h-3.4zM58.6 342.8l1.7 3.1h-3.4zM59.2 352.6l1.7 3.1h-3.4zM59.8 338.6l1.7 3.1h-3.4zM60.5 341.5l1.7 3.1h-3.4zM61.1 344.9l1.7 3.1h-3.4zM61.7 344.1l1.7 3.1h-3.4zM62.4 342.8l1.7 3.1h-3.4zM63 354.8l1.7 3.1h-3.4zM63.6 349.1l1.7 3.1h-3.4zM64.3 344l1.7 3.1h-3.4zM64.9 340.7l1.7 3.1h-3.4zM65.5 355.1l1.7 3.1h-3.4zM66.2 347l1.7 3.1h-3.4zM66.8 343.2l1.7 3.1h-3.4zM67.4 342.8l1.7 3.1h-3.4zM68.1 348.3l1.7 3.1h-3.4zM68.7 353.4l1.7 3.1h-3.4zM69.3 361.8l1.7 3.1h-3.4zM70 342.8l1.7 3.1h-3.4zM70.6 344.8l1.7 3.1h-3.4zM71.2 344.9l1.7 3.1h-3.4zM71.9 346.6l1.7 3.1h-3.4zM72.5 351.3l1.7 3.1h-3.4zM73.1 350.9l1.7 3.1h-3.4zM73.8 336.5l1.7 3.1h-3.4zM74.4 353.6l1.7 3.1h-3.4zM75 347l1.7 3.1h-3.4zM75.7 344.2l1.7 3.1h-3.4zM76.3 340.7l1.7 3.1h-3.4zM76.9 349.6l1.7 3.1h-3.4zM77.6 355.5l1.7 3.1h-3.4zM78.2 351.8l1.7 3.1h-3.4zM78.8 349.1l1.7 3.1h-3.4zM79.5 358.6l1.7 3.1h-3.4zM80.1 340.7l1.7 3.1h-3.4zM80.7 343.1l1.7 3.1h-3.4zM81.4 336.5l1.7 3.1h-3.4zM82 333.7l1.7 3.1h-3.4zM82.6 334.4l1.7 3.1h-3.4zM83.3 339.4l1.7 3.1h-3.4zM83.9 338.6l1.7 3.1h-3.4zM84.5 338.2l1.7 3.1h-3.4zM85.2 332.3l1.7 3.1h-3.4zM85.8 341.2l1.7 3.1h-3.4zM86.4 336.5l1.7 3.1h-3.4zM87.1 349.7l1.7 3.1h-3.4zM87.7 334.4l1.7 3.1h-3.4zM88.3 334.6l1.7 3.1h-3.4zM89 332.3l1.7 3.1h-3.4zM89.6 331.4l1.7 3.1h-3.4zM90.2 330.1l1.7 3.1h-3.4zM90.9 328.7l1.7 3.1h-3.4zM91.5 327l1.7 3.1h-3.4zM92.1 326.9l1.7 3.1h-3.4zM92.8 323.8l1.7 3.1h-3.4zM93.4 340.2l1.7 3.1h-3.4zM94 330.1l1.7 3.1h-3.4zM94.6 331.8l1.7 3.1h-3.4zM95.3 334.4l1.7 3.1h-3.4zM95.9 335.8l1.7 3.1h-3.4zM96.5 328l1.7 3.1h-3.4zM97.2 333.1l1.7 3.1h-3.4zM97.8 336.5l1.7 3.1h-3.4zM98.4 334.4l1.7 3.1h-3.4zM99.1 332.3l1.7 3.1h-3.4zM99.7 343.8l1.7 3.1h-3.4zM100.3 328l1.7 3.1h-3.4zM101 329.8l1.7 3.1h-3.4zM101.6 334.4l1.7 3.1h-3.4zM102.2 350.6l1.7 3.1h-3.4zM102.9 338.6l1.7 3.1h-3.4zM103.5 340.3l1.7 3.1h-3.4zM104.1 344.9l1.7 3.1h-3.4zM104.8 347.8l1.7 3.1h-3.4zM105.4 353.4l1.7 3.1h-3.4zM106.2 351.6l1.7 3.1h-3.4zM106.9 351.3l1.7 3.1h-3.4zM107.4 336.5l1.7 3.1h-3.4zM108 337l1.7 3.1h-3.4zM108.6 340.7l1.7 3.1h-3.4zM109.3 345.6l1.7 3.1h-3.4zM109.9 336.5l1.7 3.1h-3.4zM110.5 335l1.7 3.1h-3.4zM111.2 330.1l1.7 3.1h-3.4zM111.8 330.4l1.7 3.1h-3.4zM112.4 328l1.7 3.1h-3.4zM113.1 338.1l1.7 3.1h-3.4zM113.7 332.3l1.7 3.1h-3.4zM114.3 333.2l1.7 3.1h-3.4zM115 336.5l1.7 3.1h-3.4zM115.6 343.1l1.7 3.1h-3.4zM116.2 344.9l1.7 3.1h-3.4zM116.9 349.8l1.7 3.1h-3.4zM117.5 338.6l1.7 3.1h-3.4zM118.1 343.3l1.7 3.1h-3.4zM118.8 334.4l1.7 3.1h-3.4zM119.4 340.3l1.7 3.1h-3.4zM120 342.8l1.7 3.1h-3.4zM120.7 343.4l1.7 3.1h-3.4zM121.3 336.5l1.7 3.1h-3.4zM121.9 348.8l1.7 3.1h-3.4zM122.6 359.7l1.7 3.1h-3.4zM123.4 340.7l1.7 3.1h-3.4zM124 340.3l1.7 3.1h-3.4zM124.7 336.5l1.7 3.1h-3.4zM125.3 341.2l1.7 3.1h-3.4zM125.9 342.8l1.7 3.1h-3.4zM126.6 352.8l1.7 3.1h-3.4zM127.2 344.9l1.7 3.1h-3.4zM127.8 342.1l1.7 3.1h-3.4zM128.5 338.6l1.7 3.1h-3.4zM129.1 343.2l1.7 3.1h-3.4zM129.7 347l1.7 3.1h-3.4zM130.4 353.2l1.7 3.1h-3.4zM131 340.7l1.7 3.1h-3.4zM131.6 350.4l1.7 3.1h-3.4zM132.3 353.4l1.7 3.1h-3.4zM132.9 349.4l1.7 3.1h-3.4zM133.5 342.8l1.7 3.1h-3.4zM134.2 362l1.7 3.1h-3.4zM134.8 359.7l1.7 3.1h-3.4zM135.4 357.2l1.7 3.1h-3.4zM136.1 353.4l1.7 3.1h-3.4zM136.7 360l1.7 3.1h-3.4zM137.3 366l1.7 3.1h-3.4zM138 370.3l1.7 3.1h-3.4zM138.6 370.3l1.7 3.1h-3.4zM139.2 367.1l1.7 3.1h-3.4zM139.9 361.8l1.7 3.1h-3.4zM140.5 363.8l1.7 3.1h-3.4zM141.1 353.4l1.7 3.1h-3.4zM141.8 372.8l1.7 3.1h-3.4zM142.4 370.3l1.7 3.1h-3.4zM143 363.1l1.7 3.1h-3.4zM143.7 357.6l1.7 3.1h-3.4zM144.3 361.5l1.7 3.1h-3.4zM144.9 344.9l1.7 3.1h-3.4zM145.6 362.2l1.7 3.1h-3.4zM146.2 353.4l1.7 3.1h-3.4zM146.8 353.9l1.7 3.1h-3.4zM147.5 349.1l1.7 3.1h-3.4zM148.1 348l1.7 3.1h-3.4zM148.7 347l1.7 3.1h-3.4zM149.4 355.2l1.7 3.1h-3.4zM150 344.9l1.7 3.1h-3.4zM150.6 340.9l1.7 3.1h-3.4zM151.3 338.6l1.7 3.1h-3.4zM151.9 339.8l1.7 3.1h-3.4zM152.5 342.8l1.7 3.1h-3.4zM153.2 347.3l1.7 3.1h-3.4zM153.8 344.9l1.7 3.1h-3.4zM154.4 342.2l1.7 3.1h-3.4zM155.1 340.7l1.7 3.1h-3.4zM155.7 338.2l1.7 3.1h-3.4zM156.3 334.4l1.7 3.1h-3.4zM157 347l1.7 3.1h-3.4zM157.6 336.5l1.7 3.1h-3.4zM158.2 339.7l1.7 3.1h-3.4zM158.9 332.3l1.7 3.1h-3.4zM159.5 338.3l1.7 3.1h-3.4zM160.1 330.1l1.7 3.1h-3.4zM160.8 332.7l1.7 3.1h-3.4zM161.4 332.3l1.7 3.1h-3.4zM162 344.7l1.7 3.1h-3.4zM162.7 334.4l1.7 3.1h-3.4zM163.3 345.1l1.7 3.1h-3.4zM163.9 330.1l1.7 3.1h-3.4zM164.6 337.6l1.7 3.1h-3.4zM165.2 328l1.7 3.1h-3.4zM165.8 339.1l1.7 3.1h-3.4zM166.5 323.8l1.7 3.1h-3.4zM167.1 332l1.7 3.1h-3.4zM167.7 332.3l1.7 3.1h-3.4zM168.4 329.6l1.7 3.1h-3.4zM169 330.1l1.7 3.1h-3.4zM169.6 341l1.7 3.1h-3.4zM170.3 328l1.7 3.1h-3.4zM170.9 331.8l1.7 3.1h-3.4zM171.5 332.3l1.7 3.1h-3.4zM172.2 330.6l1.7 3.1h-3.4zM172.8 330.1l1.7 3.1h-3.4zM173.4 331l1.7 3.1h-3.4zM174.1 334.4l1.7 3.1h-3.4zM174.7 334.8l1.7 3.1h-3.4zM175.3 328l1.7 3.1h-3.4zM176 329.7l1.7 3.1h-3.4zM176.6 330.1l1.7 3.1h-3.4zM177.2 333.1l1.7 3.1h-3.4zM177.9 334.4l1.7 3.1h-3.4zM178.5 337.1l1.7 3.1h-3.4zM179.1 336.5l1.7 3.1h-3.4zM179.8 333.5l1.7 3.1h-3.4zM180.4 332.3l1.7 3.1h-3.4zM181 337l1.7 3.1h-3.4zM181.7 334.4l1.7 3.1h-3.4zM182.3 337.6l1.7 3.1h-3.4zM182.9 338.6l1.7 3.1h-3.4zM183.6 339.3l1.7 3.1h-3.4zM184.2 342.8l1.7 3.1h-3.4zM184.8 346.1l1.7 3.1h-3.4zM185.5 349.1l1.7 3.1h-3.4zM186.1 354.3l1.7 3.1h-3.4zM186.7 357.6l1.7 3.1h-3.4zM187.4 364.7l1.7 3.1h-3.4zM188 361.8l1.7 3.1h-3.4zM188.6 367.5l1.7 3.1h-3.4zM189.3 353.4l1.7 3.1h-3.4zM189.9 352.8l1.7 3.1h-3.4zM190.5 349.1l1.7 3.1h-3.4z" fill="#1f6be0"/><path d="M23.5 329.9 24.2 328.3 24.8 327.8 25.4 330 26.1 332 26.7 329.3 27.3 325.7 28 325.1 28.6 324.6 29.2 324.6 29.9 323.6 30.5 321.5 31.1 320.4 31.8 323.7 32.4 319.3 33 317.6 33.7 316.2 34.3 316.7 34.9 318.3 35.6 319.7 36.2 320.4 36.8 320.7 37.5 322.5 38.1 321.4 38.7 319.3 39.4 321.7 40 323.6 40.6 327.4 41.3 329.9 41.9 328.1 42.5 327.8 43.4 374.2 44.2 327.8 44.8 327.5 45.5 326.7 46.1 328.3 46.7 329.9 47.4 331.7 48 334.1 48.6 333.7 49.3 332 49.9 329.8 50.5 327.8 51.2 329.3 51.8 331 52.4 333.7 53.1 335.2 53.7 338.5 54.3 340.5 55 342.1 55.6 342.6 56.2 340.5 56.9 338.3 57.5 352.8 58.1 367.9 59 376.4 59.6 370.4 60.3 363.7 61.1 355.2 61.7 350.1 62.4 344.7 63 343.3 63.6 340.5 64.3 337.7 64.9 336.2 65.5 334.9 66.2 334.1 66.8 329.9 67.4 325.7 68.1 325.2 68.7 324.6 69.3 322.8 70 322.5 70.6 321.6 71.2 321.5 71.9 324.8 72.5 327.8 73.1 332.4 73.8 338.3 74.4 337.3 75 336.2 75.7 341.2 76.3 344.7 77.1 374.2 78 338.3 78.6 333 79.2 327.8 79.9 327.2 80.5 325.7 81.1 322 81.8 317.2 82.4 315.8 83 315.1 83.7 314.6 84.3 314.1 84.9 315.7 85.6 317.2 86.2 317.7 86.8 318.3 87.5 318.5 88.1 319.3 88.7 319.9 89.4 320.4 90 324.7 90.6 329.9 91.3 334.7 91.9 338.3 92.8 342.6 93.6 355.2 94.4 338.3 95.3 317.2 95.9 310.6 96.5 302.5 97.4 297.8 98.2 292.6 98.9 290.7 99.6 288.7 100.3 286 101.1 285.2 101.8 282.9 102.6 281.2 103.3 280.6 104.2 279.8 105.1 279.7 106 279.7 106.9 278.5 107.6 278.5 108.4 278.5 109.2 279.9 109.9 279.6 110.8 280 111.6 281.9 112.4 282.4 113.1 283.9 113.8 285.5 114.6 286.5 115.4 289.5 116.2 291.4 116.9 296.4 117.5 300.5 118.1 306.4 118.8 312 119.4 315.9 120 319.3 120.9 329.9 121.5 331.8 122.1 334.1 123 338.3 123.6 331.2 124.3 325.7 124.9 321.9 125.5 317.2 126.2 316.9 126.8 316.2 127.4 319.1 128.1 321.5 128.7 320.1 129.3 319.3 130 317.3 130.6 316.2 131.2 318.6 131.9 320.4 132.5 321.7 133.1 323.6 133.8 326.3 134.4 327.8 135 332.7 135.7 336.2 136.3 338 136.9 338.3 137.6 340.2 138.2 342.6 138.8 342.6 139.5 342.6 140.1 336.5 140.7 332 141.4 328.9 142 325.7 142.6 325.5 143.3 324.6 143.9 323.6 144.5 323.6 145.2 320 145.8 317.2 146.4 318.7 147.1 321.5 147.7 324.4 148.3 327.8 148.9 328 149.6 326.7 150.2 327.7 150.8 328.8 151.5 328.9 152.1 329.9 152.7 329.6 153.4 327.8 154 329.8 154.6 332 155.3 336.7 155.9 340.5 156.8 344.7 157.4 348.1 158 351 158.7 353.8 159.3 355.2 159.9 355.3 160.6 355.2 161.2 348.9 161.8 342.6 162.5 338.8 163.1 334.1 163.7 334.6 164.4 336.2 165 338 165.6 340.5 166.3 337.7 166.9 334.1 167.5 336.7 168.2 338.3 168.8 340.8 169.4 342.6 170.1 344.6 170.7 346.8 171.5 351 172.2 345.7 172.8 340.5 173.4 336.9 174.1 332 174.7 330.3 175.3 329.9 176 333.4 176.6 336.2 177.2 338.8 177.9 342.6 178.5 340.6 179.1 338.3 179.8 339.2 180.4 340.5 181 338.6 181.7 336.2 182.3 339.7 182.9 344.7 183.6 349.4 184.2 355.2 185 359.5 185.9 329.9 186.5 334.4 187.1 338.3 187.8 342.4 188.4 346.8 189 349.3 189.7 353.1 190.5 355.2" fill="none" stroke="#ff2222" stroke-width="0.65"/><path d="M23.5 329.9h0M24.2 328.3h0M24.8 327.8h0M25.4 330h0M26.1 332h0M26.7 329.3h0M27.3 325.7h0M28 325.1h0M28.6 324.6h0M29.2 324.6h0M29.9 323.6h0M30.5 321.5h0M31.1 320.4h0M31.8 323.7h0M32.4 319.3h0M33 317.6h0M33.7 316.2h0M34.3 316.7h0M34.9 318.3h0M35.6 319.7h0M36.2 320.4h0M36.8 320.7h0M37.5 322.5h0M38.1 321.4h0M38.7 319.3h0M39.4 321.7h0M40 323.6h0M40.6 327.4h0M41.3 329.9h0M41.9 328.1h0M42.5 327.8h0M43.4 374.2h0M44.2 327.8h0M44.8 327.5h0M45.5 326.7h0M46.1 328.3h0M46.7 329.9h0M47.4 331.7h0M48 334.1h0M48.6 333.7h0M49.3 332h0M49.9 329.8h0M50.5 327.8h0M51.2 329.3h0M51.8 331h0M52.4 333.7h0M53.1 335.2h0M53.7 338.5h0M54.3 340.5h0M55 342.1h0M55.6 342.6h0M56.2 340.5h0M56.9 338.3h0M57.5 352.8h0M58.1 367.9h0M59 376.4h0M59.6 370.4h0M60.3 363.7h0M61.1 355.2h0M61.7 350.1h0M62.4 344.7h0M63 343.3h0M63.6 340.5h0M64.3 337.7h0M64.9 336.2h0M65.5 334.9h0M66.2 334.1h0M66.8 329.9h0M67.4 325.7h0M68.1 325.2h0M68.7 324.6h0M69.3 322.8h0M70 322.5h0M70.6 321.6h0M71.2 321.5h0M71.9 324.8h0M72.5 327.8h0M73.1 332.4h0M73.8 338.3h0M74.4 337.3h0M75 336.2h0M75.7 341.2h0M76.3 344.7h0M77.1 374.2h0M78 338.3h0M78.6 333h0M79.2 327.8h0M79.9 327.2h0M80.5 325.7h0M81.1 322h0M81.8 317.2h0M82.4 315.8h0M83 315.1h0M83.7 314.6h0M84.3 314.1h0M84.9 315.7h0M85.6 317.2h0M86.2 317.7h0M86.8 318.3h0M87.5 318.5h0M88.1 319.3h0M88.7 319.9h0M89.4 320.4h0M90 324.7h0M90.6 329.9h0M91.3 334.7h0M91.9 338.3h0M92.8 342.6h0M93.6 355.2h0M94.4 338.3h0M95.3 317.2h0M95.9 310.6h0M96.5 302.5h0M97.4 297.8h0M98.2 292.6h0M98.9 290.7h0M99.6 288.7h0M100.3 286h0M101.1 285.2h0M101.8 282.9h0M102.6 281.2h0M103.3 280.6h0M104.2 279.8h0M105.1 279.7h0M106 279.7h0M106.9 278.5h0M107.6 278.5h0M108.4 278.5h0M109.2 279.9h0M109.9 279.6h0M110.8 280h0M111.6 281.9h0M112.4 282.4h0M113.1 283.9h0M113.8 285.5h0M114.6 286.5h0M115.4 289.5h0M116.2 291.4h0M116.9 296.4h0M117.5 300.5h0M118.1 306.4h0M118.8 312h0M119.4 315.9h0M120 319.3h0M120.9 329.9h0M121.5 331.8h0M122.1 334.1h0M123 338.3h0M123.6 331.2h0M124.3 325.7h0M124.9 321.9h0M125.5 317.2h0M126.2 316.9h0M126.8 316.2h0M127.4 319.1h0M128.1 321.5h0M128.7 320.1h0M129.3 319.3h0M130 317.3h0M130.6 316.2h0M131.2 318.6h0M131.9 320.4h0M132.5 321.7h0M133.1 323.6h0M133.8 326.3h0M134.4 327.8h0M135 332.7h0M135.7 336.2h0M136.3 338h0M136.9 338.3h0M137.6 340.2h0M138.2 342.6h0M138.8 342.6h0M139.5 342.6h0M140.1 336.5h0M140.7 332h0M141.4 328.9h0M142 325.7h0M142.6 325.5h0M143.3 324.6h0M143.9 323.6h0M144.5 323.6h0M145.2 320h0M145.8 317.2h0M146.4 318.7h0M147.1 321.5h0M147.7 324.4h0M148.3 327.8h0M148.9 328h0M149.6 326.7h0M150.2 327.7h0M150.8 328.8h0M151.5 328.9h0M152.1 329.9h0M152.7 329.6h0M153.4 327.8h0M154 329.8h0M154.6 332h0M155.3 336.7h0M155.9 340.5h0M156.8 344.7h0M157.4 348.1h0M158 351h0M158.7 353.8h0M159.3 355.2h0M159.9 355.3h0M160.6 355.2h0M161.2 348.9h0M161.8 342.6h0M162.5 338.8h0M163.1 334.1h0M163.7 334.6h0M164.4 336.2h0M165 338h0M165.6 340.5h0M166.3 337.7h0M166.9 334.1h0M167.5 336.7h0M168.2 338.3h0M168.8 340.8h0M169.4 342.6h0M170.1 344.6h0M170.7 346.8h0M171.5 351h0M172.2 345.7h0M172.8 340.5h0M173.4 336.9h0M174.1 332h0M174.7 330.3h0M175.3 329.9h0M176 333.4h0M176.6 336.2h0M177.2 338.8h0M177.9 342.6h0M178.5 340.6h0M179.1 338.3h0M179.8 339.2h0M180.4 340.5h0M181 338.6h0M181.7 336.2h0M182.3 339.7h0M182.9 344.7h0M183.6 349.4h0M184.2 355.2h0M185 359.5h0M185.9 329.9h0M186.5 334.4h0M187.1 338.3h0M187.8 342.4h0M188.4 346.8h0M189 349.3h0M189.7 353.1h0M190.5 355.2h0" fill="none" stroke="#ff2222" stroke-width="2.7" stroke-linecap="round"/></g><rect x="23.5" y="278.5" width="167" height="99.7" fill="none" stroke="#5a5a5a" stroke-width="0.9"/><path d="M37.42 378.2v-1.3M51.33 378.2v-2.2M65.25 378.2v-1.3M79.17 378.2v-2.2M93.08 378.2v-1.3M107 378.2v-2.2M120.92 378.2v-1.3M134.83 378.2v-2.2M148.75 378.2v-1.3M162.67 378.2v-2.2M176.58 378.2v-1.3M23.5 365.74h1.3M23.5 353.27h2.2M23.5 340.81h1.3M23.5 328.35h2.2M23.5 315.89h1.3M23.5 303.43h2.2M23.5 290.96h1.3" stroke="#5a5a5a" stroke-width="0.8" fill="none"/><text x="21.62" y="387.6" font-size="7.5" fill="#1c1c1c" stroke="#1c1c1c" stroke-width="0.1">90</text><text x="49.46" y="387.6" font-size="7.5" fill="#1c1c1c" stroke="#1c1c1c" stroke-width="0.1">60</text><text x="77.29" y="387.6" font-size="7.5" fill="#1c1c1c" stroke="#1c1c1c" stroke-width="0.1">30</text><text x="105.12" y="387.6" font-size="7.5" fill="#1c1c1c" stroke="#1c1c1c" stroke-width="0.1">0</text><text x="131.08" y="387.6" font-size="7.5" fill="#1c1c1c" stroke="#1c1c1c" stroke-width="0.1">30</text><text x="158.92" y="387.6" font-size="7.5" fill="#1c1c1c" stroke="#1c1c1c" stroke-width="0.1">60</text><text x="186.75" y="387.6" font-size="7.5" fill="#1c1c1c" stroke="#1c1c1c" stroke-width="0.1">90</text><text x="21.2" y="281.8" font-size="7.5" text-anchor="end" fill="#1c1c1c" stroke="#1c1c1c" stroke-width="0.1">0</text><text x="21.2" y="306.73" font-size="7.5" text-anchor="end" fill="#1c1c1c" stroke="#1c1c1c" stroke-width="0.1">10</text><text x="21.2" y="331.65" font-size="7.5" text-anchor="end" fill="#1c1c1c" stroke="#1c1c1c" stroke-width="0.1">20</text><text x="21.2" y="356.57" font-size="7.5" text-anchor="end" fill="#1c1c1c" stroke="#1c1c1c" stroke-width="0.1">30</text><text x="21.2" y="381.5" font-size="7.5" text-anchor="end" fill="#1c1c1c" stroke="#1c1c1c" stroke-width="0.1">40</text><path d="M17.88 385.05h3.5M45.71 385.05h3.5M73.54 385.05h3.5M9.95 304.18h3.5M9.95 329.1h3.5M9.95 354.02h3.5M9.95 378.95h3.5" stroke="#1c1c1c" stroke-width="0.6"/><text x="92.6" y="396.5" font-size="7.6" textLength="28.8" lengthAdjust="spacingAndGlyphs" fill="#1c1c1c" stroke="#1c1c1c" stroke-width="0.1">Theta/deg</text><text x="-17" y="330.85" font-size="7.5" textLength="42.0" lengthAdjust="spacingAndGlyphs" fill="#1c1c1c" stroke="#1c1c1c" stroke-width="0.1" transform="rotate(-90 4 328.35)">Magnitude/dB</text><text x="25.9" y="285.5" font-size="7.4" fill="#1c1c1c" stroke="#1c1c1c" stroke-width="0.1">E-plane</text></g>
<g><path d="M256.14 278.4V378.5M270.08 278.4V378.5M284.02 278.4V378.5M297.97 278.4V378.5M311.91 278.4V378.5M325.85 278.4V378.5M339.79 278.4V378.5M353.73 278.4V378.5M367.68 278.4V378.5M381.62 278.4V378.5M395.56 278.4V378.5M242.2 365.99H409.5M242.2 353.48H409.5M242.2 340.96H409.5M242.2 328.45H409.5M242.2 315.94H409.5M242.2 303.42H409.5M242.2 290.91H409.5" stroke="#eeeeee" stroke-width="0.6" fill="none"/><rect x="359.2" y="278.9" width="49.8" height="27.2" fill="#fff"/><path d="M361.2 283.2h9.1" stroke="#333" stroke-width="0.8"/><circle cx="365.75" cy="283.2" r="1.3" fill="#333"/><text x="373.8" y="285.7" font-size="6.7" textLength="34.44" lengthAdjust="spacingAndGlyphs" fill="#1c1c1c" stroke="#1c1c1c" stroke-width="0.1">Simu.Co-pol</text><path d="M361.2 291.9h9.1" stroke="#f22" stroke-width="0.8"/><circle cx="365.75" cy="291.9" r="1.3" fill="#f22"/><text x="373.8" y="294.4" font-size="6.7" textLength="34.8" lengthAdjust="spacingAndGlyphs" fill="#1c1c1c" stroke="#1c1c1c" stroke-width="0.1">Meas.Co-pol</text><path d="M361.2 301.1h9.1" stroke="#1f6be0" stroke-width="0.8"/><path d="M365.75 299.6l1.5 2.5h-3z" fill="#1f6be0"/><text x="373.8" y="303.6" font-size="6.7" textLength="33.55" lengthAdjust="spacingAndGlyphs" fill="#1c1c1c" stroke="#1c1c1c" stroke-width="0.1">Meas.Cr-pol</text><clipPath id="cdH"><rect x="240.7" y="276.9" width="170.3" height="103.1"/></clipPath><g clip-path="url(#cdH)"><path d="M242.2 327.8 243.1 329.3 244.1 330.7 245 331.9 245.9 332.8 246.8 333.4 247.8 333.8 248.7 334.1 249.6 334.1 250.6 333.7 251.5 333 252.4 332.2 253.4 331.4 254.3 330.5 255.2 329.5 256.1 328.5 257.1 327.5 258 326.5 258.9 325.7 259.9 325.3 260.8 325 261.7 324.8 262.6 324.3 263.6 323.6 264.5 322.9 265.4 322.5 266.4 322.2 267.3 322.2 268.2 322.4 269.2 322.9 270.1 323.6 271 324.7 271.9 326.3 272.9 328.5 273.8 331.1 274.7 333.9 275.7 336.9 276.6 340.1 277.5 342.5 278.4 342.8 279.4 341.2 280.3 338 281.2 333.2 282.2 329.7 283.1 327 284 325.1 285 324 285.9 323.4 286.8 323.4 287.7 323.7 288.7 324.6 289.6 326.2 290.5 328.7 291.5 331.9 292.4 336.2 293.3 342.9 294.2 353.1 295.2 364 296.1 367.2 297 358.8 298 345.2 298.9 334 299.8 326.8 300.8 321.6 301.7 317.9 302.6 315.4 303.5 313.7 304.5 312.8 305.4 312.7 306.3 313.7 307.3 315.9 308.2 319.2 309.1 323.9 310 332.4 311 345.6 311.9 352 312.8 337.9 313.8 324.1 314.7 312.4 315.6 302.2 316.6 295.2 317.5 290.8 318.4 287.7 319.3 285.3 320.3 283.3 321.2 281.7 322.1 280.5 323.1 279.6 324 278.9 324.9 278.5 325.9 278.4 326.8 278.5 327.7 278.8 328.6 279.4 329.6 280.2 330.5 281.3 331.4 282.6 332.4 284.3 333.3 286.4 334.2 288.9 335.1 292.1 336.1 297.7 337 305.3 337.9 313.4 338.9 322.5 339.8 335 340.7 347.5 341.7 341.3 342.6 332.6 343.5 325.5 344.4 320.7 345.4 317.5 346.3 315.6 347.2 314.9 348.2 315 349.1 315.7 350 317.1 350.9 319.2 351.9 322.2 352.8 326.2 353.7 331.4 354.7 337.5 355.6 342 356.5 341.6 357.5 337.6 358.4 333.6 359.3 329.7 360.2 326.7 361.2 324.5 362.1 322.9 363 322.1 364 322 364.9 322.3 365.8 322.8 366.7 323.5 367.7 324.5 368.6 326.4 369.5 329.2 370.5 332.7 371.4 336.3 372.3 340.3 373.3 343.4 374.2 345.8 375.1 346.8 376 345.5 377 343.1 377.9 340.6 378.8 338 379.8 335.6 380.7 333.6 381.6 332 382.5 330.6 383.5 329.5 384.4 328.7 385.3 328.2 386.3 327.8 387.2 327.6 388.1 327.6 389.1 327.7 390 327.9 390.9 328.1 391.8 328.3 392.8 328.5 393.7 328.9 394.6 329.3 395.6 329.9 396.5 330.4 397.4 330.8 398.3 331.1 399.3 331.1 400.2 331.1 401.1 331.1 402.1 331 403 330.8 403.9 330.6 404.9 330.3 405.8 330.1 406.7 329.8 407.6 329.5 408.6 329.2 409.5 328.8" fill="none" stroke="#3a3a3a" stroke-width="0.9"/><path d="M242.2 327.8h0M243.1 329.3h0M244.1 330.7h0M245 331.9h0M245.9 332.8h0M246.8 333.4h0M247.8 333.8h0M248.7 334.1h0M249.6 334.1h0M250.6 333.7h0M251.5 333h0M252.4 332.2h0M253.4 331.4h0M254.3 330.5h0M255.2 329.5h0M256.1 328.5h0M257.1 327.5h0M258 326.5h0M258.9 325.7h0M259.9 325.3h0M260.8 325h0M261.7 324.8h0M262.6 324.3h0M263.6 323.6h0M264.5 322.9h0M265.4 322.5h0M266.4 322.2h0M267.3 322.2h0M268.2 322.4h0M269.2 322.9h0M270.1 323.6h0M271 324.7h0M271.9 326.3h0M272.9 328.5h0M273.8 331.1h0M274.7 333.9h0M275.7 336.9h0M276.6 340.1h0M277.5 342.5h0M278.4 342.8h0M279.4 341.2h0M280.3 338h0M281.2 333.2h0M282.2 329.7h0M283.1 327h0M284 325.1h0M285 324h0M285.9 323.4h0M286.8 323.4h0M287.7 323.7h0M288.7 324.6h0M289.6 326.2h0M290.5 328.7h0M291.5 331.9h0M292.4 336.2h0M293.3 342.9h0M294.2 353.1h0M295.2 364h0M296.1 367.2h0M297 358.8h0M298 345.2h0M298.9 334h0M299.8 326.8h0M300.8 321.6h0M301.7 317.9h0M302.6 315.4h0M303.5 313.7h0M304.5 312.8h0M305.4 312.7h0M306.3 313.7h0M307.3 315.9h0M308.2 319.2h0M309.1 323.9h0M310 332.4h0M311 345.6h0M311.9 352h0M312.8 337.9h0M313.8 324.1h0M314.7 312.4h0M315.6 302.2h0M316.6 295.2h0M317.5 290.8h0M318.4 287.7h0M319.3 285.3h0M320.3 283.3h0M321.2 281.7h0M322.1 280.5h0M323.1 279.6h0M324 278.9h0M324.9 278.5h0M325.9 278.4h0M326.8 278.5h0M327.7 278.8h0M328.6 279.4h0M329.6 280.2h0M330.5 281.3h0M331.4 282.6h0M332.4 284.3h0M333.3 286.4h0M334.2 288.9h0M335.1 292.1h0M336.1 297.7h0M337 305.3h0M337.9 313.4h0M338.9 322.5h0M339.8 335h0M340.7 347.5h0M341.7 341.3h0M342.6 332.6h0M343.5 325.5h0M344.4 320.7h0M345.4 317.5h0M346.3 315.6h0M347.2 314.9h0M348.2 315h0M349.1 315.7h0M350 317.1h0M350.9 319.2h0M351.9 322.2h0M352.8 326.2h0M353.7 331.4h0M354.7 337.5h0M355.6 342h0M356.5 341.6h0M357.5 337.6h0M358.4 333.6h0M359.3 329.7h0M360.2 326.7h0M361.2 324.5h0M362.1 322.9h0M363 322.1h0M364 322h0M364.9 322.3h0M365.8 322.8h0M366.7 323.5h0M367.7 324.5h0M368.6 326.4h0M369.5 329.2h0M370.5 332.7h0M371.4 336.3h0M372.3 340.3h0M373.3 343.4h0M374.2 345.8h0M375.1 346.8h0M376 345.5h0M377 343.1h0M377.9 340.6h0M378.8 338h0M379.8 335.6h0M380.7 333.6h0M381.6 332h0M382.5 330.6h0M383.5 329.5h0M384.4 328.7h0M385.3 328.2h0M386.3 327.8h0M387.2 327.6h0M388.1 327.6h0M389.1 327.7h0M390 327.9h0M390.9 328.1h0M391.8 328.3h0M392.8 328.5h0M393.7 328.9h0M394.6 329.3h0M395.6 329.9h0M396.5 330.4h0M397.4 330.8h0M398.3 331.1h0M399.3 331.1h0M400.2 331.1h0M401.1 331.1h0M402.1 331h0M403 330.8h0M403.9 330.6h0M404.9 330.3h0M405.8 330.1h0M406.7 329.8h0M407.6 329.5h0M408.6 329.2h0M409.5 328.8h0" fill="none" stroke="#3a3a3a" stroke-width="2.5" stroke-linecap="round"/><path d="M242.2 342.6 243 348.9 243.8 329.9 244.6 367.9 245.5 338.3 246.1 338.6 246.8 336.2 247.4 346.2 248 332 248.7 332.2 249.3 329.9 249.9 334.4 250.6 336.2 251.2 332.7 251.8 329.9 252.7 340.5 253.3 349.2 253.9 336.2 254.8 321.5 255.6 338.3 256.2 333.8 256.9 327.8 257.5 326.2 258.1 325.7 258.8 344.6 259.4 348.9 260.3 329.9 261.1 332 261.7 336.7 262.4 323.6 263 336.1 263.6 348.9 264.3 341.8 264.9 332 265.5 328.4 266.2 325.7 266.8 330.6 267.4 332 268.1 329.5 268.7 327.8 269.3 337.3 270 327.8 270.6 330.5 271.2 329.9 271.9 333.7 272.5 336.2 273.1 343.9 273.8 332 274.4 331.1 275 329.9 275.7 333.6 276.3 338.3 276.9 335.6 277.6 336.2 278.2 347.7 278.8 342.6 279.5 337.3 280.1 334.1 280.7 347.9 281.4 336.2 282 330.4 282.6 327.8 283.5 321.5 284.1 331.1 284.7 338.3 285.4 336.9 286 336.2 286.6 335.9 287.3 334.1 287.9 339.2 288.5 342.6 289.2 339.6 289.8 338.3 290.4 334.3 291.1 329.9 291.7 344.2 292.3 336.2 293 339.8 293.6 344.7 294.4 348.9 295.1 354.2 295.7 342.6 296.3 344.8 297 346.8 297.6 344.5 298.2 344.7 298.9 349.3 299.5 351 300.1 348.1 300.8 346.8 301.6 336.2 302.3 352.7 302.9 355.2 303.5 353 304.2 351 304.8 357 305.4 359.5 306.1 360 306.7 357.4 307.3 365.1 308 363.7 308.8 372.1 309.6 348.9 310.3 343.3 310.9 336.2 311.5 336.4 312.2 334.1 312.8 331.2 313.4 329.9 314.1 337.7 314.7 336.2 315.3 338.4 316 332 316.6 330.2 317.2 325.7 317.9 332.5 318.5 338.3 319.1 334.7 319.8 334.1 320.4 345.1 321 342.6 321.7 356.3 322.3 348.9 322.9 352.3 323.6 336.2 324.2 344.3 324.8 329.9 325.9 336.2 326.5 340.5 327.4 329.9 328.2 342.6 329.1 355.2 329.9 336.2 330.5 336.3 331.2 338.3 331.8 341.9 332.4 346.8 333.1 339.5 333.7 329.9 334.6 338.3 335.2 341.9 335.8 344.7 336.5 346.9 337.1 336.2 337.7 331.8 338.4 329.9 339.2 344.7 340 334.1 340.9 325.7 341.5 324 342.1 323.6 342.8 325.4 343.4 327.8 344 328.2 344.7 325.7 345.3 321.9 345.9 320.4 346.6 333.3 347.2 323.6 347.8 330.3 348.5 325.7 349.1 325.8 349.7 327.8 350.4 323 351 321.5 351.6 322 352.3 325.7 352.9 325.3 353.5 324.6 354.2 330 354.8 329.9 355.4 330.6 356.1 327.8 356.7 327.1 357.3 321.5 358 318.7 358.6 319.3 359.2 328.3 359.9 323.6 360.5 333 361.1 329.9 361.8 328.1 362.4 327.8 363 329.4 363.7 332 364.3 333.2 364.9 329.9 365.6 339.5 366.2 338.3 366.8 346.6 367.5 336.2 368.1 331.9 368.7 327.8 369.4 329.2 370 332 370.6 335 371.3 336.2 371.9 331.5 372.5 325.7 373.2 328.8 373.8 332 374.4 329.5 375.1 327.8 375.7 328.7 376.3 329.9 377 331.1 377.6 332 378.2 330.5 378.9 325.7 379.5 336.6 380.1 329.9 380.8 339 381.4 342.6 382 338.6 382.7 332 383.3 329.5 383.9 325.7 384.6 328.7 385.2 329.9 385.8 328.5 386.5 327.8 387.1 342.9 387.7 355.2 388.4 344.1 389 329.9 389.6 339 390.3 327.8 390.9 330.1 391.5 332 392.2 330.3 392.8 329.9 393.4 344.7 394.1 359.5 394.7 345.3 395.3 334.1 396 334.9 396.6 329.9 397.2 339.3 397.9 334.1 398.5 337.8 399.1 338.3 399.8 341.4 400.4 342.6 401.2 347.4 402.1 340.5 402.9 339.8 403.8 336.2 404.6 336.3 405.5 338.3 406.3 346.5 407.1 340.5 407.8 342.5 408.4 338.3 409.5 346.8" fill="none" stroke="#1f6be0" stroke-width="0.65"/><path d="M242.2 340.7l1.7 3.1h-3.4zM243 347l1.7 3.1h-3.4zM243.8 328l1.7 3.1h-3.4zM244.6 366l1.7 3.1h-3.4zM245.5 336.5l1.7 3.1h-3.4zM246.1 336.7l1.7 3.1h-3.4zM246.8 334.4l1.7 3.1h-3.4zM247.4 344.4l1.7 3.1h-3.4zM248 330.1l1.7 3.1h-3.4zM248.7 330.4l1.7 3.1h-3.4zM249.3 328l1.7 3.1h-3.4zM249.9 332.5l1.7 3.1h-3.4zM250.6 334.4l1.7 3.1h-3.4zM251.2 330.9l1.7 3.1h-3.4zM251.8 328l1.7 3.1h-3.4zM252.7 338.6l1.7 3.1h-3.4zM253.3 347.4l1.7 3.1h-3.4zM253.9 334.4l1.7 3.1h-3.4zM254.8 319.6l1.7 3.1h-3.4zM255.6 336.5l1.7 3.1h-3.4zM256.2 331.9l1.7 3.1h-3.4zM256.9 325.9l1.7 3.1h-3.4zM257.5 324.4l1.7 3.1h-3.4zM258.1 323.8l1.7 3.1h-3.4zM258.8 342.7l1.7 3.1h-3.4zM259.4 347l1.7 3.1h-3.4zM260.3 328l1.7 3.1h-3.4zM261.1 330.1l1.7 3.1h-3.4zM261.7 334.9l1.7 3.1h-3.4zM262.4 321.7l1.7 3.1h-3.4zM263 334.2l1.7 3.1h-3.4zM263.6 347l1.7 3.1h-3.4zM264.3 340l1.7 3.1h-3.4zM264.9 330.1l1.7 3.1h-3.4zM265.5 326.5l1.7 3.1h-3.4zM266.2 323.8l1.7 3.1h-3.4zM266.8 328.7l1.7 3.1h-3.4zM267.4 330.1l1.7 3.1h-3.4zM268.1 327.7l1.7 3.1h-3.4zM268.7 325.9l1.7 3.1h-3.4zM269.3 335.5l1.7 3.1h-3.4zM270 325.9l1.7 3.1h-3.4zM270.6 328.6l1.7 3.1h-3.4zM271.2 328l1.7 3.1h-3.4zM271.9 331.8l1.7 3.1h-3.4zM272.5 334.4l1.7 3.1h-3.4zM273.1 342.1l1.7 3.1h-3.4zM273.8 330.1l1.7 3.1h-3.4zM274.4 329.2l1.7 3.1h-3.4zM275 328l1.7 3.1h-3.4zM275.7 331.7l1.7 3.1h-3.4zM276.3 336.5l1.7 3.1h-3.4zM276.9 333.7l1.7 3.1h-3.4zM277.6 334.4l1.7 3.1h-3.4zM278.2 345.9l1.7 3.1h-3.4zM278.8 340.7l1.7 3.1h-3.4zM279.5 335.5l1.7 3.1h-3.4zM280.1 332.3l1.7 3.1h-3.4zM280.7 346l1.7 3.1h-3.4zM281.4 334.4l1.7 3.1h-3.4zM282 328.6l1.7 3.1h-3.4zM282.6 325.9l1.7 3.1h-3.4zM283.5 319.6l1.7 3.1h-3.4zM284.1 329.2l1.7 3.1h-3.4zM284.7 336.5l1.7 3.1h-3.4zM285.4 335l1.7 3.1h-3.4zM286 334.4l1.7 3.1h-3.4zM286.6 334.1l1.7 3.1h-3.4zM287.3 332.3l1.7 3.1h-3.4zM287.9 337.4l1.7 3.1h-3.4zM288.5 340.7l1.7 3.1h-3.4zM289.2 337.7l1.7 3.1h-3.4zM289.8 336.5l1.7 3.1h-3.4zM290.4 332.5l1.7 3.1h-3.4zM291.1 328l1.7 3.1h-3.4zM291.7 342.3l1.7 3.1h-3.4zM292.3 334.4l1.7 3.1h-3.4zM293 338l1.7 3.1h-3.4zM293.6 342.8l1.7 3.1h-3.4zM294.4 347l1.7 3.1h-3.4zM295.1 352.3l1.7 3.1h-3.4zM295.7 340.7l1.7 3.1h-3.4zM296.3 342.9l1.7 3.1h-3.4zM297 344.9l1.7 3.1h-3.4zM297.6 342.7l1.7 3.1h-3.4zM298.2 342.8l1.7 3.1h-3.4zM298.9 347.4l1.7 3.1h-3.4zM299.5 349.1l1.7 3.1h-3.4zM300.1 346.3l1.7 3.1h-3.4zM300.8 344.9l1.7 3.1h-3.4zM301.6 334.4l1.7 3.1h-3.4zM302.3 350.8l1.7 3.1h-3.4zM302.9 353.4l1.7 3.1h-3.4zM303.5 351.1l1.7 3.1h-3.4zM304.2 349.1l1.7 3.1h-3.4zM304.8 355.1l1.7 3.1h-3.4zM305.4 357.6l1.7 3.1h-3.4zM306.1 358.2l1.7 3.1h-3.4zM306.7 355.5l1.7 3.1h-3.4zM307.3 363.2l1.7 3.1h-3.4zM308 361.8l1.7 3.1h-3.4zM308.8 370.3l1.7 3.1h-3.4zM309.6 347l1.7 3.1h-3.4zM310.3 341.4l1.7 3.1h-3.4zM310.9 334.4l1.7 3.1h-3.4zM311.5 334.5l1.7 3.1h-3.4zM312.2 332.3l1.7 3.1h-3.4zM312.8 329.3l1.7 3.1h-3.4zM313.4 328l1.7 3.1h-3.4zM314.1 335.8l1.7 3.1h-3.4zM314.7 334.4l1.7 3.1h-3.4zM315.3 336.6l1.7 3.1h-3.4zM316 330.1l1.7 3.1h-3.4zM316.6 328.3l1.7 3.1h-3.4zM317.2 323.8l1.7 3.1h-3.4zM317.9 330.7l1.7 3.1h-3.4zM318.5 336.5l1.7 3.1h-3.4zM319.1 332.9l1.7 3.1h-3.4zM319.8 332.3l1.7 3.1h-3.4zM320.4 343.2l1.7 3.1h-3.4zM321 340.7l1.7 3.1h-3.4zM321.7 354.4l1.7 3.1h-3.4zM322.3 347l1.7 3.1h-3.4zM322.9 350.4l1.7 3.1h-3.4zM323.6 334.4l1.7 3.1h-3.4zM324.2 342.5l1.7 3.1h-3.4zM324.8 328l1.7 3.1h-3.4zM325.9 334.4l1.7 3.1h-3.4zM326.5 338.6l1.7 3.1h-3.4zM327.4 328l1.7 3.1h-3.4zM328.2 340.7l1.7 3.1h-3.4zM329.1 353.4l1.7 3.1h-3.4zM329.9 334.4l1.7 3.1h-3.4zM330.5 334.4l1.7 3.1h-3.4zM331.2 336.5l1.7 3.1h-3.4zM331.8 340l1.7 3.1h-3.4zM332.4 344.9l1.7 3.1h-3.4zM333.1 337.6l1.7 3.1h-3.4zM333.7 328l1.7 3.1h-3.4zM334.6 336.5l1.7 3.1h-3.4zM335.2 340l1.7 3.1h-3.4zM335.8 342.8l1.7 3.1h-3.4zM336.5 345l1.7 3.1h-3.4zM337.1 334.4l1.7 3.1h-3.4zM337.7 329.9l1.7 3.1h-3.4zM338.4 328l1.7 3.1h-3.4zM339.2 342.8l1.7 3.1h-3.4zM340 332.3l1.7 3.1h-3.4zM340.9 323.8l1.7 3.1h-3.4zM341.5 322.2l1.7 3.1h-3.4zM342.1 321.7l1.7 3.1h-3.4zM342.8 323.6l1.7 3.1h-3.4zM343.4 325.9l1.7 3.1h-3.4zM344 326.4l1.7 3.1h-3.4zM344.7 323.8l1.7 3.1h-3.4zM345.3 320l1.7 3.1h-3.4zM345.9 318.5l1.7 3.1h-3.4zM346.6 331.4l1.7 3.1h-3.4zM347.2 321.7l1.7 3.1h-3.4zM347.8 328.5l1.7 3.1h-3.4zM348.5 323.8l1.7 3.1h-3.4zM349.1 323.9l1.7 3.1h-3.4zM349.7 325.9l1.7 3.1h-3.4zM350.4 321.1l1.7 3.1h-3.4zM351 319.6l1.7 3.1h-3.4zM351.6 320.1l1.7 3.1h-3.4zM352.3 323.8l1.7 3.1h-3.4zM352.9 323.4l1.7 3.1h-3.4zM353.5 322.8l1.7 3.1h-3.4zM354.2 328.2l1.7 3.1h-3.4zM354.8 328l1.7 3.1h-3.4zM355.4 328.7l1.7 3.1h-3.4zM356.1 325.9l1.7 3.1h-3.4zM356.7 325.3l1.7 3.1h-3.4zM357.3 319.6l1.7 3.1h-3.4zM358 316.8l1.7 3.1h-3.4zM358.6 317.5l1.7 3.1h-3.4zM359.2 326.4l1.7 3.1h-3.4zM359.9 321.7l1.7 3.1h-3.4zM360.5 331.2l1.7 3.1h-3.4zM361.1 328l1.7 3.1h-3.4zM361.8 326.2l1.7 3.1h-3.4zM362.4 325.9l1.7 3.1h-3.4zM363 327.5l1.7 3.1h-3.4zM363.7 330.1l1.7 3.1h-3.4zM364.3 331.3l1.7 3.1h-3.4zM364.9 328l1.7 3.1h-3.4zM365.6 337.6l1.7 3.1h-3.4zM366.2 336.5l1.7 3.1h-3.4zM366.8 344.7l1.7 3.1h-3.4zM367.5 334.4l1.7 3.1h-3.4zM368.1 330l1.7 3.1h-3.4zM368.7 325.9l1.7 3.1h-3.4zM369.4 327.4l1.7 3.1h-3.4zM370 330.1l1.7 3.1h-3.4zM370.6 333.2l1.7 3.1h-3.4zM371.3 334.4l1.7 3.1h-3.4zM371.9 329.7l1.7 3.1h-3.4zM372.5 323.8l1.7 3.1h-3.4zM373.2 327l1.7 3.1h-3.4zM373.8 330.1l1.7 3.1h-3.4zM374.4 327.6l1.7 3.1h-3.4zM375.1 325.9l1.7 3.1h-3.4zM375.7 326.9l1.7 3.1h-3.4zM376.3 328l1.7 3.1h-3.4zM377 329.2l1.7 3.1h-3.4zM377.6 330.1l1.7 3.1h-3.4zM378.2 328.7l1.7 3.1h-3.4zM378.9 323.8l1.7 3.1h-3.4zM379.5 334.8l1.7 3.1h-3.4zM380.1 328l1.7 3.1h-3.4zM380.8 337.1l1.7 3.1h-3.4zM381.4 340.7l1.7 3.1h-3.4zM382 336.7l1.7 3.1h-3.4zM382.7 330.1l1.7 3.1h-3.4zM383.3 327.6l1.7 3.1h-3.4zM383.9 323.8l1.7 3.1h-3.4zM384.6 326.8l1.7 3.1h-3.4zM385.2 328l1.7 3.1h-3.4zM385.8 326.6l1.7 3.1h-3.4zM386.5 325.9l1.7 3.1h-3.4zM387.1 341l1.7 3.1h-3.4zM387.7 353.4l1.7 3.1h-3.4zM388.4 342.2l1.7 3.1h-3.4zM389 328l1.7 3.1h-3.4zM389.6 337.1l1.7 3.1h-3.4zM390.3 325.9l1.7 3.1h-3.4zM390.9 328.2l1.7 3.1h-3.4zM391.5 330.1l1.7 3.1h-3.4zM392.2 328.4l1.7 3.1h-3.4zM392.8 328l1.7 3.1h-3.4zM393.4 342.9l1.7 3.1h-3.4zM394.1 357.6l1.7 3.1h-3.4zM394.7 343.4l1.7 3.1h-3.4zM395.3 332.3l1.7 3.1h-3.4zM396 333.1l1.7 3.1h-3.4zM396.6 328l1.7 3.1h-3.4zM397.2 337.4l1.7 3.1h-3.4zM397.9 332.3l1.7 3.1h-3.4zM398.5 335.9l1.7 3.1h-3.4zM399.1 336.5l1.7 3.1h-3.4zM399.8 339.5l1.7 3.1h-3.4zM400.4 340.7l1.7 3.1h-3.4zM401.2 345.5l1.7 3.1h-3.4zM402.1 338.6l1.7 3.1h-3.4zM402.9 337.9l1.7 3.1h-3.4zM403.8 334.4l1.7 3.1h-3.4zM404.6 334.4l1.7 3.1h-3.4zM405.5 336.5l1.7 3.1h-3.4zM406.3 344.6l1.7 3.1h-3.4zM407.1 338.6l1.7 3.1h-3.4zM407.8 340.6l1.7 3.1h-3.4zM408.4 336.5l1.7 3.1h-3.4zM409.5 344.9l1.7 3.1h-3.4z" fill="#1f6be0"/><path d="M242.2 329.9 243 327.8 243.6 327 244.2 325.7 244.9 323.4 245.5 322.5 246.1 322.8 246.8 323.6 247.4 327.9 248 332 248.7 334.3 249.3 336.2 249.9 339.9 250.6 342.6 251.2 345.1 251.8 346.8 252.5 346.6 253.1 347.8 253.7 345.7 254.4 344.7 255 340.8 255.6 338.3 256.5 363.7 257.3 338.3 257.9 335.1 258.6 332 259.2 329.6 259.8 327.8 260.5 329.4 261.1 329.9 261.9 370 262.8 338.3 263.4 336.5 264.1 334.1 264.7 333.9 265.3 327.8 266 326.5 266.6 325.7 267.2 324.8 267.9 324.6 268.5 323.6 269.1 323.6 269.8 331.7 270.4 338.3 271 333.8 271.7 329.9 272.3 325.4 272.9 320.4 273.6 319.4 274.2 319.3 274.8 320.1 275.5 321.5 276.1 323.9 276.7 325.7 277.4 329.1 278 332 278.6 335 279.3 338.3 279.9 348.9 280.5 359.5 281.2 354.2 281.8 348.9 282.6 357.4 283.3 356.5 283.9 355.2 284.5 350.7 285.2 344.7 286 359.5 286.8 351 287.5 346.5 288.1 342.6 288.7 338.5 289.4 334.1 290 334.7 290.6 336.2 291.3 332 291.9 327.8 292.5 333.2 293.2 338.3 293.8 334.7 294.4 332 295.3 365.8 296.1 359.5 297 336.2 297.8 323.6 298.5 319.7 299.1 317.2 299.7 313.3 300.4 310.9 301 308.7 301.6 306.7 302.5 306.3 303.3 305.6 303.9 306.6 304.6 306.7 305.4 306 306.3 306.7 307.1 307.2 308 308.8 308.6 314.7 309.2 315.1 309.9 317 310.5 319.3 311.3 323.6 312.2 336.2 313 348.9 313.9 329.9 314.5 320.6 315.1 312.7 315.8 304.8 316.4 296.5 317.2 291.9 318.1 288.7 318.8 286.6 319.5 284.6 320.2 283.4 321 282.5 321.9 280.5 322.7 279.9 323.5 279.3 324.3 279.2 325.1 278.6 325.9 278.4 326.7 278.4 327.6 278.7 328.4 278.8 329.3 279.9 330.1 281.2 330.9 282.3 331.6 282.8 332.4 284.5 333.1 286.7 333.8 288.5 334.6 290 335.4 293.5 336.2 298.6 336.9 303.3 337.5 308.8 338.1 312.9 338.8 316.2 339.6 325.7 340.5 336.2 341.1 332.7 341.7 327.8 342.4 322.3 343 317.2 343.6 315.5 344.3 313 344.9 312.7 345.5 310.9 346.4 312 347.2 312 348.1 309.5 348.9 306.7 349.5 308.4 350.2 308.8 350.8 312.6 351.4 315.1 352.1 317.8 352.7 319.3 353.3 323.2 354 325.7 354.6 325.5 355.2 325.7 355.9 327.2 356.5 329.9 357.1 330.3 357.8 332 358.4 329.5 359 327.8 359.7 326.9 360.3 325.7 360.9 340.4 361.6 355.2 362.4 332 363.3 322.5 363.9 327 364.5 329.9 365.2 333.9 365.8 338.3 366.4 341 367.1 344.7 367.9 374.2 368.7 344.7 369.6 338.3 370.2 342.1 370.8 346.8 371.5 344.4 372.1 342.6 372.7 339.7 373.4 338.3 374 335.9 374.6 334.1 375.3 332.2 375.9 329.9 376.5 329.2 377.2 327.8 377.8 326.7 378.4 325.7 379.1 329.4 379.7 332 380.3 327.7 381 323.6 381.6 324.5 382.2 325.7 382.9 327.1 383.5 327.8 384.1 322.8 384.8 317.2 385.4 323 386 327.8 386.7 326.3 387.3 325.7 387.9 325.7 388.6 323.6 389.2 325.7 389.8 328.8 390.5 326.3 391.1 323.6 391.7 319.6 392.4 314.1 393 317.9 393.6 319.3 394.3 318.8 394.9 317.2 395.5 319.4 396.2 321.5 396.8 317 397.4 313 398.1 317.3 398.7 319.3 399.3 320.7 400 323.6 400.6 319.7 401.2 317.2 401.9 318.7 402.5 321.5 403.3 319.9 404.2 317.2 404.8 318.7 405.5 321.5 406.1 323.9 406.7 325.7 407.6 327.9 408.4 329.9 409.5 332" fill="none" stroke="#ff2222" stroke-width="0.65"/><path d="M242.2 329.9h0M243 327.8h0M243.6 327h0M244.2 325.7h0M244.9 323.4h0M245.5 322.5h0M246.1 322.8h0M246.8 323.6h0M247.4 327.9h0M248 332h0M248.7 334.3h0M249.3 336.2h0M249.9 339.9h0M250.6 342.6h0M251.2 345.1h0M251.8 346.8h0M252.5 346.6h0M253.1 347.8h0M253.7 345.7h0M254.4 344.7h0M255 340.8h0M255.6 338.3h0M256.5 363.7h0M257.3 338.3h0M257.9 335.1h0M258.6 332h0M259.2 329.6h0M259.8 327.8h0M260.5 329.4h0M261.1 329.9h0M261.9 370h0M262.8 338.3h0M263.4 336.5h0M264.1 334.1h0M264.7 333.9h0M265.3 327.8h0M266 326.5h0M266.6 325.7h0M267.2 324.8h0M267.9 324.6h0M268.5 323.6h0M269.1 323.6h0M269.8 331.7h0M270.4 338.3h0M271 333.8h0M271.7 329.9h0M272.3 325.4h0M272.9 320.4h0M273.6 319.4h0M274.2 319.3h0M274.8 320.1h0M275.5 321.5h0M276.1 323.9h0M276.7 325.7h0M277.4 329.1h0M278 332h0M278.6 335h0M279.3 338.3h0M279.9 348.9h0M280.5 359.5h0M281.2 354.2h0M281.8 348.9h0M282.6 357.4h0M283.3 356.5h0M283.9 355.2h0M284.5 350.7h0M285.2 344.7h0M286 359.5h0M286.8 351h0M287.5 346.5h0M288.1 342.6h0M288.7 338.5h0M289.4 334.1h0M290 334.7h0M290.6 336.2h0M291.3 332h0M291.9 327.8h0M292.5 333.2h0M293.2 338.3h0M293.8 334.7h0M294.4 332h0M295.3 365.8h0M296.1 359.5h0M297 336.2h0M297.8 323.6h0M298.5 319.7h0M299.1 317.2h0M299.7 313.3h0M300.4 310.9h0M301 308.7h0M301.6 306.7h0M302.5 306.3h0M303.3 305.6h0M303.9 306.6h0M304.6 306.7h0M305.4 306h0M306.3 306.7h0M307.1 307.2h0M308 308.8h0M308.6 314.7h0M309.2 315.1h0M309.9 317h0M310.5 319.3h0M311.3 323.6h0M312.2 336.2h0M313 348.9h0M313.9 329.9h0M314.5 320.6h0M315.1 312.7h0M315.8 304.8h0M316.4 296.5h0M317.2 291.9h0M318.1 288.7h0M318.8 286.6h0M319.5 284.6h0M320.2 283.4h0M321 282.5h0M321.9 280.5h0M322.7 279.9h0M323.5 279.3h0M324.3 279.2h0M325.1 278.6h0M325.9 278.4h0M326.7 278.4h0M327.6 278.7h0M328.4 278.8h0M329.3 279.9h0M330.1 281.2h0M330.9 282.3h0M331.6 282.8h0M332.4 284.5h0M333.1 286.7h0M333.8 288.5h0M334.6 290h0M335.4 293.5h0M336.2 298.6h0M336.9 303.3h0M337.5 308.8h0M338.1 312.9h0M338.8 316.2h0M339.6 325.7h0M340.5 336.2h0M341.1 332.7h0M341.7 327.8h0M342.4 322.3h0M343 317.2h0M343.6 315.5h0M344.3 313h0M344.9 312.7h0M345.5 310.9h0M346.4 312h0M347.2 312h0M348.1 309.5h0M348.9 306.7h0M349.5 308.4h0M350.2 308.8h0M350.8 312.6h0M351.4 315.1h0M352.1 317.8h0M352.7 319.3h0M353.3 323.2h0M354 325.7h0M354.6 325.5h0M355.2 325.7h0M355.9 327.2h0M356.5 329.9h0M357.1 330.3h0M357.8 332h0M358.4 329.5h0M359 327.8h0M359.7 326.9h0M360.3 325.7h0M360.9 340.4h0M361.6 355.2h0M362.4 332h0M363.3 322.5h0M363.9 327h0M364.5 329.9h0M365.2 333.9h0M365.8 338.3h0M366.4 341h0M367.1 344.7h0M367.9 374.2h0M368.7 344.7h0M369.6 338.3h0M370.2 342.1h0M370.8 346.8h0M371.5 344.4h0M372.1 342.6h0M372.7 339.7h0M373.4 338.3h0M374 335.9h0M374.6 334.1h0M375.3 332.2h0M375.9 329.9h0M376.5 329.2h0M377.2 327.8h0M377.8 326.7h0M378.4 325.7h0M379.1 329.4h0M379.7 332h0M380.3 327.7h0M381 323.6h0M381.6 324.5h0M382.2 325.7h0M382.9 327.1h0M383.5 327.8h0M384.1 322.8h0M384.8 317.2h0M385.4 323h0M386 327.8h0M386.7 326.3h0M387.3 325.7h0M387.9 325.7h0M388.6 323.6h0M389.2 325.7h0M389.8 328.8h0M390.5 326.3h0M391.1 323.6h0M391.7 319.6h0M392.4 314.1h0M393 317.9h0M393.6 319.3h0M394.3 318.8h0M394.9 317.2h0M395.5 319.4h0M396.2 321.5h0M396.8 317h0M397.4 313h0M398.1 317.3h0M398.7 319.3h0M399.3 320.7h0M400 323.6h0M400.6 319.7h0M401.2 317.2h0M401.9 318.7h0M402.5 321.5h0M403.3 319.9h0M404.2 317.2h0M404.8 318.7h0M405.5 321.5h0M406.1 323.9h0M406.7 325.7h0M407.6 327.9h0M408.4 329.9h0M409.5 332h0" fill="none" stroke="#ff2222" stroke-width="2.7" stroke-linecap="round"/></g><rect x="242.2" y="278.4" width="167.3" height="100.1" fill="none" stroke="#5a5a5a" stroke-width="0.9"/><path d="M256.14 378.5v-1.3M270.08 378.5v-2.2M284.02 378.5v-1.3M297.97 378.5v-2.2M311.91 378.5v-1.3M325.85 378.5v-2.2M339.79 378.5v-1.3M353.73 378.5v-2.2M367.68 378.5v-1.3M381.62 378.5v-2.2M395.56 378.5v-1.3M242.2 365.99h1.3M242.2 353.48h2.2M242.2 340.96h1.3M242.2 328.45h2.2M242.2 315.94h1.3M242.2 303.42h2.2M242.2 290.91h1.3" stroke="#5a5a5a" stroke-width="0.8" fill="none"/><text x="240.32" y="387.9" font-size="7.5" fill="#1c1c1c" stroke="#1c1c1c" stroke-width="0.1">90</text><text x="268.21" y="387.9" font-size="7.5" fill="#1c1c1c" stroke="#1c1c1c" stroke-width="0.1">60</text><text x="296.09" y="387.9" font-size="7.5" fill="#1c1c1c" stroke="#1c1c1c" stroke-width="0.1">30</text><text x="323.98" y="387.9" font-size="7.5" fill="#1c1c1c" stroke="#1c1c1c" stroke-width="0.1">0</text><text x="349.98" y="387.9" font-size="7.5" fill="#1c1c1c" stroke="#1c1c1c" stroke-width="0.1">30</text><text x="377.87" y="387.9" font-size="7.5" fill="#1c1c1c" stroke="#1c1c1c" stroke-width="0.1">60</text><text x="405.75" y="387.9" font-size="7.5" fill="#1c1c1c" stroke="#1c1c1c" stroke-width="0.1">90</text><text x="239.9" y="281.7" font-size="7.5" text-anchor="end" fill="#1c1c1c" stroke="#1c1c1c" stroke-width="0.1">0</text><text x="239.9" y="306.72" font-size="7.5" text-anchor="end" fill="#1c1c1c" stroke="#1c1c1c" stroke-width="0.1">10</text><text x="239.9" y="331.75" font-size="7.5" text-anchor="end" fill="#1c1c1c" stroke="#1c1c1c" stroke-width="0.1">20</text><text x="239.9" y="356.78" font-size="7.5" text-anchor="end" fill="#1c1c1c" stroke="#1c1c1c" stroke-width="0.1">30</text><text x="239.9" y="381.8" font-size="7.5" text-anchor="end" fill="#1c1c1c" stroke="#1c1c1c" stroke-width="0.1">40</text><path d="M236.57 385.35h3.5M264.46 385.35h3.5M292.34 385.35h3.5M228.65 304.17h3.5M228.65 329.2h3.5M228.65 354.23h3.5M228.65 379.25h3.5" stroke="#1c1c1c" stroke-width="0.6"/><text x="311.45" y="396.8" font-size="7.6" textLength="28.8" lengthAdjust="spacingAndGlyphs" fill="#1c1c1c" stroke="#1c1c1c" stroke-width="0.1">Theta/deg</text><text x="203.45" y="330.95" font-size="7.5" textLength="38.5" lengthAdjust="spacingAndGlyphs" fill="#1c1c1c" stroke="#1c1c1c" stroke-width="0.1" transform="rotate(-90 222.7 328.45)">Magnitude/dB</text><text x="243.7" y="285.4" font-size="7.35" fill="#1c1c1c" stroke="#1c1c1c" stroke-width="0.1">H-plane</text></g>
<g><path d="M38.95 415V515.5M52.9 415V515.5M66.85 415V515.5M80.8 415V515.5M94.75 415V515.5M108.7 415V515.5M122.65 415V515.5M136.6 415V515.5M150.55 415V515.5M164.5 415V515.5M178.45 415V515.5M25 502.94H192.4M25 490.38H192.4M25 477.81H192.4M25 465.25H192.4M25 452.69H192.4M25 440.12H192.4M25 427.56H192.4" stroke="#eeeeee" stroke-width="0.6" fill="none"/><rect x="137.2" y="415.5" width="54.7" height="27.1" fill="#fff"/><path d="M139.2 419.4h10.3" stroke="#333" stroke-width="0.8"/><circle cx="144.35" cy="419.4" r="1.3" fill="#333"/><text x="153" y="421.9" font-size="7.4" textLength="38.03" lengthAdjust="spacingAndGlyphs" fill="#1c1c1c" stroke="#1c1c1c" stroke-width="0.1">Simu.Co-pol</text><path d="M139.2 428.3h10.3" stroke="#f22" stroke-width="0.8"/><circle cx="144.35" cy="428.3" r="1.3" fill="#f22"/><text x="153" y="430.8" font-size="7.4" textLength="38.43" lengthAdjust="spacingAndGlyphs" fill="#1c1c1c" stroke="#1c1c1c" stroke-width="0.1">Meas.Co-pol</text><path d="M139.2 437.6h10.3" stroke="#1f6be0" stroke-width="0.8"/><path d="M144.35 436.1l1.5 2.5h-3z" fill="#1f6be0"/><text x="153" y="440.1" font-size="7.4" textLength="37.05" lengthAdjust="spacingAndGlyphs" fill="#1c1c1c" stroke="#1c1c1c" stroke-width="0.1">Meas.Cr-pol</text><clipPath id="ceE"><rect x="23.5" y="413.5" width="170.4" height="103.5"/></clipPath><g clip-path="url(#ceE)"><path d="M25 426.4 25.9 426.4 26.9 426.5 27.8 426.5 28.7 426.6 29.6 426.6 30.6 426.7 31.5 426.8 32.4 426.9 33.4 427 34.3 427.1 35.2 427.2 36.2 427.4 37.1 427.6 38 427.9 38.9 428.3 39.9 428.8 40.8 429.4 41.7 430 42.7 430.7 43.6 431.5 44.5 432.3 45.5 433.2 46.4 434.2 47.3 435.3 48.2 436.4 49.2 437.6 50.1 438.9 51 440.5 52 442.3 52.9 444.2 53.8 446.3 54.8 448.7 55.7 451.2 56.6 453.8 57.5 456.6 58.5 459.6 59.4 461.8 60.3 462 61.3 459.5 62.2 454.7 63.1 449.9 64.1 445.6 65 442.2 65.9 439.9 66.9 438.3 67.8 437 68.7 436 69.6 435.4 70.6 435.1 71.5 435.2 72.4 435.7 73.4 436.4 74.3 437.7 75.2 439.6 76.2 442.3 77.1 445.5 78 449 78.9 452.9 79.9 456.3 80.8 457.4 81.7 455 82.7 451.5 83.6 447.6 84.5 444 85.5 441.5 86.4 439.8 87.3 439.3 88.2 439.9 89.2 440.9 90.1 442.3 91 443.8 92 445.1 92.9 446.3 93.8 447 94.8 445.8 95.7 442.6 96.6 438.7 97.5 434.5 98.5 431 99.4 428.1 100.3 425.2 101.3 422.7 102.2 420.7 103.1 419.1 104.1 417.8 105 416.8 105.9 416 106.8 415.4 107.8 415.1 108.7 415 109.6 415.1 110.6 415.5 111.5 416 112.4 416.9 113.4 418 114.3 419.4 115.2 421.2 116.1 423.3 117.1 426 118 429.7 118.9 435.6 119.9 441.8 120.8 446.3 121.7 449.8 122.7 452.7 123.6 454.8 124.5 456.1 125.4 456.3 126.4 454.8 127.3 452.6 128.2 450.8 129.2 449.2 130.1 448.1 131 447.5 132 447.3 132.9 447.3 133.8 447.6 134.7 448.3 135.7 449.2 136.6 450 137.5 450.8 138.5 451.6 139.4 452.1 140.3 452 141.3 451.4 142.2 450.6 143.1 449.9 144 449.1 145 448.3 145.9 447.9 146.8 448.2 147.8 449.1 148.7 450.3 149.6 451.6 150.6 453.5 151.5 455.5 152.4 456.9 153.3 457.6 154.3 457.2 155.2 455.3 156.1 452.4 157.1 448.7 158 444.5 158.9 441 159.9 438.2 160.8 435.7 161.7 433.6 162.6 431.8 163.6 430.4 164.5 429.4 165.4 428.6 166.4 428.1 167.3 427.7 168.2 427.4 169.2 427.2 170.1 427.2 171 427.2 171.9 427.4 172.9 427.6 173.8 427.9 174.7 428.3 175.7 428.7 176.6 429.3 177.5 429.8 178.5 430.4 179.4 431 180.3 431.7 181.2 432.5 182.2 433.3 183.1 434.2 184 435.1 185 436.1 185.9 437 186.8 438 187.8 438.9 188.7 439.8 189.6 440.8 190.5 441.7 191.5 442.5 192.4 443.3" fill="none" stroke="#3a3a3a" stroke-width="0.9"/><path d="M25 426.4h0M25.9 426.4h0M26.9 426.5h0M27.8 426.5h0M28.7 426.6h0M29.6 426.6h0M30.6 426.7h0M31.5 426.8h0M32.4 426.9h0M33.4 427h0M34.3 427.1h0M35.2 427.2h0M36.2 427.4h0M37.1 427.6h0M38 427.9h0M38.9 428.3h0M39.9 428.8h0M40.8 429.4h0M41.7 430h0M42.7 430.7h0M43.6 431.5h0M44.5 432.3h0M45.5 433.2h0M46.4 434.2h0M47.3 435.3h0M48.2 436.4h0M49.2 437.6h0M50.1 438.9h0M51 440.5h0M52 442.3h0M52.9 444.2h0M53.8 446.3h0M54.8 448.7h0M55.7 451.2h0M56.6 453.8h0M57.5 456.6h0M58.5 459.6h0M59.4 461.8h0M60.3 462h0M61.3 459.5h0M62.2 454.7h0M63.1 449.9h0M64.1 445.6h0M65 442.2h0M65.9 439.9h0M66.9 438.3h0M67.8 437h0M68.7 436h0M69.6 435.4h0M70.6 435.1h0M71.5 435.2h0M72.4 435.7h0M73.4 436.4h0M74.3 437.7h0M75.2 439.6h0M76.2 442.3h0M77.1 445.5h0M78 449h0M78.9 452.9h0M79.9 456.3h0M80.8 457.4h0M81.7 455h0M82.7 451.5h0M83.6 447.6h0M84.5 444h0M85.5 441.5h0M86.4 439.8h0M87.3 439.3h0M88.2 439.9h0M89.2 440.9h0M90.1 442.3h0M91 443.8h0M92 445.1h0M92.9 446.3h0M93.8 447h0M94.8 445.8h0M95.7 442.6h0M96.6 438.7h0M97.5 434.5h0M98.5 431h0M99.4 428.1h0M100.3 425.2h0M101.3 422.7h0M102.2 420.7h0M103.1 419.1h0M104.1 417.8h0M105 416.8h0M105.9 416h0M106.8 415.4h0M107.8 415.1h0M108.7 415h0M109.6 415.1h0M110.6 415.5h0M111.5 416h0M112.4 416.9h0M113.4 418h0M114.3 419.4h0M115.2 421.2h0M116.1 423.3h0M117.1 426h0M118 429.7h0M118.9 435.6h0M119.9 441.8h0M120.8 446.3h0M121.7 449.8h0M122.7 452.7h0M123.6 454.8h0M124.5 456.1h0M125.4 456.3h0M126.4 454.8h0M127.3 452.6h0M128.2 450.8h0M129.2 449.2h0M130.1 448.1h0M131 447.5h0M132 447.3h0M132.9 447.3h0M133.8 447.6h0M134.7 448.3h0M135.7 449.2h0M136.6 450h0M137.5 450.8h0M138.5 451.6h0M139.4 452.1h0M140.3 452h0M141.3 451.4h0M142.2 450.6h0M143.1 449.9h0M144 449.1h0M145 448.3h0M145.9 447.9h0M146.8 448.2h0M147.8 449.1h0M148.7 450.3h0M149.6 451.6h0M150.6 453.5h0M151.5 455.5h0M152.4 456.9h0M153.3 457.6h0M154.3 457.2h0M155.2 455.3h0M156.1 452.4h0M157.1 448.7h0M158 444.5h0M158.9 441h0M159.9 438.2h0M160.8 435.7h0M161.7 433.6h0M162.6 431.8h0M163.6 430.4h0M164.5 429.4h0M165.4 428.6h0M166.4 428.1h0M167.3 427.7h0M168.2 427.4h0M169.2 427.2h0M170.1 427.2h0M171 427.2h0M171.9 427.4h0M172.9 427.6h0M173.8 427.9h0M174.7 428.3h0M175.7 428.7h0M176.6 429.3h0M177.5 429.8h0M178.5 430.4h0M179.4 431h0M180.3 431.7h0M181.2 432.5h0M182.2 433.3h0M183.1 434.2h0M184 435.1h0M185 436.1h0M185.9 437h0M186.8 438h0M187.8 438.9h0M188.7 439.8h0M189.6 440.8h0M190.5 441.7h0M191.5 442.5h0M192.4 443.3h0" fill="none" stroke="#3a3a3a" stroke-width="2.5" stroke-linecap="round"/><path d="M25.1 477.5 26 469 26.6 472.4 27.2 473.2 27.9 481.4 28.5 469 29.3 475.3 30 481.1 30.6 485.9 31.4 495.4 32.3 475.3 32.9 469.4 33.6 466.9 34.2 460.8 34.8 456.3 35.5 455.3 36.1 454.2 36.7 457.7 37.4 451.1 38 452.8 38.6 453.2 39.2 457.7 39.9 450 40.5 449 41.1 447.9 41.8 447 42.4 446.8 43 448.9 43.7 451.1 44.3 448.4 44.9 445.8 45.6 450.9 46.2 443.7 46.8 441.1 47.5 441.6 48.1 447.1 48.7 445.8 49.4 445.1 50 443.7 50.6 447 51.3 442.6 51.9 445.2 52.5 444.7 53.2 445.6 53.8 443.7 54.4 453.7 55.1 446.8 55.7 457.8 56.3 452.1 57 453.2 57.6 456.3 58.2 469.1 58.9 460.6 59.5 467 60.1 457.4 60.8 461.6 61.4 454.2 62 455.7 62.7 457.4 63.3 457.4 63.9 454.2 64.6 454.1 65.2 453.2 65.8 454 66.5 456.3 67.1 453.2 67.7 452.1 68.4 451.1 69 453.2 69.6 452.2 70.3 447.9 70.9 448.3 71.5 450 72.2 450.9 72.8 449 73.4 449.9 74.1 454.2 74.7 451.9 75.3 452.1 76 456.4 76.6 457.4 77.2 454.9 77.9 454.2 78.5 463.9 79.1 458.5 79.8 460.4 80.4 460.6 81 457.1 81.7 454.2 82.3 456.1 82.9 456.3 83.6 454.7 84.2 452.1 84.8 455.4 85.5 456.3 86.1 457.4 86.7 457.4 87.4 468.2 88 458.5 88.6 469.7 89.3 464.8 89.9 467.3 90.5 469 91.2 472.1 91.8 473.2 92.4 471.4 93.1 466.9 93.9 498.6 94.8 475.3 95.4 471.8 96 469 96.6 466.4 97.3 464.8 97.9 463.3 98.5 462.7 99.2 462.7 99.8 463.7 100.4 463.4 101.1 460.6 101.7 462.3 102.3 462.7 103 464.4 103.6 466.9 104.2 464.9 104.9 464.8 105.5 462.3 106.1 462.7 106.8 463.1 107.4 460.6 108 460.1 108.7 457.4 108.7 459.5 109.5 458.4 110.2 456.3 110.9 467.4 111.5 464.8 112.1 459.6 112.8 456.3 113.4 464.3 114 473.2 114.7 477.9 115.3 475.3 116.1 492.2 116.8 494.6 117.4 498.6 118.2 492.2 119.1 477.5 119.7 472.6 120.4 471.1 121 466.9 121.6 460.6 122.2 461.4 122.9 462.7 123.5 461.6 124.1 458.5 124.8 458.8 125.4 462.7 126 469.4 126.7 475.3 127.3 475.8 127.9 479.6 128.6 481.2 129.2 483.8 129.8 485.4 130.5 488 131.1 495.7 131.7 500.7 132.6 511.2 133.4 492.2 134.3 473.2 134.9 470.8 135.5 471.1 136.2 467.5 136.8 466.9 137.4 465.2 138.1 457.4 138.7 458.8 139.3 462.7 140 466.1 140.6 469 141.2 472.8 141.9 473.2 142.5 470.6 143.1 466.9 143.8 475.3 144.4 481.7 145 478.3 145.7 477.5 146.3 479.3 146.9 481.7 147.6 487.7 148.2 492.2 148.8 495.7 149.5 498.6 150.1 492.9 150.7 481.7 151.4 487.4 152 475.3 152.6 469.4 153.3 464.8 153.9 463.6 154.5 462.7 155.2 460.8 155.8 460.6 156.4 461 157.1 462.7 157.7 470.9 158.3 464.8 159 461.2 159.6 460.6 160.2 468.5 160.9 462.7 161.5 461.9 162.1 460.6 162.8 462.4 163.4 464.8 164 462.7 164.7 462.7 165.3 458.6 165.9 456.3 166.6 458.2 167.2 458.5 167.8 459.6 168.5 460.6 169.1 455.6 169.7 454.2 170.4 457 171 457.4 171.6 455.6 172.3 456.3 172.9 468.5 173.5 460.6 174.2 460.7 174.8 458.5 175.4 462.4 176.1 464.8 176.7 461.7 177.3 460.6 178 464.2 178.6 464.8 179.2 462.4 179.9 462.7 180.5 460.7 181.1 460.6 181.8 464.5 182.4 466.9 183 467.7 183.7 469 184.3 471 184.9 473.2 185.6 472 186.2 471.1 186.8 474 187.5 475.3 188.1 470.8 188.7 464.8 189.4 466.5 190 469 190.6 477.3 191.3 479.6 192.3 483.8" fill="none" stroke="#1f6be0" stroke-width="0.65"/><path d="M25.1 475.6l1.7 3.1h-3.4zM26 467.1l1.7 3.1h-3.4zM26.6 470.6l1.7 3.1h-3.4zM27.2 471.4l1.7 3.1h-3.4zM27.9 479.5l1.7 3.1h-3.4zM28.5 467.1l1.7 3.1h-3.4zM29.3 473.5l1.7 3.1h-3.4zM30 479.2l1.7 3.1h-3.4zM30.6 484l1.7 3.1h-3.4zM31.4 493.5l1.7 3.1h-3.4zM32.3 473.5l1.7 3.1h-3.4zM32.9 467.5l1.7 3.1h-3.4zM33.6 465l1.7 3.1h-3.4zM34.2 458.9l1.7 3.1h-3.4zM34.8 454.5l1.7 3.1h-3.4zM35.5 453.5l1.7 3.1h-3.4zM36.1 452.4l1.7 3.1h-3.4zM36.7 455.9l1.7 3.1h-3.4zM37.4 449.2l1.7 3.1h-3.4zM38 450.9l1.7 3.1h-3.4zM38.6 451.3l1.7 3.1h-3.4zM39.2 455.8l1.7 3.1h-3.4zM39.9 448.1l1.7 3.1h-3.4zM40.5 447.1l1.7 3.1h-3.4zM41.1 446l1.7 3.1h-3.4zM41.8 445.1l1.7 3.1h-3.4zM42.4 445l1.7 3.1h-3.4zM43 447l1.7 3.1h-3.4zM43.7 449.2l1.7 3.1h-3.4zM44.3 446.5l1.7 3.1h-3.4zM44.9 443.9l1.7 3.1h-3.4zM45.6 449.1l1.7 3.1h-3.4zM46.2 441.8l1.7 3.1h-3.4zM46.8 439.2l1.7 3.1h-3.4zM47.5 439.7l1.7 3.1h-3.4zM48.1 445.2l1.7 3.1h-3.4zM48.7 443.9l1.7 3.1h-3.4zM49.4 443.2l1.7 3.1h-3.4zM50 441.8l1.7 3.1h-3.4zM50.6 445.1l1.7 3.1h-3.4zM51.3 440.7l1.7 3.1h-3.4zM51.9 443.3l1.7 3.1h-3.4zM52.5 442.9l1.7 3.1h-3.4zM53.2 443.7l1.7 3.1h-3.4zM53.8 441.8l1.7 3.1h-3.4zM54.4 451.9l1.7 3.1h-3.4zM55.1 445l1.7 3.1h-3.4zM55.7 455.9l1.7 3.1h-3.4zM56.3 450.2l1.7 3.1h-3.4zM57 451.3l1.7 3.1h-3.4zM57.6 454.5l1.7 3.1h-3.4zM58.2 467.3l1.7 3.1h-3.4zM58.9 458.7l1.7 3.1h-3.4zM59.5 465.1l1.7 3.1h-3.4zM60.1 455.5l1.7 3.1h-3.4zM60.8 459.7l1.7 3.1h-3.4zM61.4 452.4l1.7 3.1h-3.4zM62 453.8l1.7 3.1h-3.4zM62.7 455.5l1.7 3.1h-3.4zM63.3 455.5l1.7 3.1h-3.4zM63.9 452.4l1.7 3.1h-3.4zM64.6 452.2l1.7 3.1h-3.4zM65.2 451.3l1.7 3.1h-3.4zM65.8 452.2l1.7 3.1h-3.4zM66.5 454.5l1.7 3.1h-3.4zM67.1 451.3l1.7 3.1h-3.4zM67.7 450.2l1.7 3.1h-3.4zM68.4 449.2l1.7 3.1h-3.4zM69 451.3l1.7 3.1h-3.4zM69.6 450.3l1.7 3.1h-3.4zM70.3 446l1.7 3.1h-3.4zM70.9 446.4l1.7 3.1h-3.4zM71.5 448.1l1.7 3.1h-3.4zM72.2 449.1l1.7 3.1h-3.4zM72.8 447.1l1.7 3.1h-3.4zM73.4 448.1l1.7 3.1h-3.4zM74.1 452.4l1.7 3.1h-3.4zM74.7 450l1.7 3.1h-3.4zM75.3 450.2l1.7 3.1h-3.4zM76 454.5l1.7 3.1h-3.4zM76.6 455.5l1.7 3.1h-3.4zM77.2 453l1.7 3.1h-3.4zM77.9 452.4l1.7 3.1h-3.4zM78.5 462l1.7 3.1h-3.4zM79.1 456.6l1.7 3.1h-3.4zM79.8 458.6l1.7 3.1h-3.4zM80.4 458.7l1.7 3.1h-3.4zM81 455.2l1.7 3.1h-3.4zM81.7 452.4l1.7 3.1h-3.4zM82.3 454.2l1.7 3.1h-3.4zM82.9 454.5l1.7 3.1h-3.4zM83.6 452.9l1.7 3.1h-3.4zM84.2 450.2l1.7 3.1h-3.4zM84.8 453.5l1.7 3.1h-3.4zM85.5 454.5l1.7 3.1h-3.4zM86.1 455.5l1.7 3.1h-3.4zM86.7 455.5l1.7 3.1h-3.4zM87.4 466.3l1.7 3.1h-3.4zM88 456.6l1.7 3.1h-3.4zM88.6 467.9l1.7 3.1h-3.4zM89.3 462.9l1.7 3.1h-3.4zM89.9 465.4l1.7 3.1h-3.4zM90.5 467.1l1.7 3.1h-3.4zM91.2 470.2l1.7 3.1h-3.4zM91.8 471.4l1.7 3.1h-3.4zM92.4 469.6l1.7 3.1h-3.4zM93.1 465l1.7 3.1h-3.4zM93.9 496.7l1.7 3.1h-3.4zM94.8 473.5l1.7 3.1h-3.4zM95.4 470l1.7 3.1h-3.4zM96 467.1l1.7 3.1h-3.4zM96.6 464.6l1.7 3.1h-3.4zM97.3 462.9l1.7 3.1h-3.4zM97.9 461.4l1.7 3.1h-3.4zM98.5 460.8l1.7 3.1h-3.4zM99.2 460.8l1.7 3.1h-3.4zM99.8 461.9l1.7 3.1h-3.4zM100.4 461.5l1.7 3.1h-3.4zM101.1 458.7l1.7 3.1h-3.4zM101.7 460.4l1.7 3.1h-3.4zM102.3 460.8l1.7 3.1h-3.4zM103 462.5l1.7 3.1h-3.4zM103.6 465l1.7 3.1h-3.4zM104.2 463.1l1.7 3.1h-3.4zM104.9 462.9l1.7 3.1h-3.4zM105.5 460.4l1.7 3.1h-3.4zM106.1 460.8l1.7 3.1h-3.4zM106.8 461.3l1.7 3.1h-3.4zM107.4 458.7l1.7 3.1h-3.4zM108 458.2l1.7 3.1h-3.4zM108.7 455.5l1.7 3.1h-3.4zM108.7 457.6l1.7 3.1h-3.4zM109.5 456.6l1.7 3.1h-3.4zM110.2 454.5l1.7 3.1h-3.4zM110.9 465.5l1.7 3.1h-3.4zM111.5 462.9l1.7 3.1h-3.4zM112.1 457.7l1.7 3.1h-3.4zM112.8 454.5l1.7 3.1h-3.4zM113.4 462.4l1.7 3.1h-3.4zM114 471.4l1.7 3.1h-3.4zM114.7 476l1.7 3.1h-3.4zM115.3 473.5l1.7 3.1h-3.4zM116.1 490.4l1.7 3.1h-3.4zM116.8 492.7l1.7 3.1h-3.4zM117.4 496.7l1.7 3.1h-3.4zM118.2 490.4l1.7 3.1h-3.4zM119.1 475.6l1.7 3.1h-3.4zM119.7 470.7l1.7 3.1h-3.4zM120.4 469.3l1.7 3.1h-3.4zM121 465.1l1.7 3.1h-3.4zM121.6 458.7l1.7 3.1h-3.4zM122.2 459.5l1.7 3.1h-3.4zM122.9 460.8l1.7 3.1h-3.4zM123.5 459.7l1.7 3.1h-3.4zM124.1 456.6l1.7 3.1h-3.4zM124.8 457l1.7 3.1h-3.4zM125.4 460.8l1.7 3.1h-3.4zM126 467.5l1.7 3.1h-3.4zM126.7 473.5l1.7 3.1h-3.4zM127.3 473.9l1.7 3.1h-3.4zM127.9 477.7l1.7 3.1h-3.4zM128.6 479.3l1.7 3.1h-3.4zM129.2 481.9l1.7 3.1h-3.4zM129.8 483.5l1.7 3.1h-3.4zM130.5 486.1l1.7 3.1h-3.4zM131.1 493.8l1.7 3.1h-3.4zM131.7 498.8l1.7 3.1h-3.4zM132.6 509.4l1.7 3.1h-3.4zM133.4 490.4l1.7 3.1h-3.4zM134.3 471.4l1.7 3.1h-3.4zM134.9 469l1.7 3.1h-3.4zM135.5 469.3l1.7 3.1h-3.4zM136.2 465.7l1.7 3.1h-3.4zM136.8 465l1.7 3.1h-3.4zM137.4 463.3l1.7 3.1h-3.4zM138.1 455.5l1.7 3.1h-3.4zM138.7 456.9l1.7 3.1h-3.4zM139.3 460.8l1.7 3.1h-3.4zM140 464.3l1.7 3.1h-3.4zM140.6 467.1l1.7 3.1h-3.4zM141.2 470.9l1.7 3.1h-3.4zM141.9 471.4l1.7 3.1h-3.4zM142.5 468.7l1.7 3.1h-3.4zM143.1 465l1.7 3.1h-3.4zM143.8 473.4l1.7 3.1h-3.4zM144.4 479.8l1.7 3.1h-3.4zM145 476.5l1.7 3.1h-3.4zM145.7 475.6l1.7 3.1h-3.4zM146.3 477.4l1.7 3.1h-3.4zM146.9 479.8l1.7 3.1h-3.4zM147.6 485.9l1.7 3.1h-3.4zM148.2 490.4l1.7 3.1h-3.4zM148.8 493.8l1.7 3.1h-3.4zM149.5 496.7l1.7 3.1h-3.4zM150.1 491l1.7 3.1h-3.4zM150.7 479.8l1.7 3.1h-3.4zM151.4 485.6l1.7 3.1h-3.4zM152 473.5l1.7 3.1h-3.4zM152.6 467.5l1.7 3.1h-3.4zM153.3 462.9l1.7 3.1h-3.4zM153.9 461.7l1.7 3.1h-3.4zM154.5 460.8l1.7 3.1h-3.4zM155.2 459l1.7 3.1h-3.4zM155.8 458.7l1.7 3.1h-3.4zM156.4 459.1l1.7 3.1h-3.4zM157.1 460.8l1.7 3.1h-3.4zM157.7 469l1.7 3.1h-3.4zM158.3 462.9l1.7 3.1h-3.4zM159 459.3l1.7 3.1h-3.4zM159.6 458.7l1.7 3.1h-3.4zM160.2 466.7l1.7 3.1h-3.4zM160.9 460.8l1.7 3.1h-3.4zM161.5 460.1l1.7 3.1h-3.4zM162.1 458.7l1.7 3.1h-3.4zM162.8 460.5l1.7 3.1h-3.4zM163.4 462.9l1.7 3.1h-3.4zM164 460.8l1.7 3.1h-3.4zM164.7 460.8l1.7 3.1h-3.4zM165.3 456.8l1.7 3.1h-3.4zM165.9 454.5l1.7 3.1h-3.4zM166.6 456.3l1.7 3.1h-3.4zM167.2 456.6l1.7 3.1h-3.4zM167.8 457.8l1.7 3.1h-3.4zM168.5 458.7l1.7 3.1h-3.4zM169.1 453.7l1.7 3.1h-3.4zM169.7 452.4l1.7 3.1h-3.4zM170.4 455.2l1.7 3.1h-3.4zM171 455.5l1.7 3.1h-3.4zM171.6 453.8l1.7 3.1h-3.4zM172.3 454.5l1.7 3.1h-3.4zM172.9 466.6l1.7 3.1h-3.4zM173.5 458.7l1.7 3.1h-3.4zM174.2 458.8l1.7 3.1h-3.4zM174.8 456.6l1.7 3.1h-3.4zM175.4 460.5l1.7 3.1h-3.4zM176.1 462.9l1.7 3.1h-3.4zM176.7 459.8l1.7 3.1h-3.4zM177.3 458.7l1.7 3.1h-3.4zM178 462.3l1.7 3.1h-3.4zM178.6 462.9l1.7 3.1h-3.4zM179.2 460.5l1.7 3.1h-3.4zM179.9 460.8l1.7 3.1h-3.4zM180.5 458.8l1.7 3.1h-3.4zM181.1 458.7l1.7 3.1h-3.4zM181.8 462.7l1.7 3.1h-3.4zM182.4 465l1.7 3.1h-3.4zM183 465.9l1.7 3.1h-3.4zM183.7 467.1l1.7 3.1h-3.4zM184.3 469.1l1.7 3.1h-3.4zM184.9 471.4l1.7 3.1h-3.4zM185.6 470.1l1.7 3.1h-3.4zM186.2 469.3l1.7 3.1h-3.4zM186.8 472.1l1.7 3.1h-3.4zM187.5 473.5l1.7 3.1h-3.4zM188.1 468.9l1.7 3.1h-3.4zM188.7 462.9l1.7 3.1h-3.4zM189.4 464.6l1.7 3.1h-3.4zM190 467.1l1.7 3.1h-3.4zM190.6 475.4l1.7 3.1h-3.4zM191.3 477.7l1.7 3.1h-3.4zM192.3 481.9l1.7 3.1h-3.4z" fill="#1f6be0"/><path d="M25.1 469 26 464.8 26.6 466.6 27.2 466.9 27.9 463 28.5 460.6 29.1 456.1 29.8 452.1 30.6 456.3 31.4 464.8 32.1 466.3 32.7 469 33.3 471.7 34 473.2 34.6 469.5 35.2 466.9 36.1 471.1 36.7 472.5 37.4 475.3 38 479.1 38.6 483.8 39.5 500.7 40.3 485.9 40.9 482.1 41.6 477.5 42.2 472.7 42.8 469 43.7 479.6 44.3 473.7 44.9 466.9 45.6 463.4 46.2 460.6 46.8 461.4 47.5 462.7 48.1 457.9 48.7 452.1 49.4 453.7 50 454.2 50.6 455.4 51.3 456.3 51.9 459.2 52.5 460.6 53.2 462.4 53.8 462.7 54.4 460 55.1 456.3 55.7 455 56.3 454.2 57 457.9 57.6 460.6 58.2 462.2 58.9 464.8 59.5 467 60.1 468 60.8 466.7 61.4 466.9 62 465.5 62.7 464.8 63.3 467.6 63.9 469 64.6 468.5 65.2 466.9 65.8 468.6 66.5 471.1 67.1 467.7 67.7 464.8 68.4 465.1 69 466.9 69.6 473.1 70.3 479.6 71.1 481.7 72 475.3 72.6 473.1 73.2 471.1 73.9 472.4 74.5 469 75.1 471.9 75.8 475.3 76.4 482.5 77 490.1 77.9 483.8 78.5 477.8 79.1 473.2 79.8 466.6 80.4 460.6 81 455.6 81.7 452.1 82.3 449.2 82.9 447.9 83.6 445 84.2 442.6 84.8 442.5 85.5 441.6 86.1 442.5 86.7 442.6 87.6 441 88.4 439.5 89.1 439.3 89.7 438.4 90.3 440.4 91 441.6 91.6 445.9 92.2 449 92.9 452.4 93.5 455.3 94.3 457.4 95 450.6 95.6 443.7 96.2 439.5 96.9 435.2 97.5 433.4 98.1 430.5 99 428.8 99.8 426.4 100.5 424.7 101.2 422 101.9 420.8 102.8 419.5 103.6 418.1 104.5 417 105.3 416.5 106.2 416.3 107 415.9 107.9 415.4 108.7 416 109.8 416.7 110.6 418 111.5 418.5 112.3 420.4 113.2 421.5 114 423.1 114.9 426 115.7 430.7 116.6 434.6 117.4 439.9 118.2 443.7 118.9 445 119.5 447.9 120.1 449.7 120.8 452.1 121.4 454.8 122 456.3 122.9 462.7 123.7 473.2 124.6 492.2 125.4 496.5 126.3 485.9 127.1 477.5 127.9 481.7 128.8 469 129.4 466.3 130.1 464.8 130.7 472.9 131.3 481.7 132 473.7 132.6 466.9 133.4 460.6 134.1 466.8 134.7 473.2 135.3 475.2 136 477.5 136.8 475.3 137.4 472.9 138.1 469 138.7 466.5 139.3 462.7 140 461.2 140.6 460.6 141.2 461.6 141.9 462.7 142.5 460.7 143.1 458.5 143.8 458.2 144.4 456.3 145 454 145.7 453.2 146.3 455.3 146.9 458.5 147.6 464.2 148.2 466.9 148.8 470.7 149.5 475.3 150.3 498.6 151.2 485.9 151.8 481.3 152.4 475.3 153.1 472.6 153.7 471.1 154.5 490.1 155.4 504.9 156.2 485.9 157.1 469 157.7 466.6 158.3 462.7 159 460.5 159.6 458.5 160.2 457.8 160.9 456.3 161.5 454.9 162.1 454.2 162.8 453.4 163.4 452.1 164 450.8 164.7 449 165.3 449.2 165.9 447.9 166.6 448.5 167.2 450 167.8 450.2 168.5 449 169.1 451.1 169.7 452.1 170.4 453.7 171 454.2 171.6 450.9 172.3 449 172.9 447.9 173.5 445.8 174.2 447.2 174.8 450 175.4 452.5 176.1 454.2 176.7 453.8 177.3 452.1 178 455.2 178.6 458.5 179.2 461.9 179.9 464.8 180.5 463.5 181.1 462.7 181.8 459.9 182.4 458.5 183 463 183.7 466.9 184.3 467.9 184.9 469 185.6 466.8 186.2 464.8 186.8 468 187.5 471.1 188.1 472.4 188.7 475.3 189.4 476 190 477.5 190.6 478.1 191.3 479.6 192.3 481.7" fill="none" stroke="#ff2222" stroke-width="0.65"/><path d="M25.1 469h0M26 464.8h0M26.6 466.6h0M27.2 466.9h0M27.9 463h0M28.5 460.6h0M29.1 456.1h0M29.8 452.1h0M30.6 456.3h0M31.4 464.8h0M32.1 466.3h0M32.7 469h0M33.3 471.7h0M34 473.2h0M34.6 469.5h0M35.2 466.9h0M36.1 471.1h0M36.7 472.5h0M37.4 475.3h0M38 479.1h0M38.6 483.8h0M39.5 500.7h0M40.3 485.9h0M40.9 482.1h0M41.6 477.5h0M42.2 472.7h0M42.8 469h0M43.7 479.6h0M44.3 473.7h0M44.9 466.9h0M45.6 463.4h0M46.2 460.6h0M46.8 461.4h0M47.5 462.7h0M48.1 457.9h0M48.7 452.1h0M49.4 453.7h0M50 454.2h0M50.6 455.4h0M51.3 456.3h0M51.9 459.2h0M52.5 460.6h0M53.2 462.4h0M53.8 462.7h0M54.4 460h0M55.1 456.3h0M55.7 455h0M56.3 454.2h0M57 457.9h0M57.6 460.6h0M58.2 462.2h0M58.9 464.8h0M59.5 467h0M60.1 468h0M60.8 466.7h0M61.4 466.9h0M62 465.5h0M62.7 464.8h0M63.3 467.6h0M63.9 469h0M64.6 468.5h0M65.2 466.9h0M65.8 468.6h0M66.5 471.1h0M67.1 467.7h0M67.7 464.8h0M68.4 465.1h0M69 466.9h0M69.6 473.1h0M70.3 479.6h0M71.1 481.7h0M72 475.3h0M72.6 473.1h0M73.2 471.1h0M73.9 472.4h0M74.5 469h0M75.1 471.9h0M75.8 475.3h0M76.4 482.5h0M77 490.1h0M77.9 483.8h0M78.5 477.8h0M79.1 473.2h0M79.8 466.6h0M80.4 460.6h0M81 455.6h0M81.7 452.1h0M82.3 449.2h0M82.9 447.9h0M83.6 445h0M84.2 442.6h0M84.8 442.5h0M85.5 441.6h0M86.1 442.5h0M86.7 442.6h0M87.6 441h0M88.4 439.5h0M89.1 439.3h0M89.7 438.4h0M90.3 440.4h0M91 441.6h0M91.6 445.9h0M92.2 449h0M92.9 452.4h0M93.5 455.3h0M94.3 457.4h0M95 450.6h0M95.6 443.7h0M96.2 439.5h0M96.9 435.2h0M97.5 433.4h0M98.1 430.5h0M99 428.8h0M99.8 426.4h0M100.5 424.7h0M101.2 422h0M101.9 420.8h0M102.8 419.5h0M103.6 418.1h0M104.5 417h0M105.3 416.5h0M106.2 416.3h0M107 415.9h0M107.9 415.4h0M108.7 416h0M109.8 416.7h0M110.6 418h0M111.5 418.5h0M112.3 420.4h0M113.2 421.5h0M114 423.1h0M114.9 426h0M115.7 430.7h0M116.6 434.6h0M117.4 439.9h0M118.2 443.7h0M118.9 445h0M119.5 447.9h0M120.1 449.7h0M120.8 452.1h0M121.4 454.8h0M122 456.3h0M122.9 462.7h0M123.7 473.2h0M124.6 492.2h0M125.4 496.5h0M126.3 485.9h0M127.1 477.5h0M127.9 481.7h0M128.8 469h0M129.4 466.3h0M130.1 464.8h0M130.7 472.9h0M131.3 481.7h0M132 473.7h0M132.6 466.9h0M133.4 460.6h0M134.1 466.8h0M134.7 473.2h0M135.3 475.2h0M136 477.5h0M136.8 475.3h0M137.4 472.9h0M138.1 469h0M138.7 466.5h0M139.3 462.7h0M140 461.2h0M140.6 460.6h0M141.2 461.6h0M141.9 462.7h0M142.5 460.7h0M143.1 458.5h0M143.8 458.2h0M144.4 456.3h0M145 454h0M145.7 453.2h0M146.3 455.3h0M146.9 458.5h0M147.6 464.2h0M148.2 466.9h0M148.8 470.7h0M149.5 475.3h0M150.3 498.6h0M151.2 485.9h0M151.8 481.3h0M152.4 475.3h0M153.1 472.6h0M153.7 471.1h0M154.5 490.1h0M155.4 504.9h0M156.2 485.9h0M157.1 469h0M157.7 466.6h0M158.3 462.7h0M159 460.5h0M159.6 458.5h0M160.2 457.8h0M160.9 456.3h0M161.5 454.9h0M162.1 454.2h0M162.8 453.4h0M163.4 452.1h0M164 450.8h0M164.7 449h0M165.3 449.2h0M165.9 447.9h0M166.6 448.5h0M167.2 450h0M167.8 450.2h0M168.5 449h0M169.1 451.1h0M169.7 452.1h0M170.4 453.7h0M171 454.2h0M171.6 450.9h0M172.3 449h0M172.9 447.9h0M173.5 445.8h0M174.2 447.2h0M174.8 450h0M175.4 452.5h0M176.1 454.2h0M176.7 453.8h0M177.3 452.1h0M178 455.2h0M178.6 458.5h0M179.2 461.9h0M179.9 464.8h0M180.5 463.5h0M181.1 462.7h0M181.8 459.9h0M182.4 458.5h0M183 463h0M183.7 466.9h0M184.3 467.9h0M184.9 469h0M185.6 466.8h0M186.2 464.8h0M186.8 468h0M187.5 471.1h0M188.1 472.4h0M188.7 475.3h0M189.4 476h0M190 477.5h0M190.6 478.1h0M191.3 479.6h0M192.3 481.7h0" fill="none" stroke="#ff2222" stroke-width="2.7" stroke-linecap="round"/></g><rect x="25" y="415" width="167.4" height="100.5" fill="none" stroke="#5a5a5a" stroke-width="0.9"/><path d="M38.95 515.5v-1.3M52.9 515.5v-2.2M66.85 515.5v-1.3M80.8 515.5v-2.2M94.75 515.5v-1.3M108.7 515.5v-2.2M122.65 515.5v-1.3M136.6 515.5v-2.2M150.55 515.5v-1.3M164.5 515.5v-2.2M178.45 515.5v-1.3M25 502.94h1.3M25 490.38h2.2M25 477.81h1.3M25 465.25h2.2M25 452.69h1.3M25 440.12h2.2M25 427.56h1.3" stroke="#5a5a5a" stroke-width="0.8" fill="none"/><text x="23.12" y="524.9" font-size="7.5" fill="#1c1c1c" stroke="#1c1c1c" stroke-width="0.1">90</text><text x="51.02" y="524.9" font-size="7.5" fill="#1c1c1c" stroke="#1c1c1c" stroke-width="0.1">60</text><text x="78.92" y="524.9" font-size="7.5" fill="#1c1c1c" stroke="#1c1c1c" stroke-width="0.1">30</text><text x="106.83" y="524.9" font-size="7.5" fill="#1c1c1c" stroke="#1c1c1c" stroke-width="0.1">0</text><text x="132.85" y="524.9" font-size="7.5" fill="#1c1c1c" stroke="#1c1c1c" stroke-width="0.1">30</text><text x="160.75" y="524.9" font-size="7.5" fill="#1c1c1c" stroke="#1c1c1c" stroke-width="0.1">60</text><text x="188.65" y="524.9" font-size="7.5" fill="#1c1c1c" stroke="#1c1c1c" stroke-width="0.1">90</text><text x="22.7" y="418.3" font-size="7.5" text-anchor="end" fill="#1c1c1c" stroke="#1c1c1c" stroke-width="0.1">0</text><text x="22.7" y="443.43" font-size="7.5" text-anchor="end" fill="#1c1c1c" stroke="#1c1c1c" stroke-width="0.1">10</text><text x="22.7" y="468.55" font-size="7.5" text-anchor="end" fill="#1c1c1c" stroke="#1c1c1c" stroke-width="0.1">20</text><text x="22.7" y="493.68" font-size="7.5" text-anchor="end" fill="#1c1c1c" stroke="#1c1c1c" stroke-width="0.1">30</text><text x="22.7" y="518.8" font-size="7.5" text-anchor="end" fill="#1c1c1c" stroke="#1c1c1c" stroke-width="0.1">40</text><path d="M19.38 522.35h3.5M47.27 522.35h3.5M75.17 522.35h3.5M11.45 440.88h3.5M11.45 466h3.5M11.45 491.12h3.5M11.45 516.25h3.5" stroke="#1c1c1c" stroke-width="0.6"/><text x="94.3" y="533.8" font-size="7.6" textLength="28.8" lengthAdjust="spacingAndGlyphs" fill="#1c1c1c" stroke="#1c1c1c" stroke-width="0.1">Theta/deg</text><text x="-15.5" y="467.75" font-size="7.5" textLength="42.0" lengthAdjust="spacingAndGlyphs" fill="#1c1c1c" stroke="#1c1c1c" stroke-width="0.1" transform="rotate(-90 5.5 465.25)">Magnitude/dB</text><text x="27.4" y="422" font-size="7.4" fill="#1c1c1c" stroke="#1c1c1c" stroke-width="0.1">E-plane</text></g>
<g><path d="M256.16 414.6V515.2M270.12 414.6V515.2M284.07 414.6V515.2M298.03 414.6V515.2M311.99 414.6V515.2M325.95 414.6V515.2M339.91 414.6V515.2M353.87 414.6V515.2M367.82 414.6V515.2M381.78 414.6V515.2M395.74 414.6V515.2M242.2 502.63H409.7M242.2 490.05H409.7M242.2 477.48H409.7M242.2 464.9H409.7M242.2 452.33H409.7M242.2 439.75H409.7M242.2 427.18H409.7" stroke="#eeeeee" stroke-width="0.6" fill="none"/><rect x="354.9" y="415.1" width="54.3" height="27.5" fill="#fff"/><path d="M356.9 419.4h10.3" stroke="#333" stroke-width="0.8"/><circle cx="362.05" cy="419.4" r="1.3" fill="#333"/><text x="370.7" y="421.9" font-size="7.4" textLength="38.03" lengthAdjust="spacingAndGlyphs" fill="#1c1c1c" stroke="#1c1c1c" stroke-width="0.1">Simu.Co-pol</text><path d="M356.9 428.3h10.3" stroke="#f22" stroke-width="0.8"/><circle cx="362.05" cy="428.3" r="1.3" fill="#f22"/><text x="370.7" y="430.8" font-size="7.4" textLength="38.43" lengthAdjust="spacingAndGlyphs" fill="#1c1c1c" stroke="#1c1c1c" stroke-width="0.1">Meas.Co-pol</text><path d="M356.9 437.6h10.3" stroke="#1f6be0" stroke-width="0.8"/><path d="M362.05 436.1l1.5 2.5h-3z" fill="#1f6be0"/><text x="370.7" y="440.1" font-size="7.4" textLength="37.05" lengthAdjust="spacingAndGlyphs" fill="#1c1c1c" stroke="#1c1c1c" stroke-width="0.1">Meas.Cr-pol</text><clipPath id="ceH"><rect x="240.7" y="413.1" width="170.5" height="103.6"/></clipPath><g clip-path="url(#ceH)"><path d="M242.2 450.1 243.1 447.5 244.1 445.2 245 443 245.9 441 246.9 439.3 247.8 437.9 248.7 436.8 249.6 435.9 250.6 435.1 251.5 434.3 252.4 433.6 253.4 432.9 254.3 432.3 255.2 431.8 256.2 431.4 257.1 431 258 430.8 258.9 430.7 259.9 430.6 260.8 430.7 261.7 430.7 262.7 430.9 263.6 431.2 264.5 431.6 265.5 432.3 266.4 433 267.3 433.9 268.3 435 269.2 436.4 270.1 438.2 271 440.2 272 442.4 272.9 444.7 273.8 447.1 274.8 449.5 275.7 451.9 276.6 453.9 277.6 455.4 278.5 456.5 279.4 457.1 280.4 457.4 281.3 457.4 282.2 457 283.1 456.3 284.1 455.5 285 454.7 285.9 453.8 286.9 452.8 287.8 451.9 288.7 450.9 289.7 449.9 290.6 449.1 291.5 448.3 292.4 447.6 293.4 447.1 294.3 446.7 295.2 446.6 296.2 446.6 297.1 447 298 447.6 299 448.5 299.9 449.7 300.8 451.3 301.8 453.4 302.7 455.8 303.6 458.8 304.5 462.2 305.5 465.5 306.4 466.8 307.3 464 308.3 460.5 309.2 456.6 310.1 453 311.1 450.3 312 447.5 312.9 443.4 313.9 438.5 314.8 433.6 315.7 429 316.6 428.2 317.6 428.2 318.5 426.2 319.4 423.1 320.4 420.6 321.3 418.6 322.2 417.1 323.2 416 324.1 415.2 325 414.8 325.9 414.6 326.9 414.7 327.8 415 328.7 415.6 329.7 416.4 330.6 417.4 331.5 418.7 332.5 420.3 333.4 422.3 334.3 424.8 335.3 427.8 336.2 432.5 337.1 438 338 442.8 339 447 339.9 451.1 340.8 454.9 341.8 457.5 342.7 459 343.6 459.6 344.6 459.3 345.5 458.5 346.4 457.7 347.4 456.8 348.3 456.4 349.2 456.6 350.1 457.1 351.1 458 352 459.5 352.9 461.6 353.9 463.9 354.8 466.5 355.7 470.1 356.7 473.5 357.6 474 358.5 470.9 359.4 466 360.4 461.1 361.3 455.4 362.2 451.4 363.2 449.5 364.1 449 365 449.8 366 451.6 366.9 454.2 367.8 457.7 368.8 461.5 369.7 466.1 370.6 468 371.5 466 372.5 461.9 373.4 456.8 374.3 450.9 375.3 446 376.2 441.8 377.1 438.4 378.1 435.7 379 433.8 379.9 432.4 380.9 431.2 381.8 430.2 382.7 429.5 383.6 429.1 384.6 428.9 385.5 429.1 386.4 429.5 387.4 430 388.3 430.8 389.2 431.7 390.2 432.8 391.1 434.1 392 435.6 392.9 437.3 393.9 438.9 394.8 440.4 395.7 442 396.7 443.5 397.6 445.1 398.5 446.7 399.5 448.2 400.4 449.6 401.3 450.9 402.3 452.2 403.2 453.3 404.1 454.3 405 455.3 406 456.1 406.9 456.8 407.8 457.4 408.8 458 409.7 458.5" fill="none" stroke="#3a3a3a" stroke-width="0.9"/><path d="M242.2 450.1h0M243.1 447.5h0M244.1 445.2h0M245 443h0M245.9 441h0M246.9 439.3h0M247.8 437.9h0M248.7 436.8h0M249.6 435.9h0M250.6 435.1h0M251.5 434.3h0M252.4 433.6h0M253.4 432.9h0M254.3 432.3h0M255.2 431.8h0M256.2 431.4h0M257.1 431h0M258 430.8h0M258.9 430.7h0M259.9 430.6h0M260.8 430.7h0M261.7 430.7h0M262.7 430.9h0M263.6 431.2h0M264.5 431.6h0M265.5 432.3h0M266.4 433h0M267.3 433.9h0M268.3 435h0M269.2 436.4h0M270.1 438.2h0M271 440.2h0M272 442.4h0M272.9 444.7h0M273.8 447.1h0M274.8 449.5h0M275.7 451.9h0M276.6 453.9h0M277.6 455.4h0M278.5 456.5h0M279.4 457.1h0M280.4 457.4h0M281.3 457.4h0M282.2 457h0M283.1 456.3h0M284.1 455.5h0M285 454.7h0M285.9 453.8h0M286.9 452.8h0M287.8 451.9h0M288.7 450.9h0M289.7 449.9h0M290.6 449.1h0M291.5 448.3h0M292.4 447.6h0M293.4 447.1h0M294.3 446.7h0M295.2 446.6h0M296.2 446.6h0M297.1 447h0M298 447.6h0M299 448.5h0M299.9 449.7h0M300.8 451.3h0M301.8 453.4h0M302.7 455.8h0M303.6 458.8h0M304.5 462.2h0M305.5 465.5h0M306.4 466.8h0M307.3 464h0M308.3 460.5h0M309.2 456.6h0M310.1 453h0M311.1 450.3h0M312 447.5h0M312.9 443.4h0M313.9 438.5h0M314.8 433.6h0M315.7 429h0M316.6 428.2h0M317.6 428.2h0M318.5 426.2h0M319.4 423.1h0M320.4 420.6h0M321.3 418.6h0M322.2 417.1h0M323.2 416h0M324.1 415.2h0M325 414.8h0M325.9 414.6h0M326.9 414.7h0M327.8 415h0M328.7 415.6h0M329.7 416.4h0M330.6 417.4h0M331.5 418.7h0M332.5 420.3h0M333.4 422.3h0M334.3 424.8h0M335.3 427.8h0M336.2 432.5h0M337.1 438h0M338 442.8h0M339 447h0M339.9 451.1h0M340.8 454.9h0M341.8 457.5h0M342.7 459h0M343.6 459.6h0M344.6 459.3h0M345.5 458.5h0M346.4 457.7h0M347.4 456.8h0M348.3 456.4h0M349.2 456.6h0M350.1 457.1h0M351.1 458h0M352 459.5h0M352.9 461.6h0M353.9 463.9h0M354.8 466.5h0M355.7 470.1h0M356.7 473.5h0M357.6 474h0M358.5 470.9h0M359.4 466h0M360.4 461.1h0M361.3 455.4h0M362.2 451.4h0M363.2 449.5h0M364.1 449h0M365 449.8h0M366 451.6h0M366.9 454.2h0M367.8 457.7h0M368.8 461.5h0M369.7 466.1h0M370.6 468h0M371.5 466h0M372.5 461.9h0M373.4 456.8h0M374.3 450.9h0M375.3 446h0M376.2 441.8h0M377.1 438.4h0M378.1 435.7h0M379 433.8h0M379.9 432.4h0M380.9 431.2h0M381.8 430.2h0M382.7 429.5h0M383.6 429.1h0M384.6 428.9h0M385.5 429.1h0M386.4 429.5h0M387.4 430h0M388.3 430.8h0M389.2 431.7h0M390.2 432.8h0M391.1 434.1h0M392 435.6h0M392.9 437.3h0M393.9 438.9h0M394.8 440.4h0M395.7 442h0M396.7 443.5h0M397.6 445.1h0M398.5 446.7h0M399.5 448.2h0M400.4 449.6h0M401.3 450.9h0M402.3 452.2h0M403.2 453.3h0M404.1 454.3h0M405 455.3h0M406 456.1h0M406.9 456.8h0M407.8 457.4h0M408.8 458h0M409.7 458.5h0" fill="none" stroke="#3a3a3a" stroke-width="2.5" stroke-linecap="round"/><path d="M242.2 503.9 243 495.5 243.8 465.9 244.6 501.8 245.5 463.8 246.3 491.2 247.2 476.5 248 503.9 248.9 461.7 249.7 501.8 250.6 476.5 251.4 495.5 252.2 459.6 253.1 472.2 253.9 459.6 254.8 491.2 255.6 461.7 256.5 472.2 257.1 468.7 257.7 463.8 258.4 479.6 259 468 259.6 473.7 260.3 478.6 260.9 478.8 261.5 468 262.2 463.3 262.8 461.7 263.4 456.9 264.1 455.3 264.7 462.1 265.3 465.9 266 464.2 266.6 461.7 267.2 461.2 267.9 457.5 268.5 458.2 269.1 455.3 269.8 455.7 270.4 459.6 271 456.9 271.7 453.2 272.3 452.6 272.9 451.1 273.6 451.8 274.2 450.1 274.8 454.5 275.5 455.3 276.1 459.8 276.7 461.7 277.4 461.3 278 457.5 278.6 456.9 279.3 453.2 279.9 464.8 280.5 448 281.2 461.6 281.8 455.3 282.4 456.7 283.1 449 283.7 452.9 284.3 459.6 284.9 456.1 285.6 453.2 286.2 452.1 286.8 452.2 287.5 451.6 288.1 453.2 288.7 453.1 289.4 445.8 290 457.2 290.6 451.1 291.3 460.3 291.9 453.2 292.8 455.3 293.4 460.2 294 459.6 294.7 459.6 295.3 457.5 295.9 460.3 296.6 461.7 297.4 459.8 298.2 455.3 298.9 463.9 299.5 453.2 300.1 466.1 300.8 476.5 301.6 463.8 302.5 457.5 303.3 482.8 303.9 481.7 304.6 461.7 305.2 457.9 305.8 453.2 306.5 450.9 307.1 451.1 307.7 463.8 308.4 446.9 309 459.7 309.6 453.2 310.3 470.6 310.9 480.7 311.8 489.1 312.6 459.6 313.2 466.8 313.9 453.2 314.5 458.9 315.1 461.7 315.8 464.1 316.4 463.8 317.2 464 318.1 465.9 318.9 465.5 319.8 468 320.6 478.6 321.5 463.8 322.3 460.3 323.1 459.6 323.8 469.4 324.4 455.3 325.2 458 325.9 463.8 327 461.7 327.6 459.7 328.2 455.3 328.9 463.5 329.5 451.1 330.1 447.3 330.8 446.9 331.4 451.6 332 453.2 332.7 456.1 333.3 461.7 333.9 477.1 334.6 468 335.2 468.8 335.8 453.2 336.5 470 337.1 461.7 337.7 460.1 338.4 459.6 339 458.1 339.6 457.5 340.2 465.5 340.9 470.1 341.5 467.6 342.1 461.7 342.8 455.6 343.4 451.1 344.3 457.5 345.1 487 345.9 459.6 346.6 456.8 347.2 453.2 347.8 460.5 348.5 457.5 349.1 460 349.7 463.8 350.6 500.7 351.4 461.7 352.1 465.1 352.7 457.5 353.3 469.4 354 453.2 354.6 467.5 355.2 480.7 356.1 465.9 356.7 463.1 357.3 459.6 358 459 358.6 461.7 359.2 458.6 359.9 457.5 360.5 461.8 361.1 463.8 361.8 479.5 362.4 468 363 466.3 363.7 461.7 364.3 468.4 364.9 463.8 365.6 479.2 366.2 482.8 366.8 469.5 367.5 459.6 368.1 463.3 368.7 457.5 369.4 468.8 370 463.8 370.6 472.4 371.3 463.8 372.1 451.1 372.7 459.5 373.4 446.9 374 455.5 374.6 465.9 375.3 473.7 375.9 459.6 376.5 459.9 377.2 463.8 377.8 462.9 378.4 461.7 379.1 468.6 379.7 472.2 380.3 471.1 381 457.5 381.6 454.6 382.2 453.2 382.9 453.9 383.5 457.5 384.1 461.1 384.8 461.7 385.4 469.6 386 474.3 386.7 482 387.3 457.5 387.9 457.3 388.6 459.6 389.2 471.8 389.8 480.7 390.5 478.7 391.1 455.3 391.7 458.9 392.4 461.7 393 461.3 393.6 463.8 394.3 474.6 394.9 470.1 395.5 477 396.2 482.8 396.8 484.3 397.4 474.3 398.1 481.5 398.7 491.2 399.3 486.4 400 484.9 400.6 478.2 401.2 470.1 401.9 473.2 402.5 476.5 403.1 488.2 403.8 497.6 404.4 497.5 405 484.9 405.7 478 406.3 474.3 406.9 473.2 407.6 472.2 408.2 480.3 408.8 463.8 409.7 461.7" fill="none" stroke="#1f6be0" stroke-width="0.65"/><path d="M242.2 502l1.7 3.1h-3.4zM243 493.6l1.7 3.1h-3.4zM243.8 464l1.7 3.1h-3.4zM244.6 499.9l1.7 3.1h-3.4zM245.5 461.9l1.7 3.1h-3.4zM246.3 489.4l1.7 3.1h-3.4zM247.2 474.6l1.7 3.1h-3.4zM248 502l1.7 3.1h-3.4zM248.9 459.8l1.7 3.1h-3.4zM249.7 499.9l1.7 3.1h-3.4zM250.6 474.6l1.7 3.1h-3.4zM251.4 493.6l1.7 3.1h-3.4zM252.2 457.7l1.7 3.1h-3.4zM253.1 470.4l1.7 3.1h-3.4zM253.9 457.7l1.7 3.1h-3.4zM254.8 489.4l1.7 3.1h-3.4zM255.6 459.8l1.7 3.1h-3.4zM256.5 470.4l1.7 3.1h-3.4zM257.1 466.8l1.7 3.1h-3.4zM257.7 461.9l1.7 3.1h-3.4zM258.4 477.7l1.7 3.1h-3.4zM259 466.1l1.7 3.1h-3.4zM259.6 471.8l1.7 3.1h-3.4zM260.3 476.7l1.7 3.1h-3.4zM260.9 476.9l1.7 3.1h-3.4zM261.5 466.1l1.7 3.1h-3.4zM262.2 461.4l1.7 3.1h-3.4zM262.8 459.8l1.7 3.1h-3.4zM263.4 455l1.7 3.1h-3.4zM264.1 453.5l1.7 3.1h-3.4zM264.7 460.2l1.7 3.1h-3.4zM265.3 464l1.7 3.1h-3.4zM266 462.3l1.7 3.1h-3.4zM266.6 459.8l1.7 3.1h-3.4zM267.2 459.4l1.7 3.1h-3.4zM267.9 455.6l1.7 3.1h-3.4zM268.5 456.3l1.7 3.1h-3.4zM269.1 453.5l1.7 3.1h-3.4zM269.8 453.8l1.7 3.1h-3.4zM270.4 457.7l1.7 3.1h-3.4zM271 455l1.7 3.1h-3.4zM271.7 451.4l1.7 3.1h-3.4zM272.3 450.8l1.7 3.1h-3.4zM272.9 449.2l1.7 3.1h-3.4zM273.6 449.9l1.7 3.1h-3.4zM274.2 448.2l1.7 3.1h-3.4zM274.8 452.6l1.7 3.1h-3.4zM275.5 453.5l1.7 3.1h-3.4zM276.1 457.9l1.7 3.1h-3.4zM276.7 459.8l1.7 3.1h-3.4zM277.4 459.5l1.7 3.1h-3.4zM278 455.6l1.7 3.1h-3.4zM278.6 455.1l1.7 3.1h-3.4zM279.3 451.4l1.7 3.1h-3.4zM279.9 463l1.7 3.1h-3.4zM280.5 446.1l1.7 3.1h-3.4zM281.2 459.8l1.7 3.1h-3.4zM281.8 453.5l1.7 3.1h-3.4zM282.4 454.8l1.7 3.1h-3.4zM283.1 447.1l1.7 3.1h-3.4zM283.7 451.1l1.7 3.1h-3.4zM284.3 457.7l1.7 3.1h-3.4zM284.9 454.3l1.7 3.1h-3.4zM285.6 451.4l1.7 3.1h-3.4zM286.2 450.3l1.7 3.1h-3.4zM286.8 450.3l1.7 3.1h-3.4zM287.5 449.7l1.7 3.1h-3.4zM288.1 451.4l1.7 3.1h-3.4zM288.7 451.2l1.7 3.1h-3.4zM289.4 444l1.7 3.1h-3.4zM290 455.4l1.7 3.1h-3.4zM290.6 449.2l1.7 3.1h-3.4zM291.3 458.4l1.7 3.1h-3.4zM291.9 451.4l1.7 3.1h-3.4zM292.8 453.5l1.7 3.1h-3.4zM293.4 458.3l1.7 3.1h-3.4zM294 457.7l1.7 3.1h-3.4zM294.7 457.8l1.7 3.1h-3.4zM295.3 455.6l1.7 3.1h-3.4zM295.9 458.4l1.7 3.1h-3.4zM296.6 459.8l1.7 3.1h-3.4zM297.4 458l1.7 3.1h-3.4zM298.2 453.5l1.7 3.1h-3.4zM298.9 462l1.7 3.1h-3.4zM299.5 451.4l1.7 3.1h-3.4zM300.1 464.2l1.7 3.1h-3.4zM300.8 474.6l1.7 3.1h-3.4zM301.6 461.9l1.7 3.1h-3.4zM302.5 455.6l1.7 3.1h-3.4zM303.3 480.9l1.7 3.1h-3.4zM303.9 479.9l1.7 3.1h-3.4zM304.6 459.8l1.7 3.1h-3.4zM305.2 456l1.7 3.1h-3.4zM305.8 451.4l1.7 3.1h-3.4zM306.5 449l1.7 3.1h-3.4zM307.1 449.2l1.7 3.1h-3.4zM307.7 461.9l1.7 3.1h-3.4zM308.4 445l1.7 3.1h-3.4zM309 457.8l1.7 3.1h-3.4zM309.6 451.4l1.7 3.1h-3.4zM310.3 468.8l1.7 3.1h-3.4zM310.9 478.8l1.7 3.1h-3.4zM311.8 487.3l1.7 3.1h-3.4zM312.6 457.7l1.7 3.1h-3.4zM313.2 464.9l1.7 3.1h-3.4zM313.9 451.4l1.7 3.1h-3.4zM314.5 457l1.7 3.1h-3.4zM315.1 459.8l1.7 3.1h-3.4zM315.8 462.3l1.7 3.1h-3.4zM316.4 461.9l1.7 3.1h-3.4zM317.2 462.1l1.7 3.1h-3.4zM318.1 464l1.7 3.1h-3.4zM318.9 463.6l1.7 3.1h-3.4zM319.8 466.1l1.7 3.1h-3.4zM320.6 476.7l1.7 3.1h-3.4zM321.5 461.9l1.7 3.1h-3.4zM322.3 458.5l1.7 3.1h-3.4zM323.1 457.7l1.7 3.1h-3.4zM323.8 467.6l1.7 3.1h-3.4zM324.4 453.5l1.7 3.1h-3.4zM325.2 456.1l1.7 3.1h-3.4zM325.9 461.9l1.7 3.1h-3.4zM327 459.8l1.7 3.1h-3.4zM327.6 457.8l1.7 3.1h-3.4zM328.2 453.5l1.7 3.1h-3.4zM328.9 461.7l1.7 3.1h-3.4zM329.5 449.2l1.7 3.1h-3.4zM330.1 445.5l1.7 3.1h-3.4zM330.8 445l1.7 3.1h-3.4zM331.4 449.7l1.7 3.1h-3.4zM332 451.4l1.7 3.1h-3.4zM332.7 454.2l1.7 3.1h-3.4zM333.3 459.8l1.7 3.1h-3.4zM333.9 475.3l1.7 3.1h-3.4zM334.6 466.1l1.7 3.1h-3.4zM335.2 466.9l1.7 3.1h-3.4zM335.8 451.4l1.7 3.1h-3.4zM336.5 468.1l1.7 3.1h-3.4zM337.1 459.8l1.7 3.1h-3.4zM337.7 458.2l1.7 3.1h-3.4zM338.4 457.7l1.7 3.1h-3.4zM339 456.2l1.7 3.1h-3.4zM339.6 455.6l1.7 3.1h-3.4zM340.2 463.6l1.7 3.1h-3.4zM340.9 468.3l1.7 3.1h-3.4zM341.5 465.8l1.7 3.1h-3.4zM342.1 459.8l1.7 3.1h-3.4zM342.8 453.7l1.7 3.1h-3.4zM343.4 449.2l1.7 3.1h-3.4zM344.3 455.6l1.7 3.1h-3.4zM345.1 485.1l1.7 3.1h-3.4zM345.9 457.7l1.7 3.1h-3.4zM346.6 454.9l1.7 3.1h-3.4zM347.2 451.4l1.7 3.1h-3.4zM347.8 458.6l1.7 3.1h-3.4zM348.5 455.6l1.7 3.1h-3.4zM349.1 458.2l1.7 3.1h-3.4zM349.7 461.9l1.7 3.1h-3.4zM350.6 498.9l1.7 3.1h-3.4zM351.4 459.8l1.7 3.1h-3.4zM352.1 463.2l1.7 3.1h-3.4zM352.7 455.6l1.7 3.1h-3.4zM353.3 467.5l1.7 3.1h-3.4zM354 451.4l1.7 3.1h-3.4zM354.6 465.6l1.7 3.1h-3.4zM355.2 478.8l1.7 3.1h-3.4zM356.1 464l1.7 3.1h-3.4zM356.7 461.3l1.7 3.1h-3.4zM357.3 457.7l1.7 3.1h-3.4zM358 457.1l1.7 3.1h-3.4zM358.6 459.8l1.7 3.1h-3.4zM359.2 456.7l1.7 3.1h-3.4zM359.9 455.6l1.7 3.1h-3.4zM360.5 460l1.7 3.1h-3.4zM361.1 461.9l1.7 3.1h-3.4zM361.8 477.6l1.7 3.1h-3.4zM362.4 466.1l1.7 3.1h-3.4zM363 464.5l1.7 3.1h-3.4zM363.7 459.8l1.7 3.1h-3.4zM364.3 466.5l1.7 3.1h-3.4zM364.9 461.9l1.7 3.1h-3.4zM365.6 477.3l1.7 3.1h-3.4zM366.2 480.9l1.7 3.1h-3.4zM366.8 467.7l1.7 3.1h-3.4zM367.5 457.7l1.7 3.1h-3.4zM368.1 461.5l1.7 3.1h-3.4zM368.7 455.6l1.7 3.1h-3.4zM369.4 466.9l1.7 3.1h-3.4zM370 461.9l1.7 3.1h-3.4zM370.6 470.5l1.7 3.1h-3.4zM371.3 461.9l1.7 3.1h-3.4zM372.1 449.2l1.7 3.1h-3.4zM372.7 457.7l1.7 3.1h-3.4zM373.4 445l1.7 3.1h-3.4zM374 453.7l1.7 3.1h-3.4zM374.6 464l1.7 3.1h-3.4zM375.3 471.8l1.7 3.1h-3.4zM375.9 457.7l1.7 3.1h-3.4zM376.5 458l1.7 3.1h-3.4zM377.2 461.9l1.7 3.1h-3.4zM377.8 461l1.7 3.1h-3.4zM378.4 459.8l1.7 3.1h-3.4zM379.1 466.7l1.7 3.1h-3.4zM379.7 470.4l1.7 3.1h-3.4zM380.3 469.2l1.7 3.1h-3.4zM381 455.6l1.7 3.1h-3.4zM381.6 452.7l1.7 3.1h-3.4zM382.2 451.4l1.7 3.1h-3.4zM382.9 452l1.7 3.1h-3.4zM383.5 455.6l1.7 3.1h-3.4zM384.1 459.2l1.7 3.1h-3.4zM384.8 459.8l1.7 3.1h-3.4zM385.4 467.7l1.7 3.1h-3.4zM386 472.5l1.7 3.1h-3.4zM386.7 480.2l1.7 3.1h-3.4zM387.3 455.6l1.7 3.1h-3.4zM387.9 455.5l1.7 3.1h-3.4zM388.6 457.7l1.7 3.1h-3.4zM389.2 469.9l1.7 3.1h-3.4zM389.8 478.8l1.7 3.1h-3.4zM390.5 476.9l1.7 3.1h-3.4zM391.1 453.5l1.7 3.1h-3.4zM391.7 457l1.7 3.1h-3.4zM392.4 459.8l1.7 3.1h-3.4zM393 459.5l1.7 3.1h-3.4zM393.6 461.9l1.7 3.1h-3.4zM394.3 472.7l1.7 3.1h-3.4zM394.9 468.3l1.7 3.1h-3.4zM395.5 475.1l1.7 3.1h-3.4zM396.2 480.9l1.7 3.1h-3.4zM396.8 482.4l1.7 3.1h-3.4zM397.4 472.5l1.7 3.1h-3.4zM398.1 479.6l1.7 3.1h-3.4zM398.7 489.4l1.7 3.1h-3.4zM399.3 484.5l1.7 3.1h-3.4zM400 483l1.7 3.1h-3.4zM400.6 476.3l1.7 3.1h-3.4zM401.2 468.3l1.7 3.1h-3.4zM401.9 471.4l1.7 3.1h-3.4zM402.5 474.6l1.7 3.1h-3.4zM403.1 486.4l1.7 3.1h-3.4zM403.8 495.7l1.7 3.1h-3.4zM404.4 495.7l1.7 3.1h-3.4zM405 483l1.7 3.1h-3.4zM405.7 476.2l1.7 3.1h-3.4zM406.3 472.5l1.7 3.1h-3.4zM406.9 471.3l1.7 3.1h-3.4zM407.6 470.4l1.7 3.1h-3.4zM408.2 478.4l1.7 3.1h-3.4zM408.8 461.9l1.7 3.1h-3.4zM409.7 459.8l1.7 3.1h-3.4z" fill="#1f6be0"/><path d="M242.2 472.2 242.5 459.6 243.4 453.2 244 450.8 244.6 446.9 245.3 445.4 245.9 442.7 246.5 440.2 247.2 438.5 247.8 436.2 248.4 435.3 249.3 435 250.1 433.2 251 433.1 251.8 434.2 252.7 432.5 253.5 432.1 254.4 432 255.2 433.2 256 432.6 256.9 431.1 257.6 432 258.3 431.7 259 432.1 259.7 433.3 260.4 433.4 261.1 434.2 261.7 435.2 262.4 436.3 263 436.8 263.6 438.5 264.3 440.4 264.9 442.7 265.5 442.1 266.2 440.6 266.8 441.7 267.4 441.6 268.1 440 268.7 439.5 269.3 440.6 270 440.6 270.8 442.4 271.7 443.7 272.5 445.6 273.3 449 274 451 274.6 453.2 275.2 455.5 275.9 456.4 276.5 459.8 277.1 459.6 277.8 461.5 278.4 463.8 279.3 482.8 280.1 463.8 280.7 461.2 281.4 459.6 282 464.1 282.6 463.8 283.5 482.8 284.3 462.7 284.9 461.2 285.6 458.5 286.2 456.2 286.8 455.3 287.5 458.1 288.1 461.7 288.7 465 289.4 467 290 464 290.6 461.7 291.3 459.2 291.9 457.5 292.5 455 293.2 453.2 293.8 450.9 294.4 448 295.1 447.2 295.7 446.9 296.3 447.6 297 448 297.6 446.6 298.2 444.8 298.9 446.6 299.5 444.8 300.1 441.2 300.8 438.5 301.4 438.4 302 437.4 302.7 438.9 303.3 439.5 303.9 439.8 304.6 440.6 305.2 443.7 305.8 445.8 306.5 449.2 307.1 451.1 307.7 455 308.4 457.5 309 457.1 309.6 456.4 310.3 456.2 310.9 456.4 311.5 453.9 312.2 452.2 312.8 448 313.4 442.7 314.3 438.4 315.1 432.1 315.8 430.7 316.5 429.5 317.2 428.1 317.9 426.7 318.6 425.2 319.3 423.3 320.1 421.8 320.8 419.6 321.6 419.2 322.3 417 323.2 416.1 324.1 415.8 325 414.7 325.9 414.6 326.6 414.6 327.4 414.9 328.2 415 329.1 415.8 329.9 416.2 330.8 417.6 331.6 419 332.4 420.3 333.3 422.5 334.1 424.2 335 428.6 335.8 432.6 336.5 438.5 337.1 444.2 337.7 447.6 338.4 451.1 339.2 455.3 340 451.1 340.7 448.6 341.3 446.9 341.9 446 342.6 444.8 343.2 444.4 343.8 443.7 344.5 443.6 345.1 442.7 345.9 441.9 346.8 441.6 347.6 441.5 348.5 440.6 349.3 440.6 350.2 441.6 350.8 443.4 351.4 443.7 352.3 447.2 353.1 449 353.8 449.9 354.4 451.1 355 449.3 355.7 449 356.3 448.3 356.9 446.9 357.6 445.2 358.2 442.7 358.8 441.5 359.5 439.5 360.1 439.2 360.7 438.5 361.4 439.8 362 440.6 362.6 438.9 363.3 438.5 363.9 437.7 364.5 436.3 365.2 437.1 365.8 436.3 366.4 437.9 367.1 440.6 367.7 441.4 368.3 442.7 368.9 443.8 369.6 443.7 370.2 446.7 370.8 449 371.5 452.2 372.1 455.3 372.7 451.5 373.4 449 374.2 440.6 375.1 444.8 375.7 451.4 376.3 459.6 377.2 472.2 378 482.8 378.9 484.9 379.7 474.3 380.3 465.5 381 455.3 381.6 452.4 382.2 449 382.9 447.4 383.5 446.9 384.1 447.9 384.8 449 385.4 446.3 386 444.8 386.7 443.7 387.3 442.7 387.9 442.1 388.6 440.6 389.2 439.2 389.8 438.5 390.5 437.6 391.1 436.3 391.7 435.9 392.4 435.3 393 436.7 393.6 439.5 394.3 441.1 394.9 442.7 395.5 444.2 396.2 446.9 396.8 448.4 397.4 450.1 398.1 448.1 398.7 445.8 399.3 445.5 400 444.8 400.6 446.8 401.2 448 401.9 449.1 402.5 451.1 403.3 453.3 404.2 455.3 405 453.9 405.9 453.2 406.7 454.7 407.6 456.4 408.4 455.5 409.3 455.3 409.7 456.4" fill="none" stroke="#ff2222" stroke-width="0.65"/><path d="M242.2 472.2h0M242.5 459.6h0M243.4 453.2h0M244 450.8h0M244.6 446.9h0M245.3 445.4h0M245.9 442.7h0M246.5 440.2h0M247.2 438.5h0M247.8 436.2h0M248.4 435.3h0M249.3 435h0M250.1 433.2h0M251 433.1h0M251.8 434.2h0M252.7 432.5h0M253.5 432.1h0M254.4 432h0M255.2 433.2h0M256 432.6h0M256.9 431.1h0M257.6 432h0M258.3 431.7h0M259 432.1h0M259.7 433.3h0M260.4 433.4h0M261.1 434.2h0M261.7 435.2h0M262.4 436.3h0M263 436.8h0M263.6 438.5h0M264.3 440.4h0M264.9 442.7h0M265.5 442.1h0M266.2 440.6h0M266.8 441.7h0M267.4 441.6h0M268.1 440h0M268.7 439.5h0M269.3 440.6h0M270 440.6h0M270.8 442.4h0M271.7 443.7h0M272.5 445.6h0M273.3 449h0M274 451h0M274.6 453.2h0M275.2 455.5h0M275.9 456.4h0M276.5 459.8h0M277.1 459.6h0M277.8 461.5h0M278.4 463.8h0M279.3 482.8h0M280.1 463.8h0M280.7 461.2h0M281.4 459.6h0M282 464.1h0M282.6 463.8h0M283.5 482.8h0M284.3 462.7h0M284.9 461.2h0M285.6 458.5h0M286.2 456.2h0M286.8 455.3h0M287.5 458.1h0M288.1 461.7h0M288.7 465h0M289.4 467h0M290 464h0M290.6 461.7h0M291.3 459.2h0M291.9 457.5h0M292.5 455h0M293.2 453.2h0M293.8 450.9h0M294.4 448h0M295.1 447.2h0M295.7 446.9h0M296.3 447.6h0M297 448h0M297.6 446.6h0M298.2 444.8h0M298.9 446.6h0M299.5 444.8h0M300.1 441.2h0M300.8 438.5h0M301.4 438.4h0M302 437.4h0M302.7 438.9h0M303.3 439.5h0M303.9 439.8h0M304.6 440.6h0M305.2 443.7h0M305.8 445.8h0M306.5 449.2h0M307.1 451.1h0M307.7 455h0M308.4 457.5h0M309 457.1h0M309.6 456.4h0M310.3 456.2h0M310.9 456.4h0M311.5 453.9h0M312.2 452.2h0M312.8 448h0M313.4 442.7h0M314.3 438.4h0M315.1 432.1h0M315.8 430.7h0M316.5 429.5h0M317.2 428.1h0M317.9 426.7h0M318.6 425.2h0M319.3 423.3h0M320.1 421.8h0M320.8 419.6h0M321.6 419.2h0M322.3 417h0M323.2 416.1h0M324.1 415.8h0M325 414.7h0M325.9 414.6h0M326.6 414.6h0M327.4 414.9h0M328.2 415h0M329.1 415.8h0M329.9 416.2h0M330.8 417.6h0M331.6 419h0M332.4 420.3h0M333.3 422.5h0M334.1 424.2h0M335 428.6h0M335.8 432.6h0M336.5 438.5h0M337.1 444.2h0M337.7 447.6h0M338.4 451.1h0M339.2 455.3h0M340 451.1h0M340.7 448.6h0M341.3 446.9h0M341.9 446h0M342.6 444.8h0M343.2 444.4h0M343.8 443.7h0M344.5 443.6h0M345.1 442.7h0M345.9 441.9h0M346.8 441.6h0M347.6 441.5h0M348.5 440.6h0M349.3 440.6h0M350.2 441.6h0M350.8 443.4h0M351.4 443.7h0M352.3 447.2h0M353.1 449h0M353.8 449.9h0M354.4 451.1h0M355 449.3h0M355.7 449h0M356.3 448.3h0M356.9 446.9h0M357.6 445.2h0M358.2 442.7h0M358.8 441.5h0M359.5 439.5h0M360.1 439.2h0M360.7 438.5h0M361.4 439.8h0M362 440.6h0M362.6 438.9h0M363.3 438.5h0M363.9 437.7h0M364.5 436.3h0M365.2 437.1h0M365.8 436.3h0M366.4 437.9h0M367.1 440.6h0M367.7 441.4h0M368.3 442.7h0M368.9 443.8h0M369.6 443.7h0M370.2 446.7h0M370.8 449h0M371.5 452.2h0M372.1 455.3h0M372.7 451.5h0M373.4 449h0M374.2 440.6h0M375.1 444.8h0M375.7 451.4h0M376.3 459.6h0M377.2 472.2h0M378 482.8h0M378.9 484.9h0M379.7 474.3h0M380.3 465.5h0M381 455.3h0M381.6 452.4h0M382.2 449h0M382.9 447.4h0M383.5 446.9h0M384.1 447.9h0M384.8 449h0M385.4 446.3h0M386 444.8h0M386.7 443.7h0M387.3 442.7h0M387.9 442.1h0M388.6 440.6h0M389.2 439.2h0M389.8 438.5h0M390.5 437.6h0M391.1 436.3h0M391.7 435.9h0M392.4 435.3h0M393 436.7h0M393.6 439.5h0M394.3 441.1h0M394.9 442.7h0M395.5 444.2h0M396.2 446.9h0M396.8 448.4h0M397.4 450.1h0M398.1 448.1h0M398.7 445.8h0M399.3 445.5h0M400 444.8h0M400.6 446.8h0M401.2 448h0M401.9 449.1h0M402.5 451.1h0M403.3 453.3h0M404.2 455.3h0M405 453.9h0M405.9 453.2h0M406.7 454.7h0M407.6 456.4h0M408.4 455.5h0M409.3 455.3h0M409.7 456.4h0" fill="none" stroke="#ff2222" stroke-width="2.7" stroke-linecap="round"/></g><rect x="242.2" y="414.6" width="167.5" height="100.6" fill="none" stroke="#5a5a5a" stroke-width="0.9"/><path d="M256.16 515.2v-1.3M270.12 515.2v-2.2M284.07 515.2v-1.3M298.03 515.2v-2.2M311.99 515.2v-1.3M325.95 515.2v-2.2M339.91 515.2v-1.3M353.87 515.2v-2.2M367.82 515.2v-1.3M381.78 515.2v-2.2M395.74 515.2v-1.3M242.2 502.63h1.3M242.2 490.05h2.2M242.2 477.48h1.3M242.2 464.9h2.2M242.2 452.33h1.3M242.2 439.75h2.2M242.2 427.18h1.3" stroke="#5a5a5a" stroke-width="0.8" fill="none"/><text x="240.32" y="524.6" font-size="7.5" fill="#1c1c1c" stroke="#1c1c1c" stroke-width="0.1">90</text><text x="268.24" y="524.6" font-size="7.5" fill="#1c1c1c" stroke="#1c1c1c" stroke-width="0.1">60</text><text x="296.16" y="524.6" font-size="7.5" fill="#1c1c1c" stroke="#1c1c1c" stroke-width="0.1">30</text><text x="324.07" y="524.6" font-size="7.5" fill="#1c1c1c" stroke="#1c1c1c" stroke-width="0.1">0</text><text x="350.12" y="524.6" font-size="7.5" fill="#1c1c1c" stroke="#1c1c1c" stroke-width="0.1">30</text><text x="378.03" y="524.6" font-size="7.5" fill="#1c1c1c" stroke="#1c1c1c" stroke-width="0.1">60</text><text x="405.95" y="524.6" font-size="7.5" fill="#1c1c1c" stroke="#1c1c1c" stroke-width="0.1">90</text><text x="239.9" y="417.9" font-size="7.5" text-anchor="end" fill="#1c1c1c" stroke="#1c1c1c" stroke-width="0.1">0</text><text x="239.9" y="443.05" font-size="7.5" text-anchor="end" fill="#1c1c1c" stroke="#1c1c1c" stroke-width="0.1">10</text><text x="239.9" y="468.2" font-size="7.5" text-anchor="end" fill="#1c1c1c" stroke="#1c1c1c" stroke-width="0.1">20</text><text x="239.9" y="493.35" font-size="7.5" text-anchor="end" fill="#1c1c1c" stroke="#1c1c1c" stroke-width="0.1">30</text><text x="239.9" y="518.5" font-size="7.5" text-anchor="end" fill="#1c1c1c" stroke="#1c1c1c" stroke-width="0.1">40</text><path d="M236.57 522.05h3.5M264.49 522.05h3.5M292.41 522.05h3.5M228.65 440.5h3.5M228.65 465.65h3.5M228.65 490.8h3.5M228.65 515.95h3.5" stroke="#1c1c1c" stroke-width="0.6"/><text x="311.55" y="533.5" font-size="7.6" textLength="28.8" lengthAdjust="spacingAndGlyphs" fill="#1c1c1c" stroke="#1c1c1c" stroke-width="0.1">Theta/deg</text><text x="201.4" y="467.4" font-size="7.5" textLength="42.6" lengthAdjust="spacingAndGlyphs" fill="#1c1c1c" stroke="#1c1c1c" stroke-width="0.1" transform="rotate(-90 222.7 464.9)">Magnitude/dB</text><text x="243.7" y="421.6" font-size="7.35" fill="#1c1c1c" stroke="#1c1c1c" stroke-width="0.1">H-plane</text></g>
<text x="207.2" y="135.2" font-size="9" font-weight="bold" text-anchor="middle" fill="#1a1a1a">(b)</text>
<text x="209.5" y="271.7" font-size="9" font-weight="bold" text-anchor="middle" fill="#1a1a1a">(c)</text>
<text x="207.4" y="408.6" font-size="9" font-weight="bold" text-anchor="middle" fill="#1a1a1a">(d)</text>
<text x="207" y="545" font-size="9" font-weight="bold" text-anchor="middle" fill="#1a1a1a">(e)</text>
</svg></body></html>
